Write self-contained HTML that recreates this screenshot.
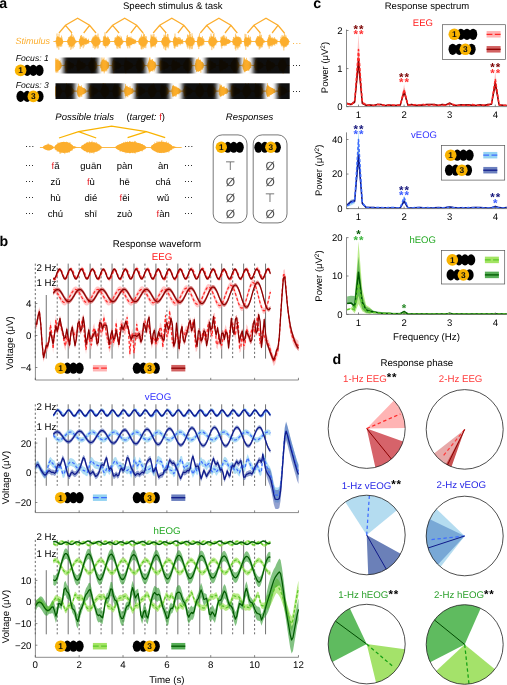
<!DOCTYPE html>
<html><head><meta charset="utf-8"><style>
html,body{margin:0;padding:0;background:#fff;}
svg{display:block;font-family:'Liberation Sans', 'DejaVu Sans', sans-serif;text-rendering:geometricPrecision;}
</style></head><body>
<svg width="507" height="685" viewBox="0 0 507 685">
<defs>
<filter id="hb" x="-0.2" y="0" width="1.4" height="1"><feGaussianBlur stdDeviation="2.1 0"/></filter>
<clipPath id="cb0"><rect x="55.5" y="57.5" width="234.2" height="15.9"/></clipPath>
<clipPath id="cb1"><rect x="55.5" y="83.2" width="234.2" height="15.8"/></clipPath>
<clipPath id="cc106"><rect x="346.5" y="20" width="161" height="86.6"/></clipPath>
<clipPath id="cc208"><rect x="346.5" y="120" width="161" height="88.6"/></clipPath>
<clipPath id="cc314"><rect x="346.5" y="225" width="161" height="89.4"/></clipPath>
</defs>
<text x="-0.8" y="7.9" font-size="14.2" font-weight="bold">a</text>
<text x="172.8" y="9.4" font-size="9.6" text-anchor="middle">Speech stimulus &amp; task</text>
<path d="M59 33l6.5-7.7 12.1-7 12 7 6.4 7.7 M65.5 25.3l6.5 7.7 M89.6 25.3l-5.9 7.7 M106.1 33l6.5-7.7 12.1-7 12 7 6.4 7.7 M112.6 25.3l6.5 7.7 M136.7 25.3l-5.9 7.7 M153.2 33l6.5-7.7 12.1-7 12 7 6.4 7.7 M159.7 25.3l6.5 7.7 M183.8 25.3l-5.9 7.7 M200.3 33l6.5-7.7 12.1-7 12 7 6.4 7.7 M206.8 25.3l6.5 7.7 M230.9 25.3l-5.9 7.7 M247.4 33l6.5-7.7 12.1-7 12 7 6.4 7.7 M253.9 25.3l6.5 7.7 M278 25.3l-5.9 7.7" fill="none" stroke="#fcae2e" stroke-width="1.25"/>
<text x="15.6" y="43.8" font-size="9.0" fill="#fcae2e" font-style="italic">Stimulus</text>
<path d="M53.5 41.3l.5 0 .5 0 .5 0 .5 0 .5 0 .5-2.1 .5-1.6 .5-1.2 .5 .9 .5-.5 .5 .3 .5 .3 .5 .6 .5-.4 .5 .5 .5 .5 .5 .5 .5 .5 .5 1.7 .5 0 .5 0 .5 0 .5 0 .5 0 .5 0 .5 0 .5 0 .5 0 .5-1.8 .5-.6 .5-.8 .5-.8 .5-.3 .5 .1 .5-.2 .5-.1 .5-.4 .5 .4 .5 .5 .5 .3 .5 .8 .5 .3 .5 .9 .5 1.2 .5 .1 .5 .2 .5 .2 .5 0 .5 0 .5 0 .5 0 .5-1.8 .5-1.9 .5 .1 .5-.3 .5-.1 .5 .9 .5-.5 .5 .8 .5-.2 .5 .6 .5 .1 .5 .1 .5-.2 .5 .3 .5 .2 .5 .2 .5 .3 .5 .1 .5 .2 .5 1.1 .5 0 .5 0 .5 0 .5 0 .5 0 .5-1.5 .5-.5 .5-1 .5-.3 .5-.4 .5-.4 .5 .2 .5-.9 .5 .2 .5 .5 .5-.4 .5 .8 .5 .1 .5 .2 .5 .7 .5 .8 .5 .5 .5 1.4 .5 0 .5 0 .5 0 .5 0 .5 0 .5-2 .5-2.1 .5-.2 .5 .3 .5-.3 .5 .3 .5 .2 .5 .4 .5 0 .5 .6 .5-.2 .5 .7 .5 .5 .5 1.8 .5 0 .5 0 .5 0 .5 0 .5 0 .5 0 .5 0 .5 0 .5 0 .5-1.7 .5-.7 .5-.7 .5-.4 .5-.7 .5 .3 .5-.4 .5-.7 .5 .4 .5 .3 .5 .4 .5 .6 .5-.2 .5 .6 .5 .9 .5 1.5 .5 0 .5 .3 .5 .2 .5 0 .5 0 .5 0 .5 0 .5-1.9 .5-1.8 .5 .1 .5-.6 .5 .4 .5 .1 .5 .7 .5 .2 .5-.3 .5 .1 .5 .5 .5 .3 .5 .1 .5-.1 .5 .2 .5 .4 .5 .2 .5 .1 .5 .2 .5 1.1 .5 0 .5 0 .5 0 .5 0 .5 0 .5-1.5 .5-.7 .5-.4 .5-.9 .5-.1 .5-.1 .5-.3 .5-.3 .5-.5 .5 .6 .5-.4 .5 .9 .5-.3 .5 .5 .5 1 .5 .6 .5 .7 .5 1.2 .5 0 .5 0 .5 0 .5 0 .5 0 .5-1.8 .5-2.2 .5-.4 .5-.4 .5 .2 .5 .6 .5 .1 .5 .3 .5 .4 .5-.1 .5 .3 .5 .7 .5 .5 .5 1.8 .5 0 .5 0 .5 0 .5 0 .5 0 .5 0 .5 0 .5 0 .5 0 .5-1.7 .5-1 .5-.2 .5-.9 .5-.3 .5-.6 .5 .4 .5-.2 .5 .3 .5-.3 .5 .8 .5-.2 .5 .4 .5 1 .5 .7 .5 1.3 .5 0 .5 .3 .5 .2 .5 0 .5 0 .5 0 .5 0 .5-1.8 .5-1.7 .5-.8 .5 .4 .5-.1 .5 .4 .5 .5 .5-.3 .5 .8 .5-.2 .5 .5 .5 .1 .5 .1 .5 .1 .5 .3 .5 .1 .5 .1 .5 .3 .5 .1 .5 1.1 .5 0 .5 0 .5 0 .5 0 .5 0 .5-1.5 .5-.6 .5-.6 .5-.9 .5 .3 .5-.4 .5-.1 .5-.2 .5 0 .5-.6 .5 .1 .5 .6 .5-.2 .5 .6 .5 .4 .5 .8 .5 1 .5 1.3 .5 0 .5 0 .5 0 .5 0 .5 0 .5-1.9 .5-1.8 .5-.6 .5 .4 .5-.5 .5 .1 .5 .6 .5 .1 .5 0 .5 .7 .5 0 .5 .7 .5 .5 .5 1.7 .5 0 .5 0 .5 0 .5 0 .5 0 .5 0 .5 0 .5 0 .5 0 .5-1.8 .5-.7 .5-.3 .5-.5 .5-.6 .5-.7 .5 .2 .5-.2 .5 .1 .5 .6 .5-.1 .5 .4 .5 .4 .5 .3 .5 1.2 .5 1.1 .5 .1 .5 .3 .5 .2 .5 0 .5 0 .5 0 .5 0 .5 0 .5-1.7 .5-2.1 .5-.2 .5 0 .5 .4 .5 .4 .5-.4 .5 .4 .5 .3 .5-.1 .5 .4 .5 .3 .5 .3 .5 .1 .5-.1 .5 .5 .5 0 .5 .2 .5 .2 .5 1.1 .5 0 .5 0 .5 0 .5 0 .5-1.2 .5-.8 .5-.9 .5-.7 .5 .2 .5-.5 .5-.6 .5 .2 .5-.7 .5 .9 .5 .1 .5-.3 .5 .4 .5 .3 .5 1.1 .5 .6 .5 .7 .5 1.2 .5 0 .5 0 .5 0 .5 0 .5 0 .5-2 .5-1.4 .5-1.2 .5 .3 .5 .4 .5 .1 .5 .3 .5-.5 .5 .5 .5 .2 .5 .5 .5 .7 .5 .4 .5 1.7 .5 0 .5 0 .5 0 .5 0 .5 0 .5 0 .5 0 .5 0 .5 0 .5-1.5 .5-1.1 .5-.3 .5-.5 .5-.6 .5 0 .5-.6 .5 .6 .5 0 .5-.1 .5 .4 .5-.3 .5 .6 .5 .7 .5 .8 .5 1.4 .5 .1 .5 .2 .5 .2 .5 0 .5 0 .5 0 .5 0 .5 0 .5-2 .5-1.2 .5-1 .5 .8 .5-.1 .5 .1 .5 .5 .5-.5 .5 .6 .5 .3 .5-.2 .5 .4 .5 .1 .5 .1 .5 .1 .5 .3 .5 .2 .5 .1 .5 .3 .5 1.1 .5 0 .5 0 .5 0 .5 0 .5 0 .5-1.5 .5-.7 .5-.8 .5-.6 .5-.2 .5-.6 .5 0 .5 .1 .5-.2 .5 .4 .5-.7 .5 1 .5 .2 .5 .6 .5 0 .5 .8 .5 .8 .5 1.4 .5 0 0 .6-.5 0-.5 1.4-.5 .8-.5 .8-.5 0-.5 .6-.5 .2-.5 1-.5-.7-.5 .4-.5-.2-.5 .1-.5 0-.5-.6-.5-.2-.5-.6-.5-.8-.5-.7-.5-1.5-.5 0-.5 0-.5 0-.5 0-.5 0-.5 1.1-.5 .3-.5 .1-.5 .2-.5 .3-.5 .1-.5 .1-.5 .1-.5 .4-.5-.2-.5 .3-.5 .6-.5-.5-.5 .5-.5 .1-.5-.1-.5 .8-.5-1-.5-1.2-.5-2-.5 0-.5 0-.5 0-.5 0-.5 0-.5 .2-.5 .2-.5 .1-.5 1.4-.5 .8-.5 .7-.5 .6-.5-.3-.5 .4-.5-.1-.5 0-.5 .6-.5-.6-.5 0-.5-.6-.5-.5-.5-.3-.5-1.1-.5-1.5-.5 0-.5 0-.5 0-.5 0-.5 0-.5 0-.5 0-.5 0-.5 0-.5 1.7-.5 .4-.5 .7-.5 .5-.5 .2-.5 .5-.5-.5-.5 .3-.5 .1-.5 .4-.5 .3-.5-1.2-.5-1.4-.5-2-.5 0-.5 0-.5 0-.5 0-.5 0-.5 1.2-.5 .7-.5 .6-.5 1.1-.5 .3-.5 .4-.5-.3-.5 .1-.5 .9-.5-.7-.5 .2-.5-.6-.5-.5-.5 .2-.5-.7-.5-.9-.5-.8-.5-1.2-.5 0-.5 0-.5 0-.5 0-.5 1.1-.5 .2-.5 .2-.5 0-.5 .5-.5-.1-.5 .1-.5 .3-.5 .3-.5 .4-.5-.1-.5 .3-.5 .4-.5-.4-.5 .4-.5 .4-.5 0-.5-.2-.5-2.1-.5-1.7-.5 0-.5 0-.5 0-.5 0-.5 0-.5 .2-.5 .3-.5 .1-.5 1.1-.5 1.2-.5 .3-.5 .4-.5 .4-.5-.1-.5 .6-.5 .1-.5-.2-.5 .2-.5-.7-.5-.6-.5-.5-.5-.3-.5-.7-.5-1.8-.5 0-.5 0-.5 0-.5 0-.5 0-.5 0-.5 0-.5 0-.5 0-.5 1.7-.5 .5-.5 .7-.5 0-.5 .7-.5 0-.5 .1-.5 .6-.5 .1-.5-.5-.5 .4-.5-.6-.5-1.8-.5-1.9-.5 0-.5 0-.5 0-.5 0-.5 0-.5 1.3-.5 1-.5 .8-.5 .4-.5 .6-.5-.2-.5 .6-.5 .1-.5-.6-.5 0-.5-.2-.5-.1-.5-.4-.5 .3-.5-.9-.5-.6-.5-.6-.5-1.5-.5 0-.5 0-.5 0-.5 0-.5 0-.5 1.1-.5 .1-.5 .3-.5 .1-.5 .1-.5 .3-.5 .1-.5 .1-.5 .1-.5 .5-.5-.2-.5 .8-.5-.3-.5 .5-.5 .4-.5-.1-.5 .4-.5-.8-.5-1.7-.5-1.8-.5 0-.5 0-.5 0-.5 0-.5 .2-.5 .3-.5 0-.5 1.3-.5 .7-.5 1-.5 .4-.5-.2-.5 .8-.5-.3-.5 .3-.5-.2-.5 .4-.5-.6-.5-.3-.5-.9-.5-.2-.5-1-.5-1.7-.5 0-.5 0-.5 0-.5 0-.5 0-.5 0-.5 0-.5 0-.5 0-.5 1.8-.5 .5-.5 .7-.5 .3-.5-.1-.5 .4-.5 .3-.5 .1-.5 .6-.5 .2-.5-.4-.5-.4-.5-2.2-.5-1.8-.5 0-.5 0-.5 0-.5 0-.5 0-.5 1.2-.5 .7-.5 .6-.5 1-.5 .5-.5-.3-.5 .9-.5-.4-.5 .6-.5-.5-.5-.3-.5-.3-.5-.1-.5-.1-.5-.9-.5-.4-.5-.7-.5-1.5-.5 0-.5 0-.5 0-.5 0-.5 0-.5 1.1-.5 .2-.5 .1-.5 .2-.5 .4-.5 .2-.5-.1-.5 .1-.5 .3-.5 .5-.5 .1-.5-.3-.5 .2-.5 .7-.5 .1-.5 .4-.5-.6-.5 .1-.5-1.8-.5-1.9-.5 0-.5 0-.5 0-.5 0-.5 .2-.5 .3-.5 0-.5 1.5-.5 .9-.5 .6-.5-.2-.5 .6-.5 .4-.5 .3-.5 .4-.5-.7-.5-.4-.5 .3-.5-.7-.5-.4-.5-.7-.5-.7-.5-1.7-.5 0-.5 0-.5 0-.5 0-.5 0-.5 0-.5 0-.5 0-.5 0-.5 1.8-.5 .5-.5 .7-.5-.2-.5 .6-.5 0-.5 .4-.5 .2-.5 .3-.5-.3-.5 .3-.5-.2-.5-2.1-.5-2-.5 0-.5 0-.5 0-.5 0-.5 0-.5 1.4-.5 .5-.5 .8-.5 .7-.5 .2-.5 .1-.5 .8-.5-.4-.5 .5-.5 .2-.5-.9-.5 .2-.5-.4-.5-.4-.5-.3-.5-1-.5-.5-.5-1.5-.5 0-.5 0-.5 0-.5 0-.5 0-.5 1.1-.5 .2-.5 .1-.5 .3-.5 .2-.5 .2-.5 .3-.5-.2-.5 .1-.5 .1-.5 .6-.5-.2-.5 .8-.5-.5-.5 .9-.5-.1-.5-.3-.5 .1-.5-1.9-.5-1.8-.5 0-.5 0-.5 0-.5 0-.5 .2-.5 .2-.5 .1-.5 1.2-.5 .9-.5 .3-.5 .8-.5 .3-.5 .5-.5 .4-.5-.4-.5-.1-.5-.2-.5 .1-.5-.3-.5-.8-.5-.8-.5-.6-.5-1.8-.5 0-.5 0-.5 0-.5 0-.5 0-.5 0-.5 0-.5 0-.5 0-.5 1.7-.5 .5-.5 .5-.5 .5-.5 .5-.5-.4-.5 .6-.5 .3-.5 .3-.5-.5-.5 .9-.5-1.2-.5-1.6-.5-2.1-.5 0-.5 0-.5 0-.5 0-.5 0Z" fill="#fcae2e"/><path d="M53.5 41.4l.3 .4 .2-.4 .2 .4 .3-.4 .3 .4 .2-.4 .2 .4 .3-.4 .3 .4 .2-1.7 .2 3.7 .3-6.3 .3 9.1 .2-13.1 .2 14.7 .3-12.1 .3 9.5 .2-8 .2 8.7 .3-9.7 .3 13.1 .2-16 .2 9.4 .3-4.3 .3 8 .2-9.5 .2 8.6 .3-7.9 .3 9 .2-8.3 .2 6.9 .3-10 .3 10.8 .2-9 .2 6.7 .3-3.8 .3 2.8 .2-1.7 .2 .4 .3-.4 .3 .4 .2-.4 .2 .4 .3-.4 .3 .4 .2-.4 .2 .4 .3-.4 .3 .4 .2-.4 .2 .4 .3-.4 .3 .4 .2-.4 .2 .4 .3-1.6 .3 2.6 .2-3.6 .2 5.9 .3-8.1 .3 8.1 .2-7.2 .2 9.5 .3-10.5 .3 10 .2-10.7 .2 7.8 .3-8.2 .3 14.1 .2-14.5 .2 11.6 .3-13.9 .3 15.6 .2-14.6 .2 12.2 .3-7.2 .3 7 .2-9.1 .2 11.3 .3-12.6 .3 8.8 .2-6.2 .2 8.6 .3-9.4 .3 6.2 .2-4 .2 3.7 .3-2.6 .3 2.1 .2-2.3 .2 1.8 .3-1.4 .3 1.1 .2-.7 .2 .4 .3-.4 .3 .4 .2-.4 .2 .4 .3-.4 .3 .4 .2-.4 .2 2.1 .3-4.4 .3 4.6 .2-4.4 .2 9.7 .3-13 .3 10.4 .2-11 .2 11.7 .3-12.1 .3 11.3 .2-8.7 .2 6.7 .3-7.2 .3 7.6 .2-8.6 .2 12.1 .3-9.3 .3 4.1 .2-6.1 .2 9.5 .3-6.9 .3 3.9 .2-5.4 .2 6.2 .3-5.6 .3 6.2 .2-7 .2 6.6 .3-5.7 .3 5.1 .2-3.7 .2 3.3 .3-3.4 .3 3.9 .2-3.9 .2 3.2 .3-4.4 .3 4.6 .2-2 .2 .4 .3-.4 .3 .4 .2-.4 .2 .4 .3-.4 .3 .4 .2-.4 .2 .4 .3-1.2 .3 2.4 .2-4.1 .2 4.6 .3-5.5 .3 5.3 .2-6.5 .2 11.2 .3-11.3 .3 9.1 .2-9.1 .2 9.7 .3-10.3 .3 13.2 .2-14.4 .2 12.4 .3-12.5 .3 13.6 .2-13.5 .2 12.5 .3-11.1 .3 7.6 .2-8.5 .2 10.9 .3-8.7 .3 11.1 .2-15.1 .2 14.1 .3-10.9 .3 7.7 .2-7 .2 7.4 .3-5.2 .3 3.9 .2-4.2 .2 3.1 .3-1.2 .3 .5 .2-.4 .2 .4 .3-.4 .3 .4 .2-.4 .2 .4 .3-.4 .3 .4 .2-1.4 .2 5.1 .3-9.1 .3 8.2 .2-7.8 .2 9 .3-10.1 .3 10 .2-13.4 .2 14.1 .3-10.6 .3 12.4 .2-10.7 .2 8.1 .3-7.5 .3 8 .2-8 .2 8.2 .3-9.8 .3 9.8 .2-9.5 .2 8.5 .3-7.8 .3 6.5 .2-5 .2 4.8 .3-4.4 .3 3.5 .2-1.5 .2 .4 .3-.4 .3 .4 .2-.4 .2 .4 .3-.4 .3 .4 .2-.4 .2 .4 .3-.4 .3 .4 .2-.4 .2 .4 .3-.4 .3 .4 .2-.4 .2 .4 .3-1.8 .3 3.2 .2-5.6 .2 7.4 .3-7.7 .3 7.7 .2-6.8 .2 7.7 .3-8.2 .3 10.7 .2-12.3 .2 10.5 .3-11.8 .3 14 .2-12.7 .2 9.4 .3-9.1 .3 7.9 .2-6.9 .2 10.7 .3-10.6 .3 10.6 .2-12.5 .2 12.8 .3-10.2 .3 6.5 .2-6.8 .2 4.9 .3-6.2 .3 7.7 .2-5 .2 4.8 .3-3.2 .3 1.3 .2-1.5 .2 1.6 .3-1.2 .3 .9 .2-.6 .2 .4 .3-.4 .3 .4 .2-.4 .2 .4 .3-.4 .3 .4 .2-.4 .2 1.7 .3-4.9 .3 7.7 .2-10.1 .2 10.6 .3-11.5 .3 13.5 .2-10.6 .2 7.1 .3-7.7 .3 8.7 .2-8.5 .2 9.7 .3-10.3 .3 11.5 .2-11 .2 8.3 .3-7.8 .3 6.8 .2-8.1 .2 8.4 .3-6.5 .3 6.8 .2-7.3 .2 5.9 .3-5.2 .3 4.4 .2-4.4 .2 5.4 .3-4.6 .3 4.3 .2-4.6 .2 5.1 .3-4.4 .3 3.5 .2-3.5 .2 3.2 .3-3.2 .3 3.8 .2-2.2 .2 .4 .3-.4 .3 .4 .2-.4 .2 .4 .3-.4 .3 .4 .2-.4 .2 .4 .3-.4 .3 1.2 .2-2.9 .2 4.8 .3-6.6 .3 7 .2-5.8 .2 5.1 .3-7.5 .3 9.6 .2-7.6 .2 10.4 .3-14.6 .3 15 .2-13.3 .2 12.1 .3-10 .3 8.8 .2-10.3 .2 12.3 .3-16.2 .3 14.2 .2-12.2 .2 13.1 .3-14 .3 13.4 .2-8.4 .2 7.3 .3-10.2 .3 12.1 .2-9.1 .2 6.2 .3-8.9 .3 7.2 .2-3.6 .2 3.5 .3-3.1 .3 1.5 .2-.5 .2 .4 .3-.4 .3 .4 .2-.4 .2 .4 .3-.4 .3 .4 .2-.4 .2 1.7 .3-3.7 .3 7.3 .2-12.2 .2 13.8 .3-12.8 .3 11.7 .2-8.3 .2 7.2 .3-9.5 .3 9.1 .2-11.3 .2 11 .3-9 .3 10.4 .2-12.8 .2 10.3 .3-7.4 .3 9 .2-8.6 .2 10 .3-8.9 .3 4.8 .2-6.5 .2 7.3 .3-5.1 .3 4.2 .2-3.3 .2 2 .3-.4 .3 .4 .2-.4 .2 .4 .3-.4 .3 .4 .2-.4 .2 .4 .3-.4 .3 .4 .2-.4 .2 .4 .3-.4 .3 .4 .2-.4 .2 .4 .3-.4 .3 1.6 .2-2.9 .2 4.5 .3-6.5 .3 6.4 .2-6.3 .2 7.9 .3-8.9 .3 11.4 .2-13.9 .2 12.4 .3-10.4 .3 9.6 .2-11 .2 14.7 .3-18.2 .3 18.6 .2-14.9 .2 12.2 .3-10.6 .3 7.9 .2-7.8 .2 9.9 .3-13.2 .3 13.4 .2-13.1 .2 14.2 .3-11.1 .3 9 .2-7.8 .2 4.8 .3-3.4 .3 2.4 .2-1.7 .2 1.9 .3-1.7 .3 1.4 .2-1 .2 .6 .3-.4 .3 .4 .2-.4 .2 .4 .3-.4 .3 .4 .2-.4 .2 1.7 .3-4.4 .3 7 .2-7.9 .2 10.1 .3-11.4 .3 12.3 .2-15.2 .2 13.7 .3-10 .3 7.8 .2-8.3 .2 9.9 .3-8.7 .3 7.6 .2-7.8 .2 9.1 .3-7.2 .3 6.8 .2-9.2 .2 6.7 .3-7 .3 6.4 .2-3.7 .2 3.9 .3-6.3 .3 6.9 .2-6.6 .2 7.7 .3-6.9 .3 4.9 .2-3.6 .2 4.3 .3-3.7 .3 2.9 .2-3.7 .2 4.7 .3-4.8 .3 4.5 .2-2.5 .2 .4 .3-.4 .3 .4 .2-.4 .2 .4 .3-.4 .3 .4 .2-.4 .2 .4 .3-.4 .3 1 .2-2.1 .2 3 .3-4.9 .3 6.9 .2-6.5 .2 8.3 .3-12.6 .3 14.1 .2-13.4 .2 11.1 .3-9.9 .3 8.6 .2-10.1 .2 12.8 .3-15.1 .3 16.9 .2-12.7 .2 11.5 .3-14.6 .3 11.3 .2-7 .2 7.6 .3-7.3 .3 10.9 .2-15.9 .2 15.4 .3-12.8 .3 10.3 .2-8.7 .2 6.5 .3-5.7 .3 6.8 .2-6.7 .2 5 .3-3.3 .3 1.8 .2-.5 .2 .4 .3-.4 .3 .4 .2-.4 .2 .4 .3-.4 .3 .4 .2-.4 .2 1.1 .3-2.8 .3 5.5 .2-8.2 .2 9.8 .3-9.9 .3 12.2 .2-13.4 .2 11.2 .3-13.5 .3 12.9 .2-6 .2 4.9 .3-7.9 .3 4.9 .2-4.8 .2 8.9 .3-7.9 .3 6.3 .2-7.6 .2 8.5 .3-9.5 .3 9.2 .2-5.2 .2 3.6 .3-5.3 .3 6.7 .2-5.7 .2 2.4 .3-.4 .3 .4 .2-.4 .2 .4 .3-.4 .3 .4 .2-.4 .2 .4 .3-.4 .3 .4 .2-.4 .2 .4 .3-.4 .3 .4 .2-.4 .2 .4 .3-.4 .3 1.9 .2-3.9 .2 4.8 .3-6.9 .3 7.9 .2-8.8 .2 9.9 .3-8.5 .3 8.3 .2-12.5 .2 11 .3-8.8 .3 14.3 .2-13.2 .2 9.8 .3-9.7 .3 9.9 .2-10.8 .2 12.2 .3-14.2 .3 14.2 .2-15.2 .2 13.3 .3-8 .3 5.5 .2-4.3 .2 4.9 .3-7.6 .3 8.5 .2-6.6 .2 4.8 .3-3.8 .3 2.5 .2-1.6 .2 1.5 .3-1.1 .3 1.1 .2-.9 .2 .5 .3-.4 .3 .4 .2-.4 .2 .4 .3-.4 .3 .4 .2-.4 .2 .4 .3-1.6 .3 2.6 .2-5.9 .2 9.5 .3-8.4 .3 10.5 .2-12.2 .2 8.8 .3-8.4 .3 8.4 .2-9.4 .2 9.8 .3-10 .3 9.7 .2-10.3 .2 11.3 .3-9.7 .3 7.5 .2-5.3 .2 7.4 .3-5.5 .3 3.9 .2-8.1 .2 9.5 .3-8.7 .3 7.2 .2-5.8 .2 4.8 .3-3.4 .3 3.1 .2-3.9 .2 4.8 .3-4.7 .3 2.6 .2-1.4 .2 2.7 .3-3.3 .3 3 .2-2.5 .2 1.4 .3-.4 .3 .4 .2-.4 .2 .4 .3-.4 .3 .4 .2-.4 .2 .4 .3-.4 .3 1.6 .2-3.9 .2 6.1 .3-8.2 .3 7.8 .2-7.9 .2 7.4 .3-5.2 .3 6 .2-7.1 .2 10.9 .3-15.2 .3 16.8 .2-15.3 .2 13 .3-11.2 .3 7.8 .2-8.5 .2 11.3 .3-10.3 .3 12.1 .2-11.3 .2 9.8 .3-11.4 .3 9.8 .2-7.9 .2 7.9 .3-9.3 .3 10.3 .2-10.3 .2 7.3 .3-6.2 .3 5.8 .2-5.2 .2 5.3 .3-3.6 .3 1.5 .2-.5 .2 .4 .3-.4 .3 .4 .2-.4 .2 .4 .3-.4 .3 .4 .2-.4 .2 1.1 .3-3.8 .3 7.1 .2-12 .2 12.7 .3-8.3 .3 11.6 .2-15.6 .2 11.4 .3-6.5 .3 7.1 .2-7.3 .2 7.9 .3-7.5 .3 7.9 .2-7.9 .2 7.2 .3-11.4 .3 10.1 .2-7.6 .2 7 .3-6 .3 5.4 .2-7.5 .2 8.7 .3-8 .3 6.1 .2-3.2 .2 1.7 .3-.4 .3 .4 .2-.4 .2 .4 .3-.4 .3 .4 .2-.4 .2 .4 .3-.4 .3 .4 .2-.4 .2 .4 .3-.4 .3 .4 .2-.4 .2 .4 .3-.4 .3 1.3 .2-3.1 .2 3.9 .3-5.2 .3 7.1 .2-8.2 .2 8.3 .3-9.5 .3 10.3 .2-10 .2 10.3 .3-10.3 .3 9.1 .2-8.7 .2 12.9 .3-14.3 .3 12.7 .2-15 .2 15.6 .3-13 .3 11.3 .2-8 .2 7.7 .3-11.8 .3 12.9 .2-9 .2 8.2 .3-8.6 .3 6.8 .2-6.5 .2 4.4 .3-3.2 .3 2.4 .2-1.8 .2 2.2 .3-2 .3 1.7 .2-1 .2 .5 .3-.4 .3 .4 .2-.4 .2 .4 .3-.4 .3 .4 .2-.4 .2 .4 .3-2.2 .3 5.5 .2-6.4 .2 7.7 .3-9.3 .3 9.1 .2-11.1 .2 13.6 .3-13.8 .3 11.3 .2-11.8 .2 11.8 .3-10 .3 10 .2-7.1 .2 5.6 .3-6.4 .3 8.2 .2-9.5 .2 9.2 .3-7.6 .3 6.7 .2-7.5 .2 5.5 .3-4.5 .3 6.3 .2-6.8 .2 6.5 .3-7.7 .3 8.5 .2-7.2 .2 5 .3-4.2 .3 4.5 .2-3.9 .2 3.8 .3-3.9 .3 4.7 .2-4.8 .2 2.2 .3-.4 .3 .4 .2-.4 .2 .4 .3-.4 .3 .4 .2-.4 .2 .4 .3-.4 .3 .4 .2-1 .2 2.3 .3-3.9 .3 4.1 .2-6.5 .2 8.6 .3-7 .3 8.1 .2-11.2 .2 9.4 .3-7.7 .3 7.1 .2-8.7 .2 12 .3-11.3 .3 14.3 .2-13.2 .2 10.5 .3-15.2 .3 14.7 .2-12.5 .2 11.4 .3-8.5 .3 9.2 .2-11.3 .2 11.4 .3-9.7 .3 8.5 .2-6.8 .2 6.6 .3-7.2 .3 6.5 .2-4.6 .2 4.5 .3-5.2 .3 3 .2-1.2 .2 .5 .3-.4 .3 .4" fill="none" stroke="#fcae2e" stroke-width="0.5" stroke-opacity="0.8"/>
<text x="292" y="45.9" font-size="9.5" fill="#fcae2e">···</text>
<text x="15.8" y="61.2" font-size="8.6" font-style="italic">Focus: 1</text>
<ellipse cx="27.2" cy="70.4" rx="4.15" ry="5.6" fill="#000"/>
<ellipse cx="33.3" cy="70.4" rx="4.15" ry="5.6" fill="#000"/>
<ellipse cx="39.4" cy="70.4" rx="4.15" ry="5.6" fill="#000"/>
<circle cx="20.6" cy="70.4" r="5.8" fill="#f9b300"/>
<text x="20.6" y="73.4" font-size="8.4" text-anchor="middle" fill="#111" font-weight="bold">1</text>
<text x="15.8" y="87.5" font-size="8.6" font-style="italic">Focus: 3</text>
<ellipse cx="20.6" cy="96.4" rx="4.15" ry="5.6" fill="#000"/>
<ellipse cx="27.2" cy="96.4" rx="4.15" ry="5.6" fill="#000"/>
<ellipse cx="39.4" cy="96.4" rx="4.15" ry="5.6" fill="#000"/>
<circle cx="33.3" cy="96.4" r="5.8" fill="#f9b300"/>
<text x="33.3" y="99.4" font-size="8.4" text-anchor="middle" fill="#111" font-weight="bold">3</text>
<g clip-path="url(#cb0)">
<path d="M50 65.2l.5 0 .5 0 .5 0 .5 0 .5 0 .5 0 .5-2.2 .5-2.5 .5-.9 .5 .3 .5-.2 .5-.5 .5 .5 .5-.3 .5 .2 .5 .3 .5 1.1 .5-.1 .5 .2 .5 .4 .5 1.1 .5 .5 .5 2.1 .5 0 .5 0 .5 0 .5 0 .5 0 .5 0 .5 0 .5-3 .5-2.7 .5 .7 .5 .5 .5 0 .5-.2 .5 .8 .5 .3 .5-.1 .5 .2 .5 .6 .5 .3 .5 .2 .5 .2 .5 .2 .5 .2 .5 .1 .5 1.7 .5 0 .5 0 .5 0 .5 0 .5 0 .5-3 .5-2.1 .5-.5 .5 .8 .5-.2 .5 .7 .5-.1 .5 .9 .5 .1 .5-.1 .5 .6 .5 .2 .5 0 .5 .5 .5 .2 .5 .1 .5 .5 .5 1.4 .5 0 .5 0 .5 0 .5 0 .5 0 .5 0 .5-1.7 .5-1.2 .5-.9 .5-1.1 .5-.3 .5 .2 .5-1 .5-.4 .5 1 .5-1 .5 1.4 .5-.3 .5 .9 .5 .6 .5 1 .5 1.1 .5 1.6 .5 .1 .5 0 .5 0 .5 0 .5 0 .5 0 .5 0 .5-2.1 .5-2.2 .5-1.3 .5 .2 .5 .2 .5-.4 .5 .1 .5 .4 .5 .6 .5-.3 .5-.2 .5 .7 .5 .4 .5 .5 .5 .7 .5 .6 .5 2.1 .5 0 .5 0 .5 0 .5 0 .5 0 .5 0 .5-2.5 .5-2.8 .5-.1 .5 .3 .5 .6 .5-.3 .5 .4 .5 .4 .5 .5 .5 0 .5 .6 .5 .2 .5 .4 .5-.1 .5 .5 .5 .2 .5 .2 .5 1.5 .5 0 .5 0 .5 0 .5 0 .5 0 .5 0 .5-2.7 .5-2 .5 0 .5 .1 .5 0 .5-.2 .5 .8 .5-.2 .5 .3 .5 .7 .5-.1 .5 .5 .5 .2 .5 .1 .5 .4 .5 .2 .5 .5 .5 1.4 .5 0 .5 0 .5 0 .5 0 .5 0 .5 0 .5-1.9 .5-1.4 .5-.6 .5-1 .5 .2 .5-.3 .5-.7 .5 .2 .5-1.1 .5 1.2 .5-.1 .5 .9 .5 .5 .5 0 .5 1 .5 1.3 .5 1.7 .5 .1 .5 0 .5 0 .5 0 .5 0 .5 0 .5-2.2 .5-1.8 .5-2 .5 0 .5 .5 .5-.2 .5 .5 .5-.3 .5 1 .5-.9 .5 .8 .5 .5 .5 .3 .5 .6 .5 .1 .5 1.1 .5 2 .5 0 .5 0 .5 0 .5 0 .5 0 .5 0 .5 0 .5-2.7 .5-2.9 .5 .3 .5 .6 .5 .4 .5 .2 .5 .1 .5 .4 .5-.3 .5 .2 .5 .3 .5 .4 .5 .4 .5 .1 .5 .5 .5 .4 .5-.1 .5 1.7 .5 0 .5 0 .5 0 .5 0 .5 0 .5 0 .5-2.5 .5-2.7 .5-.6 .5 .8 .5-.1 .5 .3 .5 .5 .5 .7 .5-.4 .5 .4 .5 .3 .5 .7 .5-.2 .5 .4 .5 .3 .5 .5 .5 0 .5 1.6 .5 0 .5 0 .5 0 .5 0 .5 0 .5 0 .5-1.9 .5-1.2 .5-.5 .5-1.3 .5-.3 .5-.4 .5 .3 .5-.7 .5 .2 .5-.6 .5 1.3 .5-.1 .5 .7 .5 .3 .5 1 .5 1.3 .5 1.8 .5 .1 .5 0 .5 0 .5 0 .5 0 .5 0 .5-2.3 .5-2.3 .5-1.6 .5 .5 .5 .3 .5-.6 .5 .2 .5 0 .5 .6 .5-.1 .5 1 .5 .2 .5 .3 .5 .6 .5 .1 .5 .9 .5 2.2 .5 0 .5 0 .5 0 .5 0 .5 0 .5 0 .5 0 .5-2.5 .5-2.5 .5-.2 .5 .8 .5-.4 .5 .4 .5 .2 .5-.1 .5 .7 .5-.1 .5 .5 .5 .4 .5 .4 .5-.1 .5 .5 .5 .3 .5 .2 .5 1.5 .5 0 .5 0 .5 0 .5 0 .5 0 .5 0 .5-2.6 .5-2.9 .5-.2 .5 .6 .5 .7 .5 .1 .5 .2 .5-.1 .5 .8 .5-.2 .5 .5 .5 .1 .5 .3 .5 .2 .5 .4 .5 .4 .5 .2 .5 1.5 .5 0 .5 0 .5 0 .5 0 .5 0 .5-1.9 .5-1.3 .5-.2 .5-1.3 .5-.3 .5-1.1 .5-.2 .5 .2 .5-.5 .5 .5 .5 1 .5-.1 .5 .2 .5 1.5 .5 .5 .5 1.3 .5 1.6 .5 .1 .5 0 .5 0 .5 0 .5 0 .5 0 .5 0 .5-2.3 .5-2.1 .5-1.8 .5 .5 .5-.1 .5 0 .5 .4 .5 0 .5 .3 .5 .4 .5 .1 .5 .3 .5 .3 .5 .4 .5 .6 .5 .8 .5 2.2 .5 0 .5 0 .5 0 .5 0 .5 0 .5 0 .5 0 .5-2.6 .5-2.3 .5 .2 .5 0 .5 .1 .5 .4 .5 .4 .5 .2 .5 .3 .5 0 .5 .1 .5 .1 .5 .3 .5 .6 .5 .1 .5 .2 .5 .5 .5 1.4 .5 0 .5 0 .5 0 .5 0 .5 0 .5-2.7 .5-1.9 .5-1.1 .5 .4 .5 .9 .5 0 .5-.1 .5 1 .5-.3 .5 .5 .5 .4 .5-.2 .5 .4 .5 .4 .5 .4 .5 0 .5 .5 .5 1.4 .5 0 .5 0 .5 0 .5 0 .5 0 .5 0 .5-2.1 .5-1.1 .5-1 .5-.7 .5-.3 .5 .1 .5-.6 .5-.2 .5-.2 .5-.1 .5 .3 .5 .9 .5 .2 .5 1.2 .5 .7 .5 .9 .5 1.9 .5 .1 .5 0 .5 0 .5 0 .5 0 .5 0 0 .6-.5 0-.5 0-.5 0-.5 0-.5 0-.5 0-.5 1.9-.5 .9-.5 .7-.5 1.2-.5 .2-.5 .9-.5 .3-.5-.1-.5-.2-.5-.2-.5-.6-.5 .1-.5-.3-.5-.7-.5-1-.5-1.1-.5-2-.5 0-.5 0-.5 0-.5 0-.5 0-.5 0-.5 1.3-.5 .5-.5 0-.5 .4-.5 .4-.5 .4-.5-.2-.5 .4-.5 .5-.5-.3-.5 1-.5-.1-.5 0-.5 .9-.5 .4-.5-1.1-.5-1.9-.5-2.6-.5 0-.5 0-.5 0-.5 0-.5 0-.5 1.3-.5 .5-.5 .2-.5 .1-.5 .6-.5 .3-.5 .1-.5 .1-.5 0-.5 .3-.5 .2-.5 .4-.5 .4-.5 .1-.5 0-.5 .2-.5-2.3-.5-2.5-.5 0-.5 0-.5 0-.5 0-.5 0-.5 0-.5 0-.5 2.1-.5 .8-.5 .6-.5 .4-.5 .3-.5 .3-.5 .1-.5 .4-.5 .3-.5 0-.5 .4-.5 0-.5-.1-.5 .5-.5-1.8-.5-2.1-.5-2.2-.5 0-.5 0-.5 0-.5 0-.5 0-.5 0-.5 0-.5 1.6-.5 1.3-.5 .5-.5 1.5-.5 .2-.5-.1-.5 1-.5 .5-.5-.5-.5 .2-.5-.2-.5-1.1-.5-.3-.5-1.3-.5-.2-.5-1.3-.5-1.8-.5 0-.5 0-.5 0-.5 0-.5 0-.5 1.4-.5 .2-.5 .4-.5 .4-.5 .2-.5 .3-.5 .1-.5 .5-.5-.2-.5 .8-.5-.1-.5 .2-.5 .1-.5 .7-.5 .6-.5-.2-.5-2.9-.5-2.5-.5 0-.5 0-.5 0-.5 0-.5 0-.5 0-.5 1.4-.5 .2-.5 .3-.5 .5-.5-.1-.5 .4-.5 .4-.5 .5-.5-.1-.5 .7-.5-.1-.5 .2-.5 .4-.5-.4-.5 .8-.5-.2-.5-2.5-.5-2.4-.5 0-.5 0-.5 0-.5 0-.5 0-.5 0-.5 0-.5 2.1-.5 .9-.5 .1-.5 .6-.5 .3-.5 .2-.5 1-.5-.1-.5 .6-.5 0-.5 .2-.5-.6-.5 .3-.5 .5-.5-1.6-.5-2.3-.5-2.2-.5 0-.5 0-.5 0-.5 0-.5 0-.5 0-.5 1.8-.5 1.3-.5 1-.5 .3-.5 .7-.5-.1-.5 1.3-.5-.6-.5 .2-.5-.7-.5 .3-.5-.4-.5-.3-.5-1.3-.5-.5-.5-1.2-.5-1.8-.5 0-.5 0-.5 0-.5 0-.5 0-.5 0-.5 1.5-.5 0-.5 .5-.5 .3-.5 .4-.5-.2-.5 .7-.5 .3-.5 .4-.5-.4-.5 .7-.5 .5-.5 .3-.5-.1-.5 .8-.5-.6-.5-2.7-.5-2.4-.5 0-.5 0-.5 0-.5 0-.5 0-.5 0-.5 1.6-.5-.1-.5 .4-.5 .5-.5 .1-.5 .4-.5 .4-.5 .3-.5 .2-.5-.3-.5 .4-.5 .1-.5 .2-.5 .4-.5 .6-.5 .3-.5-2.9-.5-2.6-.5 0-.5 0-.5 0-.5 0-.5 0-.5 0-.5 0-.5 1.9-.5 1.1-.5 .1-.5 .6-.5 .3-.5 .5-.5 .8-.5-.9-.5 1-.5-.3-.5 .5-.5-.2-.5 .5-.5 0-.5-2-.5-1.8-.5-2.1-.5 0-.5 0-.5 0-.5 0-.5 0-.5 0-.5 1.7-.5 1.3-.5 1-.5 0-.5 .5-.5 .9-.5-.1-.5 1.2-.5-1.1-.5 .2-.5-.7-.5-.3-.5 .2-.5-1-.5-.6-.5-1.4-.5-1.8-.5 0-.5 0-.5 0-.5 0-.5 0-.5 0-.5 1.3-.5 .5-.5 .2-.5 .4-.5 .1-.5 .2-.5 .5-.5-.1-.5 .7-.5 .3-.5-.2-.5 .8-.5-.2-.5 0-.5 .1-.5 0-.5-2-.5-2.6-.5 0-.5 0-.5 0-.5 0-.5 0-.5 0-.5 1.4-.5 .2-.5 .2-.5 .5-.5-.1-.5 .4-.5 .2-.5 .6-.5 0-.5 .5-.5 .4-.5 .4-.5-.3-.5 .6-.5 .3-.5-.1-.5-2.8-.5-2.4-.5 0-.5 0-.5 0-.5 0-.5 0-.5 0-.5 2-.5 .6-.5 .7-.5 .5-.5 .4-.5 .7-.5-.2-.5-.3-.5 .6-.5 .4-.5 .1-.5-.4-.5 .2-.5 .2-.5-1.3-.5-2.2-.5-2-.5 0-.5 0-.5 0-.5 0-.5 0-.5 0-.5 0-.5 1.6-.5 1.1-.5 1-.5 .6-.5 .9-.5-.3-.5 1.4-.5-1-.5 1-.5-.4-.5-1-.5 .2-.5-.3-.5-1.1-.5-.9-.5-1.2-.5-1.6-.5 0-.5 0-.5 0-.5 0-.5 0-.5 0-.5 1.3-.5 .5-.5 .1-.5 .2-.5 .5-.5 0-.5 .2-.5 .6-.5-.1-.5 .1-.5 .9-.5-.1-.5 .7-.5-.2-.5 .8-.5-.5-.5-2.1-.5-2.9-.5 0-.5 0-.5 0-.5 0-.5 0-.5 1.6-.5 .1-.5 .2-.5 .2-.5 .2-.5 .2-.5 .3-.5 .6-.5 .2-.5-.1-.5 .3-.5 .8-.5-.2-.5 0-.5 .5-.5 .7-.5-2.7-.5-2.9-.5 0-.5 0-.5 0-.5 0-.5 0-.5 0-.5 0-.5 2-.5 .5-.5 1.1-.5 .4-.5 .2-.5-.1-.5 1.1-.5 .3-.5 .2-.5-.3-.5 .5-.5-.5-.5-.2-.5 .3-.5-.9-.5-2.5-.5-2.1-.5 0-.5 0-.5 0-.5 0-.5 0-.5 0Z" fill="#fcae2e"/><path d="M50 65.2l.2 .5 .3-.5 .3 .5 .2-.5 .2 .5 .3-.5 .3 .5 .2-.5 .2 .5 .3-.5 .3 .5 .2-1.4 .2 4 .3-6.3 .3 8.4 .2-8.8 .2 8.6 .3-8.2 .3 10 .2-12.8 .2 13.2 .3-14.2 .3 11.8 .2-11.9 .2 15 .3-10.2 .3 4.6 .2-4.6 .2 8.6 .3-11.6 .3 12.8 .2-13.9 .2 12.3 .3-10.9 .3 9.3 .2-8.4 .2 6.4 .3-5.1 .3 7 .2-9.1 .2 8 .3-5.2 .3 4.8 .2-5.2 .2 4.2 .3-1.7 .3 .5 .2-.5 .2 .5 .3-.5 .3 .5 .2-.5 .2 .5 .3-.5 .3 .5 .2-.5 .2 .5 .3-.5 .3 .5 .2-1.9 .2 4.6 .3-7.2 .3 10.6 .2-9.9 .2 6 .3-3.7 .3 7.1 .2-10.8 .2 12.1 .3-12.4 .3 9.3 .2-9.6 .2 9.8 .3-6.7 .3 4.8 .2-6.6 .2 8 .3-7.9 .3 7.8 .2-6.8 .2 7.8 .3-8 .3 5.7 .2-4.8 .2 4 .3-3.9 .3 5.5 .2-5.1 .2 5.5 .3-5.6 .3 4.4 .2-3.9 .2 3.2 .3-3.1 .3 1.7 .2-.5 .2 .5 .3-.5 .3 .5 .2-.5 .2 .5 .3-.5 .3 .5 .2-.5 .2 .5 .3-.5 .3 2.4 .2-4.3 .2 7.9 .3-9.9 .3 10.6 .2-8.8 .2 7.9 .3-9.1 .3 6.5 .2-9.3 .2 12.3 .3-11.1 .3 9.1 .2-8.7 .2 8.9 .3-8.8 .3 8.6 .2-6.2 .2 5 .3-5.7 .3 5.3 .2-5.5 .2 6.7 .3-7.5 .3 8 .2-6.1 .2 4.5 .3-4.2 .3 4.8 .2-5.4 .2 5.1 .3-4.5 .3 3.5 .2-3.8 .2 3.6 .3-1.8 .3 .5 .2-.5 .2 .5 .3-.5 .3 .5 .2-.5 .2 .5 .3-.5 .3 .5 .2-.5 .2 .5 .3-1.3 .3 3.1 .2-5.3 .2 7.3 .3-7.9 .3 6.5 .2-6 .2 7.3 .3-5.5 .3 6.3 .2-9.3 .2 9.8 .3-13.2 .3 15.8 .2-15 .2 11.8 .3-11.1 .3 12.2 .2-9 .2 9.5 .3-12.6 .3 9 .2-9.1 .2 10.4 .3-11.5 .3 13.8 .2-9.3 .2 5.7 .3-5.6 .3 5.8 .2-7 .2 7.4 .3-5.3 .3 3.7 .2-1.9 .2 .5 .3-.5 .3 .5 .2-.5 .2 .5 .3-.5 .3 .5 .2-.5 .2 .5 .3-.5 .3 .5 .2-.5 .2 .5 .3-1.1 .3 3.7 .2-6.5 .2 6.1 .3-5.1 .3 8.7 .2-14.5 .2 14.2 .3-10.6 .3 8.8 .2-9.9 .2 12.1 .3-12.7 .3 11.1 .2-12.9 .2 16.6 .3-11.7 .3 10 .2-11.3 .2 8.1 .3-5.4 .3 7.8 .2-11.6 .2 10.1 .3-6.7 .3 8.3 .2-9.1 .2 6.1 .3-6.4 .3 7.2 .2-7.2 .2 5.9 .3-5.2 .3 3.6 .2-1 .2 .5 .3-.5 .3 .5 .2-.5 .2 .5 .3-.5 .3 .5 .2-.5 .2 .5 .3-.5 .3 .5 .2-.5 .2 1.4 .3-3.7 .3 5 .2-7 .2 9.2 .3-8.5 .3 12 .2-14.9 .2 10.6 .3-7.1 .3 6.6 .2-5.6 .2 7 .3-7.6 .3 7 .2-7.4 .2 7 .3-6.3 .3 4.5 .2-4.1 .2 4.2 .3-4.7 .3 5.8 .2-7.7 .2 8.6 .3-7 .3 6.5 .2-5.7 .2 5.2 .3-5.1 .3 3.2 .2-3.4 .2 4.6 .3-3 .3 2.2 .2-1.8 .2 .5 .3-.5 .3 .5 .2-.5 .2 .5 .3-.5 .3 .5 .2-.5 .2 .5 .3-.5 .3 .5 .2-.5 .2 1.3 .3-3.5 .3 7.2 .2-10.6 .2 12.5 .3-11.2 .3 12.7 .2-15.8 .2 11.9 .3-8.5 .3 6.9 .2-7.5 .2 9.3 .3-8.7 .3 9.4 .2-10.3 .2 9.1 .3-6.6 .3 5 .2-4 .2 4.5 .3-6.6 .3 5.4 .2-5 .2 7 .3-6 .3 5.5 .2-5 .2 4.9 .3-4.7 .3 3.3 .2-3.8 .2 3.9 .3-2.8 .3 2.7 .2-1.9 .2 .5 .3-.5 .3 .5 .2-.5 .2 .5 .3-.5 .3 .5 .2-.5 .2 .5 .3-.5 .3 .5 .2-1.5 .2 3.4 .3-4.2 .3 5.5 .2-7.9 .2 8.1 .3-8.7 .3 11.8 .2-10.3 .2 11 .3-14.2 .3 12.5 .2-9.7 .2 9.4 .3-9.5 .3 10.6 .2-12.2 .2 12.7 .3-12.7 .3 12.2 .2-13.6 .2 9.9 .3-8.2 .3 7.5 .2-4.2 .2 7.2 .3-10.3 .3 10.5 .2-7.6 .2 5.6 .3-6.1 .3 5.2 .2-4.1 .2 3.1 .3-1.7 .3 .5 .2-.5 .2 .5 .3-.5 .3 .5 .2-.5 .2 .5 .3-.5 .3 .5 .2-.5 .2 .5 .3-.5 .3 2 .2-4.2 .2 4.6 .3-4.9 .3 5.7 .2-6.5 .2 11.7 .3-16.1 .3 12.3 .2-13.5 .2 15.8 .3-10.7 .3 9.4 .2-9.3 .2 7.5 .3-5.9 .3 8 .2-11.9 .2 7.8 .3-8 .3 12.5 .2-10 .2 7.8 .3-6.9 .3 5.9 .2-6.5 .2 9.5 .3-8.4 .3 6.8 .2-8 .2 6.2 .3-4.5 .3 3.2 .2-2.2 .2 1.3 .3-.5 .3 .5 .2-.5 .2 .5 .3-.5 .3 .5 .2-.5 .2 .5 .3-.5 .3 .5 .2-.5 .2 .5 .3-.5 .3 1.7 .2-5.5 .2 7.4 .3-6.4 .3 4.9 .2-4.8 .2 7.2 .3-8.2 .3 7.6 .2-8 .2 9.2 .3-11.3 .3 8.6 .2-5 .2 5.3 .3-4.6 .3 4.8 .2-5.8 .2 8.1 .3-8.7 .3 6.9 .2-6.9 .2 6.7 .3-5.1 .3 4.8 .2-4.7 .2 5.3 .3-6.5 .3 5.7 .2-4.2 .2 4.9 .3-5.2 .3 4.2 .2-3.3 .2 3 .3-2.1 .3 .5 .2-.5 .2 .5 .3-.5 .3 .5 .2-.5 .2 .5 .3-.5 .3 .5 .2-.5 .2 .5 .3-1.5 .3 3.8 .2-6.2 .2 9.6 .3-10.1 .3 6.7 .2-7.5 .2 8.7 .3-7.8 .3 9.1 .2-11.1 .2 7.7 .3-4.8 .3 7.4 .2-7.3 .2 5.3 .3-5.2 .3 8.1 .2-8.6 .2 8.2 .3-9.5 .3 7.9 .2-6.8 .2 6.1 .3-4.4 .3 3.5 .2-4.6 .2 5.4 .3-4.6 .3 4.1 .2-5.2 .2 6 .3-4.5 .3 3.2 .2-2.2 .2 1.1 .3-.5 .3 .5 .2-.5 .2 .5 .3-.5 .3 .5 .2-.5 .2 .5 .3-.5 .3 .5 .2-.5 .2 .5 .3-2.2 .3 4.9 .2-5.6 .2 6 .3-7.1 .3 7.4 .2-6.8 .2 6.6 .3-8.5 .3 9.4 .2-9.5 .2 7.8 .3-8.9 .3 10.3 .2-8.4 .2 8.6 .3-9.6 .3 13.3 .2-14.6 .2 10.6 .3-10.8 .3 12.1 .2-11.7 .2 10.5 .3-7.4 .3 6.4 .2-6.3 .2 5.3 .3-5.5 .3 7.3 .2-8.4 .2 7.1 .3-4.4 .3 3.2 .2-1.6 .2 .5 .3-.5 .3 .5 .2-.5 .2 .5 .3-.5 .3 .5 .2-.5 .2 .5 .3-.5 .3 .5 .2-.5 .2 1.5 .3-3.7 .3 6.6 .2-9.1 .2 9.5 .3-8.1 .3 10 .2-12.4 .2 10.4 .3-11.1 .3 10.2 .2-7.1 .2 9.5 .3-14.5 .3 12.5 .2-7.7 .2 9.4 .3-7.6 .3 7.4 .2-11.2 .2 10.8 .3-10.7 .3 12.9 .2-10.5 .2 7.1 .3-7.2 .3 5.7 .2-4.3 .2 6.5 .3-8.1 .3 5.3 .2-4.1 .2 5 .3-4.5 .3 2.1 .2-.5 .2 .5 .3-.5 .3 .5 .2-.5 .2 .5 .3-.5 .3 .5 .2-.5 .2 .5 .3-.5 .3 .5 .2-1.6 .2 3.8 .3-5.6 .3 11.2 .2-13.4 .2 8.8 .3-7.9 .3 7.4 .2-6.7 .2 7.2 .3-6.6 .3 8.7 .2-9.6 .2 9.9 .3-12.1 .3 10.1 .2-6.9 .2 6.3 .3-6.6 .3 6.4 .2-6.6 .2 7.1 .3-7.4 .3 7.9 .2-6.6 .2 5 .3-4.9 .3 4.1 .2-3.6 .2 4.4 .3-4.7 .3 4.2 .2-3.7 .2 4.5 .3-5 .3 2.5 .2-.5 .2 .5 .3-.5 .3 .5 .2-.5 .2 .5 .3-.5 .3 .5 .2-.5 .2 .5 .3-.5 .3 .5 .2-1.4 .2 4.1 .3-8.9 .3 11.1 .2-9 .2 9.6 .3-10.4 .3 10.9 .2-10.2 .2 6.9 .3-8.8 .3 9.8 .2-9.5 .2 11.4 .3-11.6 .3 10.3 .2-9 .2 7.7 .3-4.9 .3 4.4 .2-5.8 .2 6.4 .3-7 .3 6.5 .2-7.3 .2 8.5 .3-5.1 .3 3.2 .2-3.6 .2 2.1 .3-3 .3 4.2 .2-3.8 .2 3.7 .3-4.1 .3 2.6 .2-.5 .2 .5 .3-.5 .3 .5 .2-.5 .2 .5 .3-.5 .3 .5 .2-.5 .2 .5 .3-.5 .3 1.6 .2-2.1 .2 3.2 .3-5.1 .3 6 .2-6.1 .2 7.5 .3-9.2 .3 8.2 .2-7.6 .2 7.1 .3-4.9 .3 9 .2-13.1 .2 10.7 .3-12.4 .3 12.8 .2-7.7 .2 9.1 .3-9.2 .3 6.7 .2-9.6 .2 13.2 .3-15.7 .3 13.9 .2-10.4 .2 8.7 .3-9.8 .3 10.1 .2-7.6 .2 5 .3-5.1 .3 4.9 .2-3.2 .2 1.6 .3-.5 .3 .5 .2-.5 .2 .5 .3-.5 .3 .5 .2-.5 .2 .5 .3-.5 .3 .5 .2-.5 .2 .5 .3-.5 .3 1.5 .2-2.9 .2 5 .3-6.3 .3 7.1 .2-13.3 .2 13.2 .3-12 .3 14.8 .2-12.9 .2 11.2 .3-10.6 .3 7.6 .2-6.3 .2 9.2 .3-12.8 .3 11.8 .2-8.4 .2 8.7 .3-9.9 .3 7.7 .2-4.7 .2 7.9 .3-7.3 .3 7.2 .2-9.3 .2 6.5 .3-5.8 .3 5.7 .2-5 .2 5.2 .3-5.8 .3 5.5 .2-4.1 .2 2.1 .3-.5 .3 .5 .2-.5 .2 .5 .3-.5 .3 .5 .2-.5 .2 .5 .3-.5 .3 .5 .2-.5 .2 .5 .3-1.6 .3 3.8 .2-6 .2 8.1 .3-10.1 .3 9.2 .2-9.3 .2 8.4 .3-9.2 .3 10 .2-9.3 .2 10.6 .3-7.9 .3 8.4 .2-10.1 .2 8.5 .3-7.2 .3 8.4 .2-10.4 .2 9.3 .3-5.6 .3 3.5 .2-4.2 .2 6.4 .3-7.3 .3 6.8 .2-7.5 .2 6.7 .3-5.1 .3 4.5 .2-3 .2 2.7 .3-3.6 .3 4.1 .2-3.5 .2 1.5 .3-.5 .3 .5 .2-.5 .2 .5 .3-.5 .3 .5 .2-.5 .2 .5 .3-.5 .3 .5 .2-.5 .2 1.2 .3-4.4 .3 7.3 .2-6.5 .2 6 .3-8.4 .3 11.4 .2-11.3 .2 8 .3-8.8 .3 10.9 .2-11.1 .2 8.3 .3-6.7 .3 9.4 .2-9.4 .2 10.2 .3-10.3 .3 9.7 .2-8.4 .2 6.7 .3-5.7 .3 3.6 .2-3.7 .2 4.5 .3-5.6 .3 7.3 .2-6.7 .2 5.5 .3-5.4 .3 3.9 .2-3.2 .2 3.4 .3-3 .3 2.7 .2-1.4 .2 .5 .3-.5 .3 .5 .2-.5 .2 .5 .3-.5 .3 .5 .2-.5 .2 .5 .3-.5 .3 .5 .2-.5 .2 1.2 .3-3.7 .3 4.6 .2-4.2 .2 4.9 .3-5.2 .3 8.6 .2-11.8 .2 10.4 .3-10.4 .3 10.9 .2-11.4 .2 10.7 .3-7.7 .3 7.3 .2-8.9 .2 11.8 .3-11.8 .3 11.6 .2-14.1 .2 16 .3-15.2 .3 7.4 .2-4.1 .2 7.3 .3-9.2 .3 12.1 .2-12.6 .2 7.3 .3-5.7 .3 7.3 .2-5.7 .2 4.6 .3-2.9 .3 1.1 .2-.5 .2 .5 .3-.5 .3 .5 .2-.5 .2 .5 .3-.5 .3 .5 .2-.5 .2 .5 .3-.5 .3 .5" fill="none" stroke="#fcae2e" stroke-width="0.5" stroke-opacity="0.8"/>
<g filter="url(#hb)" fill="#000" fill-opacity="0.94"><rect x="40" y="54.6" width="10.7" height="21.7"/><rect x="63.5" y="54.6" width="34.6" height="21.7"/><rect x="110.9" y="54.6" width="34.6" height="21.7"/><rect x="158.3" y="54.6" width="34.6" height="21.7"/><rect x="205.7" y="54.6" width="34.6" height="21.7"/><rect x="253.1" y="54.6" width="46.9" height="21.7"/></g></g>
<text x="292" y="68.05" font-size="9">···</text>
<g clip-path="url(#cb1)">
<path d="M50 90.8l.5 0 .5 0 .5 0 .5 0 .5 0 .5 0 .5 0 .5-1.9 .5-1.3 .5-.3 .5-1.1 .5-.8 .5-.5 .5 .4 .5-.5 .5 .2 .5 .3 .5-.4 .5 .7 .5 .6 .5 1 .5 .5 .5 1.4 .5 1.6 .5 .1 .5 0 .5 0 .5 0 .5 0 .5 0 .5-2.3 .5-1.8 .5-1.5 .5-.5 .5 .4 .5 0 .5-.2 .5 1.1 .5 .2 .5 0 .5 .1 .5 .4 .5-.1 .5 .8 .5 .6 .5 .8 .5 2 .5 0 .5 0 .5 0 .5 0 .5 0 .5 0 .5 0 .5-2.9 .5-2.4 .5 .6 .5-.4 .5-.1 .5 1 .5 .1 .5 .4 .5-.1 .5 .1 .5 .8 .5 .1 .5 .1 .5 .2 .5 .2 .5 .4 .5 .3 .5 1.6 .5 0 .5 0 .5 0 .5 0 .5 0 .5 0 .5-2.8 .5-2.5 .5 0 .5-.2 .5 .4 .5 .7 .5 .4 .5 .2 .5 .5 .5-.1 .5 .5 .5-.2 .5 .6 .5 .3 .5 .2 .5 .3 .5 .3 .5 1.4 .5 0 .5 0 .5 0 .5 0 .5 0 .5-1.8 .5-1.1 .5-.7 .5-1.2 .5-.5 .5-.6 .5 .3 .5 .1 .5-.1 .5-.7 .5 1.3 .5-.7 .5 1.2 .5 .5 .5 .8 .5 1.2 .5 1.9 .5 .1 .5 0 .5 0 .5 0 .5 0 .5 0 .5 0 .5-2.3 .5-1.9 .5-1.1 .5 0 .5-.6 .5 .6 .5-.6 .5 .6 .5 .1 .5 .2 .5 .1 .5 .6 .5 .8 .5-.2 .5 .7 .5 1.1 .5 1.9 .5 0 .5 0 .5 0 .5 0 .5 0 .5 0 .5 0 .5-2.8 .5-2.5 .5 .5 .5 .2 .5 .2 .5 0 .5 .3 .5 .5 .5-.3 .5 .8 .5 .1 .5-.1 .5 .3 .5 .4 .5 .4 .5 .1 .5 .2 .5 1.7 .5 0 .5 0 .5 0 .5 0 .5 0 .5-2.5 .5-2.3 .5 .1 .5 .1 .5 .3 .5-.3 .5 .1 .5 .9 .5-.3 .5 .2 .5 .5 .5 .3 .5 .3 .5 .2 .5 .5 .5 .1 .5 .1 .5 1.7 .5 0 .5 0 .5 0 .5 0 .5 0 .5 0 .5-2 .5-.7 .5-1.4 .5-.4 .5-1.1 .5-.5 .5 0 .5 .5 .5 .2 .5-.2 .5-.1 .5 0 .5 1.2 .5 1.1 .5 .6 .5 .7 .5 2 .5 .1 .5 0 .5 0 .5 0 .5 0 .5 0 .5 0 .5-2 .5-2.3 .5-1.7 .5-.4 .5 .5 .5 0 .5 1 .5-.4 .5 .7 .5 .2 .5-.1 .5 .3 .5 .5 .5 .2 .5 .5 .5 .8 .5 2.2 .5 0 .5 0 .5 0 .5 0 .5 0 .5 0 .5-2.6 .5-2.3 .5-.8 .5 .9 .5-.2 .5 .4 .5 .4 .5 .1 .5 .7 .5-.2 .5 .3 .5 .4 .5 .3 .5 .4 .5-.1 .5 .7 .5 .2 .5 1.4 .5 0 .5 0 .5 0 .5 0 .5 0 .5 0 .5-2.7 .5-2.6 .5 .2 .5 .4 .5 0 .5 .2 .5-.1 .5 .7 .5 .5 .5-.3 .5 .8 .5-.2 .5 .7 .5 .3 .5-.2 .5 .5 .5 .3 .5 1.5 .5 0 .5 0 .5 0 .5 0 .5 0 .5 0 .5-1.8 .5-.9 .5-1.3 .5-.7 .5-.9 .5 .3 .5-.7 .5-.1 .5 .8 .5-.1 .5 0 .5-.2 .5 1.1 .5 .4 .5 1 .5 1.2 .5 1.8 .5 .1 .5 0 .5 0 .5 0 .5 0 .5 0 .5-2 .5-2.3 .5-1.3 .5-.2 .5 .6 .5-.9 .5 .4 .5 .3 .5 .2 .5 .7 .5-.4 .5 .6 .5 .7 .5 .5 .5 .5 .5 .5 .5 2.1 .5 0 .5 0 .5 0 .5 0 .5 0 .5 0 .5 0 .5-2.5 .5-3.2 .5 1 .5-.7 .5 .6 .5 .8 .5 .2 .5-.3 .5 .4 .5 0 .5 .4 .5 .7 .5-.2 .5 .7 .5 .2 .5 .3 .5 0 .5 1.6 .5 0 .5 0 .5 0 .5 0 .5 0 .5 0 .5-3 .5-2.4 .5 0 .5 .6 .5-.3 .5 .5 .5 .2 .5 .6 .5 .4 .5-.1 .5 .7 .5 .1 .5 .3 .5 0 .5 .3 .5 .3 .5 .1 .5 1.7 .5 0 .5 0 .5 0 .5 0 .5 0 .5-1.8 .5-1.1 .5-1 .5-1.1 .5 .3 .5-.5 .5-.9 .5-.3 .5-.2 .5 .3 .5 1.2 .5 .2 .5 .7 .5 .3 .5 1.1 .5 .9 .5 1.8 .5 .1 .5 0 .5 0 .5 0 .5 0 .5 0 .5 0 .5-2 .5-1.8 .5-1.9 .5-.4 .5 .3 .5 .3 .5 0 .5-.1 .5 .8 .5 .4 .5-.5 .5 .4 .5 .4 .5 .3 .5 .8 .5 .9 .5 2.1 .5 0 .5 0 .5 0 .5 0 .5 0 .5 0 .5-2.5 .5-2.8 .5-.4 .5 .3 .5 .3 .5 .3 .5 .5 .5 .7 .5 0 .5 .4 .5-.2 .5 .8 .5-.2 .5 .3 .5 .6 .5 .1 .5 .4 .5 1.4 .5 0 .5 0 .5 0 .5 0 .5 0 .5 0 .5-2.5 .5-2.8 .5 .1 .5 .3 .5 .7 .5-.1 .5 .2 .5 .1 .5 .4 .5 0 .5 .4 .5 .5 .5 .1 .5 .4 .5 .1 .5 .2 .5 .3 .5 1.6 .5 0 .5 0 .5 0 .5 0 .5 0 0 .6-.5 0-.5 0-.5 0-.5 0-.5 0-.5 1.5-.5 .3-.5 .2-.5 .1-.5 .4-.5 .1-.5 .5-.5 .4-.5 0-.5 .4-.5 .1-.5 .2-.5-.1-.5 .7-.5 .3-.5 .1-.5-2.8-.5-2.4-.5 0-.5 0-.5 0-.5 0-.5 0-.5 0-.5 1.3-.5 .4-.5 .1-.5 .6-.5 .3-.5-.2-.5 .8-.5-.2-.5 .4-.5 0-.5 .7-.5 .5-.5 .3-.5 .3-.5 .3-.5-.4-.5-2.8-.5-2.4-.5 0-.5 0-.5 0-.5 0-.5 0-.5 0-.5 2-.5 .9-.5 .8-.5 .3-.5 .4-.5 .4-.5-.5-.5 .4-.5 .8-.5-.1-.5 0-.5 .3-.5 .3-.5-.4-.5-1.9-.5-1.8-.5-1.9-.5 0-.5 0-.5 0-.5 0-.5 0-.5 0-.5 0-.5 1.8-.5 .9-.5 1.1-.5 .3-.5 .7-.5 .2-.5 1.2-.5 .3-.5-.2-.5-.3-.5-.9-.5-.5-.5 .3-.5-1.1-.5-1-.5-1.1-.5-1.7-.5 0-.5 0-.5 0-.5 0-.5 0-.5 1.6-.5 .1-.5 .3-.5 .3-.5 0-.5 .3-.5 .1-.5 .7-.5-.1-.5 .4-.5 .6-.5 .2-.5 .5-.5-.3-.5 .6-.5 0-.5-2.4-.5-2.9-.5 0-.5 0-.5 0-.5 0-.5 0-.5 0-.5 1.5-.5 0-.5 .3-.5 .2-.5 .7-.5-.2-.5 .7-.5 .4-.5 0-.5 .4-.5-.3-.5 .2-.5 .8-.5 .6-.5-.7-.5 1-.5-3.2-.5-2.4-.5 0-.5 0-.5 0-.5 0-.5 0-.5 0-.5 0-.5 2-.5 .5-.5 .5-.5 .5-.5 .7-.5 .6-.5-.4-.5 .7-.5 .2-.5 .3-.5 .4-.5-.9-.5 .6-.5-.2-.5-1.3-.5-2.3-.5-1.9-.5 0-.5 0-.5 0-.5 0-.5 0-.5 0-.5 1.8-.5 1.2-.5 1-.5 .4-.5 1.1-.5-.2-.5 0-.5-.1-.5 .8-.5-.1-.5-.7-.5 .3-.5-.9-.5-.7-.5-1.3-.5-.9-.5-1.7-.5 0-.5 0-.5 0-.5 0-.5 0-.5 0-.5 1.4-.5 .3-.5 .5-.5-.2-.5 .3-.5 .7-.5-.2-.5 .8-.5-.3-.5 .5-.5 .7-.5-.1-.5 .2-.5 0-.5 .4-.5 .2-.5-2.6-.5-2.6-.5 0-.5 0-.5 0-.5 0-.5 0-.5 0-.5 1.3-.5 .2-.5 .7-.5-.1-.5 .4-.5 .3-.5 .4-.5 .3-.5-.2-.5 .7-.5 .1-.5 .4-.5 .4-.5-.2-.5 .9-.5-.8-.5-2.3-.5-2.5-.5 0-.5 0-.5 0-.5 0-.5 0-.5 0-.5 2.1-.5 .8-.5 .5-.5 .2-.5 .5-.5 .3-.5-.1-.5 .2-.5 .7-.5-.4-.5 1-.5 0-.5 .5-.5-.4-.5-1.7-.5-2.3-.5-1.9-.5 0-.5 0-.5 0-.5 0-.5 0-.5 0-.5 0-.5 2-.5 .7-.5 .6-.5 1.1-.5 1.2-.5 0-.5-.1-.5-.2-.5 .2-.5 .5-.5 0-.5-.5-.5-1.1-.5-.4-.5-1.4-.5-.7-.5-1.9-.5 0-.5 0-.5 0-.5 0-.5 0-.5 0-.5 1.6-.5 .1-.5 .1-.5 .5-.5 .2-.5 .3-.5 .3-.5 .5-.5 .2-.5-.3-.5 .9-.5 .1-.5-.3-.5 .3-.5 .1-.5 .1-.5-2.3-.5-2.4-.5 0-.5 0-.5 0-.5 0-.5 0-.5 1.6-.5 .2-.5 .1-.5 .4-.5 .4-.5 .3-.5-.1-.5 .1-.5 .8-.5-.3-.5 .5-.5 .3-.5 0-.5 .2-.5 .2-.5 .5-.5-2.5-.5-2.7-.5 0-.5 0-.5 0-.5 0-.5 0-.5 0-.5 0-.5 1.8-.5 1.1-.5 .7-.5-.2-.5 .8-.5 .6-.5 .1-.5 .2-.5 .1-.5 .6-.5-.6-.5 .6-.5-.6-.5 0-.5-1.1-.5-1.9-.5-2.2-.5 0-.5 0-.5 0-.5 0-.5 0-.5 0-.5 0-.5 1.9-.5 1.2-.5 .8-.5 .5-.5 1.2-.5-.7-.5 1.3-.5-.7-.5-.1-.5 .1-.5 .3-.5-.6-.5-.5-.5-1.2-.5-.7-.5-1.1-.5-1.7-.5 0-.5 0-.5 0-.5 0-.5 0-.5 1.3-.5 .3-.5 .3-.5 .2-.5 .3-.5 .6-.5-.2-.5 .5-.5-.1-.5 .5-.5 .2-.5 .4-.5 .7-.5 .4-.5-.2-.5 0-.5-2.5-.5-2.7-.5 0-.5 0-.5 0-.5 0-.5 0-.5 0-.5 1.5-.5 .3-.5 .4-.5 .2-.5 .2-.5 .1-.5 .1-.5 .8-.5 .1-.5-.1-.5 .4-.5 .1-.5 1-.5-.1-.5-.4-.5 .6-.5-2.4-.5-2.8-.5 0-.5 0-.5 0-.5 0-.5 0-.5 0-.5 0-.5 1.9-.5 .8-.5 .6-.5 .8-.5-.1-.5 .4-.5 .1-.5 0-.5 .2-.5 1.1-.5-.2-.5 0-.5 .4-.5-.5-.5-1.5-.5-1.8-.5-2.2-.5 0-.5 0-.5 0-.5 0-.5 0-.5 0-.5 1.6-.5 1.4-.5 .5-.5 1-.5 .6-.5 .7-.5-.4-.5 .3-.5 .2-.5-.5-.5 .4-.5-.5-.5-.8-.5-1.1-.5-.3-.5-1.3-.5-1.8-.5 0-.5 0-.5 0-.5 0-.5 0-.5 0-.5 0Z" fill="#fcae2e"/><path d="M50 90.8l.2 .5 .3-.5 .3 .5 .2-.5 .2 .5 .3-.5 .3 .5 .2-.5 .2 .5 .3-.5 .3 .5 .2-.5 .2 .5 .3-1.7 .3 2.3 .2-3.8 .2 5.7 .3-5.6 .3 6.4 .2-7.4 .2 9.3 .3-10.1 .3 10.9 .2-8.2 .2 6.4 .3-8.5 .3 11.5 .2-10.1 .2 8.8 .3-13.3 .3 10.9 .2-11.1 .2 12.5 .3-10.5 .3 11.5 .2-10.1 .2 8.4 .3-9.9 .3 12.1 .2-12.9 .2 9.7 .3-6.4 .3 5.1 .2-4.1 .2 4.1 .3-4.1 .3 3.9 .2-2.2 .2 .5 .3-.5 .3 .5 .2-.5 .2 .5 .3-.5 .3 .5 .2-.5 .2 .5 .3-.5 .3 .5 .2-.5 .2 1.7 .3-3.4 .3 4.3 .2-6.2 .2 7.5 .3-12.2 .3 13.8 .2-9.6 .2 13.4 .3-14.8 .3 9.3 .2-9.7 .2 10 .3-10.3 .3 10.7 .2-9.7 .2 8.6 .3-5.9 .3 6.8 .2-8.9 .2 10.1 .3-10.1 .3 7.5 .2-8 .2 9.1 .3-8.1 .3 7 .2-5.1 .2 5.3 .3-4.9 .3 4.5 .2-4 .2 4 .3-4.1 .3 1.9 .2-.5 .2 .5 .3-.5 .3 .5 .2-.5 .2 .5 .3-.5 .3 .5 .2-.5 .2 .5 .3-.5 .3 .5 .2-.5 .2 1.8 .3-4.1 .3 6 .2-7.6 .2 8.9 .3-12.1 .3 13.3 .2-10.2 .2 10.4 .3-8.8 .3 8.9 .2-9.9 .2 6.9 .3-8.3 .3 10.7 .2-10.1 .2 9.6 .3-10.8 .3 11.3 .2-9.2 .2 6.8 .3-6.7 .3 6.1 .2-6 .2 6.8 .3-5.6 .3 4.5 .2-3.2 .2 3.3 .3-5.6 .3 4.5 .2-3.4 .2 4.1 .3-3.7 .3 3.4 .2-2 .2 .5 .3-.5 .3 .5 .2-.5 .2 .5 .3-.5 .3 .5 .2-.5 .2 .5 .3-.5 .3 .5 .2-1.9 .2 4.7 .3-6.1 .3 6.3 .2-7.1 .2 9.9 .3-11.1 .3 12.7 .2-13.6 .2 6.8 .3-5.3 .3 10.7 .2-10.1 .2 6.7 .3-5.4 .3 7.7 .2-10.4 .2 10.3 .3-9.7 .3 10.2 .2-10 .2 6.6 .3-5.4 .3 5.6 .2-4.8 .2 5.8 .3-6.2 .3 3.5 .2-4.4 .2 7 .3-5.4 .3 3.9 .2-3.4 .2 2.6 .3-2.6 .3 1.9 .2-.5 .2 .5 .3-.5 .3 .5 .2-.5 .2 .5 .3-.5 .3 .5 .2-.5 .2 .5 .3-.5 .3 2.1 .2-2.8 .2 3.4 .3-5.7 .3 5.1 .2-3.5 .2 5.5 .3-9.4 .3 10.1 .2-12.5 .2 12.7 .3-13.3 .3 14.6 .2-11.8 .2 11.2 .3-10.4 .3 12.5 .2-16.1 .2 16.1 .3-14 .3 10.9 .2-9.3 .2 10.4 .3-10.1 .3 8.3 .2-7.7 .2 8.8 .3-7.6 .3 5.8 .2-8.2 .2 9.3 .3-6.4 .3 4.8 .2-3.5 .2 1.2 .3-.5 .3 .5 .2-.5 .2 .5 .3-.5 .3 .5 .2-.5 .2 .5 .3-.5 .3 .5 .2-.5 .2 .5 .3-.5 .3 2.1 .2-4.3 .2 7.1 .3-8.1 .3 8.8 .2-9.9 .2 11.2 .3-13.2 .3 11.9 .2-12.9 .2 14.8 .3-13.1 .3 11.4 .2-9.5 .2 10.3 .3-10.4 .3 9.9 .2-9.3 .2 7.3 .3-9.3 .3 10.8 .2-11.8 .2 9.9 .3-8.2 .3 9.4 .2-7.1 .2 6.9 .3-7.3 .3 7.1 .2-8.3 .2 8.6 .3-6.9 .3 4.6 .2-4.1 .2 2.1 .3-.5 .3 .5 .2-.5 .2 .5 .3-.5 .3 .5 .2-.5 .2 .5 .3-.5 .3 .5 .2-.5 .2 .5 .3-2.5 .3 4.8 .2-5.8 .2 8.2 .3-11.9 .3 13.5 .2-10.2 .2 8 .3-8.7 .3 7.9 .2-8.9 .2 10.6 .3-8.1 .3 9 .2-8.5 .2 6.2 .3-6 .3 4.6 .2-5.3 .2 7.3 .3-7 .3 6.1 .2-8.5 .2 7.6 .3-5.5 .3 5.6 .2-4.4 .2 4.1 .3-4.4 .3 4.9 .2-5.5 .2 4.3 .3-4.7 .3 4.8 .2-3.3 .2 1.7 .3-.5 .3 .5 .2-.5 .2 .5 .3-.5 .3 .5 .2-.5 .2 .5 .3-.5 .3 .5 .2-.5 .2 1.9 .3-4.5 .3 9 .2-13.7 .2 12.4 .3-11.3 .3 9.8 .2-8.8 .2 9.6 .3-8.1 .3 8 .2-6.5 .2 8.5 .3-10.8 .3 9 .2-9.2 .2 7.9 .3-5.5 .3 4.9 .2-4.4 .2 6.8 .3-8.2 .3 6.7 .2-7.5 .2 4.7 .3-3.2 .3 5.1 .2-3.8 .2 3.7 .3-3.3 .3 3.3 .2-5 .2 3.7 .3-2.2 .3 2.9 .2-1.9 .2 .5 .3-.5 .3 .5 .2-.5 .2 .5 .3-.5 .3 .5 .2-.5 .2 .5 .3-.5 .3 .5 .2-.9 .2 2.2 .3-4.2 .3 5.7 .2-7.3 .2 8.6 .3-7.9 .3 4.9 .2-4.3 .2 8.2 .3-10.3 .3 12 .2-11.7 .2 10.6 .3-10.7 .3 12.1 .2-13.5 .2 12.5 .3-13.2 .3 10.1 .2-9 .2 9 .3-10.7 .3 12.6 .2-10.6 .2 10.9 .3-11.9 .3 10.3 .2-6.3 .2 4.3 .3-4.6 .3 4.8 .2-3.8 .2 3.3 .3-1.7 .3 .5 .2-.5 .2 .5 .3-.5 .3 .5 .2-.5 .2 .5 .3-.5 .3 .5 .2-.5 .2 .5 .3-.5 .3 .5 .2-1 .2 2.4 .3-4.1 .3 6 .2-8.8 .2 9.6 .3-10.4 .3 12.7 .2-8.3 .2 6.3 .3-7.9 .3 6.5 .2-6.5 .2 7.6 .3-9 .3 11.1 .2-9.9 .2 9.9 .3-9.7 .3 7.5 .2-9.2 .2 7.7 .3-8.8 .3 12.9 .2-11 .2 9.4 .3-9.1 .3 7.4 .2-6.2 .2 4.6 .3-4.9 .3 6 .2-5.3 .2 4.7 .3-2.7 .3 .5 .2-.5 .2 .5 .3-.5 .3 .5 .2-.5 .2 .5 .3-.5 .3 .5 .2-.5 .2 .5 .3-.5 .3 1.2 .2-3.3 .2 5.3 .3-8 .3 10.6 .2-9.5 .2 8.2 .3-10 .3 11.1 .2-9.6 .2 9.3 .3-8 .3 5.5 .2-6.4 .2 8.1 .3-8.6 .3 10.2 .2-10.6 .2 9.6 .3-8.7 .3 6.4 .2-5.8 .2 5.9 .3-6 .3 5.7 .2-5.6 .2 6 .3-5.8 .3 6.4 .2-6.1 .2 4.8 .3-3.7 .3 3.9 .2-4.3 .2 3.6 .3-1.8 .3 .5 .2-.5 .2 .5 .3-.5 .3 .5 .2-.5 .2 .5 .3-.5 .3 .5 .2-.5 .2 .5 .3-2 .3 4 .2-4.6 .2 7.2 .3-7.8 .3 8 .2-8.6 .2 8.6 .3-10.4 .3 12.3 .2-7.9 .2 6.4 .3-7.9 .3 6.2 .2-8.6 .2 8.2 .3-7.6 .3 9.2 .2-8.9 .2 7 .3-6.5 .3 6.3 .2-4.3 .2 5.1 .3-6.7 .3 4.1 .2-3.4 .2 6.3 .3-7.6 .3 6.2 .2-3.7 .2 2.7 .3-3.5 .3 3.8 .2-3.4 .2 1.8 .3-.5 .3 .5 .2-.5 .2 .5 .3-.5 .3 .5 .2-.5 .2 .5 .3-.5 .3 .5 .2-.5 .2 .5 .3-1.5 .3 3.2 .2-4.9 .2 5.5 .3-6.2 .3 8.3 .2-10.9 .2 9.8 .3-7.8 .3 8.1 .2-9 .2 9.8 .3-9.3 .3 7.9 .2-8.8 .2 10.2 .3-13.9 .3 15.1 .2-15.3 .2 18.4 .3-12.8 .3 10.2 .2-11.1 .2 7.3 .3-8.2 .3 10.6 .2-10.6 .2 9.4 .3-8 .3 8.4 .2-6.9 .2 4.6 .3-3.3 .3 2.4 .2-1.2 .2 .5 .3-.5 .3 .5 .2-.5 .2 .5 .3-.5 .3 .5 .2-.5 .2 .5 .3-.5 .3 .5 .2-.5 .2 1.2 .3-3.6 .3 3.7 .2-4.5 .2 6.8 .3-10 .3 11.8 .2-10.5 .2 10.5 .3-10.2 .3 10.5 .2-12.5 .2 10.5 .3-7.8 .3 6.7 .2-6.8 .2 9.9 .3-9.1 .3 8.5 .2-10.7 .2 12.4 .3-12.7 .3 10.2 .2-6.6 .2 4.4 .3-6.4 .3 10.1 .2-10 .2 9.9 .3-8.6 .3 6 .2-6.4 .2 5 .3-2.9 .3 1.7 .2-.5 .2 .5 .3-.5 .3 .5 .2-.5 .2 .5 .3-.5 .3 .5 .2-.5 .2 .5 .3-.5 .3 .5 .2-2 .2 5.3 .3-6.5 .3 7 .2-10.9 .2 12.2 .3-10.5 .3 10.5 .2-10.5 .2 9.6 .3-10.6 .3 11 .2-9 .2 8.4 .3-7.8 .3 7.3 .2-6.1 .2 7.3 .3-7.7 .3 6.2 .2-8.4 .2 7.8 .3-5.8 .3 5.9 .2-3.5 .2 2.3 .3-3.5 .3 4.1 .2-5.3 .2 6 .3-6.4 .3 6.4 .2-5.6 .2 4.2 .3-3.4 .3 2 .2-.5 .2 .5 .3-.5 .3 .5 .2-.5 .2 .5 .3-.5 .3 .5 .2-.5 .2 .5 .3-.5 .3 .5 .2-1.9 .2 4.8 .3-8 .3 10 .2-11.2 .2 11.4 .3-9.2 .3 6.7 .2-9.4 .2 12 .3-11.4 .3 11.4 .2-8.1 .2 7.8 .3-8.3 .3 5.3 .2-6.2 .2 7.2 .3-7.2 .3 8.9 .2-10.2 .2 7.2 .3-4.6 .3 6.4 .2-5.8 .2 2.5 .3-2.6 .3 4.8 .2-5.6 .2 5.8 .3-4.9 .3 4.6 .2-4.5 .2 3.6 .3-3.1 .3 1.8 .2-.5 .2 .5 .3-.5 .3 .5 .2-.5 .2 .5 .3-.5 .3 .5 .2-.5 .2 .5 .3-.5 .3 1.7 .2-3.3 .2 5.8 .3-7.8 .3 8 .2-6.6 .2 6.7 .3-8.9 .3 9.8 .2-8.2 .2 10.8 .3-16.4 .3 16.7 .2-13.9 .2 9.4 .3-7.8 .3 8.4 .2-8.8 .2 10.6 .3-10.5 .3 7.9 .2-9 .2 9.5 .3-11.9 .3 11.4 .2-8.4 .2 9.4 .3-6.7 .3 6.8 .2-7.8 .2 5.9 .3-4.7 .3 4.4 .2-4 .2 2 .3-.5 .3 .5 .2-.5 .2 .5 .3-.5 .3 .5 .2-.5 .2 .5 .3-.5 .3 .5 .2-.5 .2 .5 .3-1.3 .3 3 .2-6.1 .2 9.8 .3-13.8 .3 14.4 .2-13.6 .2 12 .3-8.7 .3 10.2 .2-11.1 .2 10.5 .3-11.1 .3 12.4 .2-14.1 .2 12.9 .3-9.2 .3 8.5 .2-7.8 .2 6.5 .3-8.5 .3 10.2 .2-7.1 .2 8.8 .3-12.9 .3 11.9 .2-11.3 .2 7.6 .3-4.5 .3 5.1 .2-6.5 .2 5.9 .3-4.6 .3 4.6 .2-2.6 .2 .5 .3-.5 .3 .5 .2-.5 .2 .5 .3-.5 .3 .5 .2-.5 .2 .5 .3-.5 .3 .5 .2-.5 .2 1.5 .3-3.2 .3 5.4 .2-8.1 .2 9.5 .3-13.1 .3 10.8 .2-8.1 .2 8 .3-5.6 .3 7.1 .2-7.4 .2 9.3 .3-9.1 .3 7.4 .2-7.8 .2 7.8 .3-7.5 .3 6.2 .2-5.6 .2 6.1 .3-6.3 .3 6.1 .2-6 .2 5.3 .3-4.2 .3 3.7 .2-4.4 .2 3.4 .3-2.9 .3 3.5 .2-2.9 .2 3 .3-3.9 .3 4.2 .2-2.2 .2 .5 .3-.5 .3 .5 .2-.5 .2 .5 .3-.5 .3 .5 .2-.5 .2 .5 .3-.5 .3 .5 .2-.5 .2 1.5 .3-4.2 .3 7 .2-8.1 .2 8.1 .3-9.3 .3 11.4 .2-13 .2 12.9 .3-10.4 .3 6.7 .2-7 .2 8.9 .3-7.4 .3 6.2 .2-7.9 .2 9.7 .3-9.8 .3 7.3 .2-6.4 .2 5.3 .3-4.1 .3 7.1 .2-8.4 .2 6.6 .3-6.1 .3 7.6 .2-7.1 .2 4.8 .3-4.1 .3 3.4 .2-2.8 .2 3.3 .3-3.2 .3 3.5 .2-2 .2 .5 .3-.5 .3 .5 .2-.5 .2 .5 .3-.5 .3 .5 .2-.5 .2 .5 .3-.5 .3 .5" fill="none" stroke="#fcae2e" stroke-width="0.5" stroke-opacity="0.8"/>
<g filter="url(#hb)" fill="#000" fill-opacity="0.94"><rect x="40" y="80.2" width="34.8" height="21.7"/><rect x="87.6" y="80.2" width="34.5" height="21.7"/><rect x="134.9" y="80.2" width="34.5" height="21.7"/><rect x="182.2" y="80.2" width="34.5" height="21.7"/><rect x="229.5" y="80.2" width="34.5" height="21.7"/><rect x="276.8" y="80.2" width="23.2" height="21.7"/></g></g>
<text x="292" y="93.65" font-size="9">···</text>
<text x="55.3" y="120" font-size="9.5" font-style="italic">Possible trials</text>
<text x="126.4" y="120" font-size="9.5"><tspan>(</tspan><tspan font-style="italic">target: </tspan><tspan fill="#e4141b">f</tspan><tspan>)</tspan></text>
<path d="M59 138l19.6-6.4 33-5.4 34.8 5.4 18.8 6 M78.6 131.6l17.6 6.4 M146.4 131.6l-18.8 6" fill="none" stroke="#f9b300" stroke-width="1.2"/>
<path d="M40 147.1l.5 0 .5 0 .5 0 .5 0 .5 0 .5 0 .5-.7 .5-.4 .5-.4 .5-.2 .5-.2 .5-.2 .5-.2 .5-.3 .5-.1 .5 .1 .5 0 .5 .1 .5-.1 .5 .3 .5 0 .5 .3 .5 .3 .5 .2 .5 .3 .5 .5 .5 .7 .5 0 .5 0 .5-1.1 .5-.7 .5-.4 .5-.3 .5-.5 .5-.4 .5-.5 .5 0 .5-.1 .5-.2 .5-.4 .5 .1 .5-.2 .5-.3 .5 0 .5-.1 .5 .1 .5-.4 .5 .1 .5 .2 .5-.1 .5 .1 .5 .2 .5-.4 .5 .6 .5-.3 .5 .4 .5 .2 .5-.1 .5 .3 .5 .4 .5 .5 .5 .2 .5 .4 .5 .4 .5 .5 .5 .4 .5 .9 .5-.2 .5 .1 .5 .1 .5 .2 .5 .1 .5 .1 .5 .1 .5 0 .5 0 .5 0 .5 0 .5 0 .5 0 .5 0 .5 0 .5-.9 .5-.4 .5-.4 .5-.5 .5-.2 .5-.5 .5-.4 .5-.2 .5 0 .5-.4 .5-.4 .5-.1 .5-.1 .5 .1 .5-.2 .5 0 .5-.4 .5 .3 .5-.3 .5 .2 .5-.3 .5 .1 .5 .3 .5-.5 .5 .6 .5-.3 .5 .3 .5 0 .5 .6 .5 .1 .5 0 .5 .2 .5 .2 .5 .2 .5 .6 .5 0 .5 .6 .5 .3 .5 .5 .5 .5 .5 .8 .5 0 .5 0 .5 0 .5 0 .5 0 .5 0 .5 0 .5 0 .5 0 .5 0 .5 0 .5 0 .5 0 .5 0 .5 0 .5 0 .5 0 .5 0 .5 0 .5 0 .5 0 .5 0 .5 0 .5 0 .5 0 .5 0 .5 0 .5 0 .5-.7 .5-.3 .5-.5 .5-.3 .5-.2 .5-.4 .5-.1 .5-.3 .5-.2 .5-.2 .5-.2 .5-.4 .5 .3 .5-.7 .5 .2 .5-.2 .5-.4 .5 .1 .5-.4 .5 .4 .5-.6 .5 .1 .5 .2 .5-.5 .5 .4 .5-.2 .5-.1 .5-.3 .5-.1 .5 .4 .5-.2 .5 .3 .5 0 .5-.2 .5 .3 .5 .1 .5 .1 .5-.5 .5 .3 .5 .2 .5 .2 .5 .1 .5-.2 .5 .6 .5-.2 .5 .1 .5 .1 .5 .5 .5-.2 .5 .5 .5 .1 .5 .2 .5 .2 .5 .1 .5 .3 .5 .4 .5 .3 .5 .2 .5 .4 .5 .4 .5 .7 .5 0 .5 0 .5 0 .5 0 .5 0 .5 0 .5 0 .5 0 .5 0 .5 0 .5-1.1 .5-.5 .5-.4 .5-.3 .5-.7 .5 0 .5-.2 .5-.3 .5-.4 .5-.4 .5 0 .5-.2 .5-.4 .5 .1 .5-.1 .5-.1 .5-.2 .5-.2 .5 0 .5 .4 .5-.5 .5 .5 .5-.1 .5-.2 .5 .3 .5-.3 .5 .4 .5 .1 .5 0 .5 .1 .5 .1 .5 0 .5 .3 .5 .4 .5 0 .5 .2 .5 .5 .5 .4 .5 .2 .5 .3 .5 .5 .5 .5 .5 .8 .5-.2 .5 .1 .5 .1 .5 .1 .5 .1 .5 .1 .5 .1 .5 .1 .5 0 .5 0 .5 0 .5 0 .5 0 .5 0 .5 0 .5 0 .5 0 .5 0 0 .6-.5 0-.5 0-.5 0-.5 0-.5 0-.5 0-.5 0-.5 0-.5 0-.5 0-.5 .1-.5 .1-.5 .1-.5 .1-.5 .1-.5 .1-.5 .1-.5-.2-.5 .8-.5 .5-.5 .5-.5 .3-.5 .2-.5 .4-.5 .5-.5 .2-.5 0-.5 .4-.5 .3-.5 0-.5 .1-.5 .1-.5 0-.5 .1-.5 .4-.5-.3-.5 .3-.5-.2-.5-.1-.5 .5-.5-.5-.5 .4-.5 0-.5-.2-.5-.2-.5-.1-.5-.1-.5 .1-.5-.4-.5-.2-.5 0-.5-.4-.5-.4-.5-.3-.5-.2-.5 0-.5-.7-.5-.3-.5-.4-.5-.5-.5-1.1-.5 0-.5 0-.5 0-.5 0-.5 0-.5 0-.5 0-.5 0-.5 0-.5 0-.5 .7-.5 .4-.5 .4-.5 .2-.5 .3-.5 .4-.5 .3-.5 .1-.5 .2-.5 .2-.5 .1-.5 .5-.5-.2-.5 .5-.5 .1-.5 .1-.5-.2-.5 .6-.5-.2-.5 .1-.5 .2-.5 .2-.5 .3-.5-.5-.5 .1-.5 .1-.5 .3-.5-.2-.5 0-.5 .3-.5-.2-.5 .4-.5-.1-.5-.3-.5-.1-.5-.2-.5 .4-.5-.5-.5 .2-.5 .1-.5-.6-.5 .4-.5-.4-.5 .1-.5-.4-.5-.2-.5 .2-.5-.7-.5 .3-.5-.4-.5-.2-.5-.2-.5-.2-.5-.3-.5-.1-.5-.4-.5-.2-.5-.3-.5-.5-.5-.3-.5-.7-.5 0-.5 0-.5 0-.5 0-.5 0-.5 0-.5 0-.5 0-.5 0-.5 0-.5 0-.5 0-.5 0-.5 0-.5 0-.5 0-.5 0-.5 0-.5 0-.5 0-.5 0-.5 0-.5 0-.5 0-.5 0-.5 0-.5 0-.5 0-.5 .8-.5 .5-.5 .5-.5 .3-.5 .6-.5 0-.5 .6-.5 .2-.5 .2-.5 .2-.5 0-.5 .1-.5 .6-.5 0-.5 .3-.5-.3-.5 .6-.5-.5-.5 .3-.5 .1-.5-.3-.5 .2-.5-.3-.5 .3-.5-.4-.5 0-.5-.2-.5 .1-.5-.1-.5-.1-.5-.4-.5-.4-.5 0-.5-.2-.5-.4-.5-.5-.5-.2-.5-.5-.5-.4-.5-.4-.5-.9-.5 0-.5 0-.5 0-.5 0-.5 0-.5 0-.5 0-.5 0-.5 .1-.5 .1-.5 .1-.5 .2-.5 .1-.5 .1-.5-.2-.5 .9-.5 .4-.5 .5-.5 .4-.5 .4-.5 .2-.5 .5-.5 .4-.5 .3-.5-.1-.5 .2-.5 .4-.5-.3-.5 .6-.5-.4-.5 .2-.5 .1-.5-.1-.5 .2-.5 .1-.5-.4-.5 .1-.5-.1-.5 0-.5-.3-.5-.2-.5 .1-.5-.4-.5-.2-.5-.1-.5 0-.5-.5-.5-.4-.5-.5-.5-.3-.5-.4-.5-.7-.5-1.1-.5 0-.5 0-.5 .7-.5 .5-.5 .3-.5 .2-.5 .3-.5 .3-.5 0-.5 .3-.5-.1-.5 .1-.5 0-.5 .1-.5-.1-.5-.3-.5-.2-.5-.2-.5-.2-.5-.2-.5-.4-.5-.4-.5-.7-.5 0-.5 0-.5 0-.5 0-.5 0-.5 0Z" fill="#fcae2e"/>
<path d="M40 147.2l.2 .4 .3-.4 .3 .4 .2-.4 .2 .4 .3-.4 .3 .4 .2-.4 .2 .4 .3-.4 .3 .4 .2-.4 .2 .8 .3-1.6 .3 2 .2-2.5 .2 2.4 .3-2 .3 2.7 .2-3.4 .2 2.9 .3-3.5 .3 4.6 .2-4.3 .2 4.2 .3-4.2 .3 3 .2-3.5 .2 4.3 .3-2.7 .3 3.6 .2-6.4 .2 6.2 .3-6 .3 6.9 .2-4.9 .2 2.3 .3-2.1 .3 4.4 .2-4.9 .2 3.4 .3-3.1 .3 3.9 .2-4.4 .2 4.3 .3-4 .3 2.8 .2-2.4 .2 2.5 .3-2.6 .3 2.5 .2-1.8 .2 1.9 .3-1.7 .3 .9 .2-.5 .2 .4 .3-.4 .3 1.1 .2-2 .2 3.3 .3-4 .3 4.6 .2-4.7 .2 3.7 .3-3.4 .3 4.2 .2-5.5 .2 7.2 .3-7.2 .3 6.8 .2-9 .2 8.4 .3-7 .3 7.7 .2-7.3 .2 6.1 .3-4.5 .3 7.8 .2-11.3 .2 11.5 .3-10.3 .3 9.9 .2-10.3 .2 7.7 .3-6 .3 7.3 .2-8.7 .2 8.9 .3-7.7 .3 7.4 .2-9.7 .2 8.1 .3-6.9 .3 7.9 .2-7.6 .2 7.5 .3-7.9 .3 10.8 .2-9.7 .2 7.7 .3-8.9 .3 8.6 .2-8 .2 6 .3-8 .3 10.3 .2-7.7 .2 6.7 .3-8.7 .3 10.4 .2-8 .2 6.9 .3-6.2 .3 4.4 .2-7 .2 9.9 .3-9.4 .3 7.7 .2-8.9 .2 7.7 .3-5.9 .3 6.2 .2-5.5 .2 5.3 .3-5 .3 5.6 .2-5.1 .2 4.9 .3-4.8 .3 3.2 .2-2.7 .2 2.4 .3-2.1 .3 1.5 .2-1.5 .2 2.1 .3-1.9 .3 1.4 .2-1.5 .2 1.6 .3-1.1 .3 .8 .2-.9 .2 .9 .3-.8 .3 .7 .2-.6 .2 .5 .3-.4 .3 .4 .2-.4 .2 .4 .3-.4 .3 .4 .2-.4 .2 .4 .3-.4 .3 .4 .2-.4 .2 .4 .3-.4 .3 .4 .2-.4 .2 .9 .3-1.4 .3 2.3 .2-3.7 .2 4.1 .3-3.9 .3 3.5 .2-3.5 .2 2.3 .3-2.5 .3 4.9 .2-4.2 .2 4.9 .3-6.6 .3 6.2 .2-6.2 .2 6.2 .3-5.8 .3 4.8 .2-5.4 .2 6.9 .3-7.8 .3 7.8 .2-9 .2 10.9 .3-10.6 .3 9.5 .2-8.7 .2 7.5 .3-6.7 .3 7.6 .2-9.7 .2 10.3 .3-10.7 .3 12.1 .2-9.5 .2 7.6 .3-7.4 .3 5.9 .2-5.7 .2 7.5 .3-6.9 .3 8.1 .2-12.3 .2 9.5 .3-6.3 .3 7.7 .2-8.4 .2 8.6 .3-8.8 .3 10.5 .2-11.5 .2 8.5 .3-4.6 .3 2.4 .2-4.8 .2 6.6 .3-7.6 .3 9.2 .2-7.1 .2 7.2 .3-9.9 .3 8.3 .2-5.8 .2 6.9 .3-5.3 .3 3.1 .2-5.4 .2 6.7 .3-5.2 .3 3.9 .2-4.9 .2 6.4 .3-5.9 .3 4.5 .2-3.8 .2 3.5 .3-2.8 .3 3.2 .2-2.9 .2 1.9 .3-1.7 .3 1 .2-.5 .2 .4 .3-.4 .3 .4 .2-.4 .2 .4 .3-.4 .3 .4 .2-.4 .2 .4 .3-.4 .3 .4 .2-.4 .2 .4 .3-.4 .3 .4 .2-.4 .2 .4 .3-.4 .3 .4 .2-.4 .2 .4 .3-.4 .3 .4 .2-.4 .2 .4 .3-.4 .3 .4 .2-.4 .2 .4 .3-.4 .3 .4 .2-.4 .2 .4 .3-.4 .3 .4 .2-.4 .2 .4 .3-.4 .3 .4 .2-.4 .2 .4 .3-.4 .3 .4 .2-.4 .2 .4 .3-.4 .3 .4 .2-.4 .2 .4 .3-.4 .3 .4 .2-.4 .2 .4 .3-.4 .3 .8 .2-1.6 .2 1.7 .3-1.6 .3 1.8 .2-1.6 .2 2 .3-2.5 .3 2.9 .2-4 .2 4 .3-3.5 .3 3.5 .2-3.3 .2 2.7 .3-2.5 .3 4 .2-4.8 .2 6.6 .3-7 .3 6.4 .2-5.7 .2 4.7 .3-5.1 .3 4.6 .2-6.2 .2 7.1 .3-5.7 .3 6.7 .2-7.2 .2 7 .3-9.4 .3 9.9 .2-8.5 .2 7.5 .3-7.1 .3 5.9 .2-6.2 .2 7.9 .3-9.7 .3 11.6 .2-10.8 .2 7.9 .3-7.5 .3 9.4 .2-8.8 .2 8.8 .3-10.8 .3 11.2 .2-10.3 .2 10.5 .3-9.9 .3 8.5 .2-6 .2 4.1 .3-8.5 .3 9.2 .2-8.9 .2 11.8 .3-11.3 .3 9.4 .2-9.5 .2 9.7 .3-7.3 .3 5.8 .2-7 .2 8.6 .3-7.6 .3 9.2 .2-11.6 .2 11.5 .3-9.9 .3 7.4 .2-8 .2 9.9 .3-11.6 .3 12.2 .2-9.4 .2 10 .3-12.7 .3 10.9 .2-7.9 .2 6 .3-7.5 .3 8.8 .2-8 .2 9.1 .3-7.8 .3 6.9 .2-6.7 .2 6 .3-6.8 .3 6.9 .2-6.4 .2 7.3 .3-7.8 .3 5.6 .2-6.6 .2 7.8 .3-6.7 .3 4.2 .2-3.3 .2 5 .3-5.5 .3 6.6 .2-6.4 .2 6.7 .3-7.4 .3 6.3 .2-3.7 .2 1.8 .3-3 .3 3.9 .2-4.1 .2 3.9 .3-3.4 .3 3.6 .2-3.1 .2 2.8 .3-2.3 .3 1.4 .2-1.2 .2 .8 .3-.5 .3 .4 .2-.4 .2 .4 .3-.4 .3 .4 .2-.4 .2 .4 .3-.4 .3 .4 .2-.4 .2 .4 .3-.4 .3 .4 .2-.4 .2 .4 .3-.4 .3 .4 .2-.4 .2 1.3 .3-2.2 .3 2.4 .2-3.7 .2 4.6 .3-3.9 .3 4.5 .2-4.6 .2 3.6 .3-3.9 .3 4.3 .2-5.5 .2 5.9 .3-7.5 .3 8.8 .2-7.1 .2 5.7 .3-5.4 .3 6.7 .2-7.6 .2 6.6 .3-7 .3 6.7 .2-8.8 .2 11.6 .3-9.6 .3 8.2 .2-6.6 .2 6.3 .3-9.1 .3 10.3 .2-10.8 .2 11.6 .3-11.1 .3 10.8 .2-10.9 .2 9.1 .3-7.8 .3 7.7 .2-7.5 .2 8.4 .3-11.1 .3 11.8 .2-12 .2 10.5 .3-8.2 .3 7.2 .2-7.5 .2 8.7 .3-9.3 .3 9.9 .2-8.6 .2 9.9 .3-8.3 .3 5.7 .2-8.1 .2 7.6 .3-7.2 .3 8 .2-5.9 .2 6.9 .3-10.3 .3 10.6 .2-8.5 .2 8.5 .3-7.1 .3 6 .2-7.2 .2 6.4 .3-7.6 .3 10 .2-8.7 .2 7.3 .3-6.6 .3 4.8 .2-4.5 .2 4.3 .3-4.5 .3 5 .2-4.1 .2 4.7 .3-5.1 .3 4.8 .2-4 .2 2.7 .3-2 .3 1.4 .2-1.7 .2 2.3 .3-2.2 .3 1.7 .2-1.6 .2 1.6 .3-1.3 .3 1 .2-.9 .2 1.1 .3-1.1 .3 1 .2-1 .2 .9 .3-.7 .3 .5 .2-.4 .2 .4 .3-.4 .3 .4 .2-.4 .2 .4 .3-.4 .3 .4 .2-.4 .2 .4 .3-.4 .3 .4 .2-.4 .2 .4 .3-.4 .3 .4 .2-.4 .2 .4 .3-.4 .3 .4" fill="none" stroke="#fcae2e" stroke-width="0.5" stroke-opacity="0.7"/>
<text x="29.8" y="148.6" font-size="9.5" text-anchor="middle">···</text>
<text x="188.8" y="148.6" font-size="9.5" text-anchor="middle">···</text>
<text x="29.5" y="167.5" font-size="9" text-anchor="middle">···</text>
<text x="188.5" y="167.5" font-size="9" text-anchor="middle">···</text>
<text x="55.5" y="168.6" font-size="9.5" text-anchor="middle"><tspan fill="#e4141b">f</tspan>ǎ</text>
<text x="90.9" y="168.6" font-size="9.5" text-anchor="middle">guān</text>
<text x="124.6" y="168.6" font-size="9.5" text-anchor="middle">pàn</text>
<text x="163.2" y="168.6" font-size="9.5" text-anchor="middle">àn</text>
<text x="29.5" y="183.8" font-size="9" text-anchor="middle">···</text>
<text x="188.5" y="183.8" font-size="9" text-anchor="middle">···</text>
<text x="55.5" y="184.9" font-size="9.5" text-anchor="middle">zǔ</text>
<text x="90.9" y="184.9" font-size="9.5" text-anchor="middle"><tspan fill="#e4141b">f</tspan>ù</text>
<text x="124.6" y="184.9" font-size="9.5" text-anchor="middle">hē</text>
<text x="163.2" y="184.9" font-size="9.5" text-anchor="middle">chá</text>
<text x="29.5" y="200" font-size="9" text-anchor="middle">···</text>
<text x="188.5" y="200" font-size="9" text-anchor="middle">···</text>
<text x="55.5" y="201.1" font-size="9.5" text-anchor="middle">hù</text>
<text x="90.9" y="201.1" font-size="9.5" text-anchor="middle">dié</text>
<text x="124.6" y="201.1" font-size="9.5" text-anchor="middle"><tspan fill="#e4141b">f</tspan>ēi</text>
<text x="163.2" y="201.1" font-size="9.5" text-anchor="middle">wǔ</text>
<text x="29.5" y="216.3" font-size="9" text-anchor="middle">···</text>
<text x="188.5" y="216.3" font-size="9" text-anchor="middle">···</text>
<text x="55.5" y="217.4" font-size="9.5" text-anchor="middle">chú</text>
<text x="90.9" y="217.4" font-size="9.5" text-anchor="middle">shī</text>
<text x="124.6" y="217.4" font-size="9.5" text-anchor="middle">zuò</text>
<text x="163.2" y="217.4" font-size="9.5" text-anchor="middle"><tspan fill="#e4141b">f</tspan>àn</text>
<text x="249.6" y="120" font-size="9.5" text-anchor="middle" font-style="italic">Responses</text>
<rect x="213.2" y="134.9" width="33.8" height="88" rx="9" ry="9" fill="none" stroke="#555" stroke-width="0.8"/>
<rect x="253.2" y="134.9" width="33.8" height="88" rx="9" ry="9" fill="none" stroke="#555" stroke-width="0.8"/>
<ellipse cx="227.77" cy="147.3" rx="4.07" ry="5.49" fill="#000"/>
<ellipse cx="233.75" cy="147.3" rx="4.07" ry="5.49" fill="#000"/>
<ellipse cx="239.72" cy="147.3" rx="4.07" ry="5.49" fill="#000"/>
<circle cx="221.3" cy="147.3" r="5.68" fill="#f9b300"/>
<text x="221.3" y="150.24" font-size="8.232" text-anchor="middle" fill="#111" font-weight="bold">1</text>
<ellipse cx="258.4" cy="147.3" rx="4.07" ry="5.49" fill="#000"/>
<ellipse cx="264.87" cy="147.3" rx="4.07" ry="5.49" fill="#000"/>
<ellipse cx="276.82" cy="147.3" rx="4.07" ry="5.49" fill="#000"/>
<circle cx="270.85" cy="147.3" r="5.68" fill="#f9b300"/>
<text x="270.85" y="150.24" font-size="8.232" text-anchor="middle" fill="#111" font-weight="bold">3</text>
<text x="230.3" y="169.6" font-size="12" text-anchor="middle" fill="#505050">⊤</text>
<text x="270.1" y="169.6" font-size="12" text-anchor="middle" fill="#505050">Ø</text>
<text x="230.3" y="185.9" font-size="12" text-anchor="middle" fill="#505050">Ø</text>
<text x="270.1" y="185.9" font-size="12" text-anchor="middle" fill="#505050">Ø</text>
<text x="230.3" y="202.1" font-size="12" text-anchor="middle" fill="#505050">Ø</text>
<text x="270.1" y="202.1" font-size="12" text-anchor="middle" fill="#505050">⊤</text>
<text x="230.3" y="218.4" font-size="12" text-anchor="middle" fill="#505050">Ø</text>
<text x="270.1" y="218.4" font-size="12" text-anchor="middle" fill="#505050">Ø</text>
<text x="-0.6" y="246" font-size="14.2" font-weight="bold">b</text>
<text x="157" y="247.3" font-size="9.7" text-anchor="middle">Response waveform</text>
<text x="162" y="259.8" font-size="9.7" text-anchor="middle" fill="#ff1a1a">EEG</text>
<path d="M35.3 263.6V358.6M57.23 263.6V358.6M79.16 263.6V358.6M101.09 263.6V358.6M123.02 263.6V358.6M144.95 263.6V358.6M166.88 263.6V358.6M188.81 263.6V358.6M210.74 263.6V358.6M232.67 263.6V358.6M254.6 263.6V358.6" stroke="#3a3a3a" stroke-width="0.75" stroke-dasharray="2.1,2.1"/>
<path d="M46.27 295V358.6M68.19 263.6V358.6M90.12 263.6V358.6M112.05 263.6V358.6M133.99 263.6V358.6M155.91 263.6V358.6M177.84 263.6V358.6M199.77 263.6V358.6M221.7 263.6V358.6M243.63 263.6V358.6M265.56 263.6V358.6" stroke="#444" stroke-width="0.75"/>
<text x="36.4" y="271.4" font-size="9.7">2 Hz</text>
<text x="36.4" y="286.2" font-size="9.7">1 Hz</text>
<path d="M53.3 276.7l1.1 1.3 1.1-.6 1.1-2.4 1.1-3.1 1.1-2.8 1.1-1.4 1.1 .5 1.1 2.2 1.1 3 1 2.6 1.1 1.2 1.1-.6 1.1-2.4 1.1-3.1 1.1-2.8 1.1-1.4 1.1 .5 1.1 2.2 1.1 3 1.1 2.6 1.1 1.3 1.1-.6 1.1-2.3 1.1-3 1.1-2.7 1.1-1.3 1.1 .6 1.1 2.3 1.1 3.1 1.1 2.7 1.1 1.4 1.1-.5 1.1-2.2 1.1-3 1.1-2.6 1.1-1.2 1.1 .7 1 2.3 1.1 3.2 1.1 2.8 1.1 1.4 1.1-.5 1.1-2.2 1.1-3 1.1-2.6 1.1-1.3 1.1 .6 1.1 2.3 1.1 3.1 1.1 2.7 1.1 1.4 1.1-.6 1.1-2.3 1.1-3.1 1.1-2.7 1.1-1.4 1.1 .5 1.1 2.2 1.1 3 1.1 2.7 1.1 1.2 1.1-.7 1.1-2.3 1.1-3.2 1.1-2.8 1.1-1.4 1 .5 1.1 2.2 1.1 3 1.1 2.6 1.1 1.2 1.1-.6 1.1-2.3 1.1-3.1 1.1-2.8 1.1-1.3 1.1 .5 1.1 2.3 1.1 3 1.1 2.8 1.1 1.3 1.1-.5 1.1-2.2 1.1-3.1 1.1-2.6 1.1-1.3 1.1 .7 1.1 2.3 1.1 3.2 1.1 2.8 1.1 1.4 1.1-.5 1.1-2.2 1.1-2.9 1.1-2.6 1-1.3 1.1 .7 1.1 2.3 1.1 3.1 1.1 2.8 1.1 1.4 1.1-.6 1.1-2.2 1.1-3 1.1-2.7 1.1-1.4 1.1 .6 1.1 2.2 1.1 3.1 1.1 2.6 1.1 1.3 1.1-.7 1.1-2.3 1.1-3.1 1.1-2.8 1.1-1.4 1.1 .5 1.1 2.1 1.1 3 1.1 2.6 1.1 1.3 1.1-.7 1.1-2.4 1-3.1 1.1-2.8 1.1-1.4 1.1 .6 1.1 2.2 1.1 3 1.1 2.7 1.1 1.3 1.1-.6 1.1-2.3 1.1-3 1.1-2.7 1.1-1.3 1.1 .6 1.1 2.3 1.1 3.2 1.1 2.7 1.1 1.4 1.1-.5 1.1-2.1 1.1-3 1.1-2.6 1.1-1.2 1.1 .6 1.1 2.4 1.1 3.1 1.1 2.8 1.1 1.4 1.1-.5 1-2.2 1.1-3 1.1-2.6 1.1-1.3 1.1 .6 1.1 2.3 1.1 3 1.1 2.7 1.1 1.3 1.1-.6 1.1-2.2 1.1-3.2 1.1-2.7 1.1-1.4 1.1 .5 1.1 2.2 1.1 3 1.1 2.6 1.1 1.2 1.1-.6 1.1-2.4 1.1-3.1 1.1-2.8 1.1-1.5 1.1 .5 1.1 2.2 1.1 3 1.1 2.7 1 1.2 1.1-.6 1.1-2.3 1.1-3.1 1.1-2.7 1.1-1.4 1.1 .6 1.1 2.3 1.1 3.1 1.1 2.7 1.1 1.4 1.1-.5 1.1-2.2 1.1-3 1.1-2.7 1.1-1.2 1.1 .7 1.1 2.3 0 3.4-1.1-2.3-1.1-.7-1.1 1.2-1.1 2.7-1.1 3-1.1 2.2-1.1 .5-1.1-1.4-1.1-2.7-1.1-3.1-1.1-2.3-1.1-.6-1.1 1.4-1.1 2.7-1.1 3.1-1.1 2.3-1.1 .6-1-1.2-1.1-2.7-1.1-3-1.1-2.2-1.1-.5-1.1 1.5-1.1 2.8-1.1 3.1-1.1 2.4-1.1 .6-1.1-1.2-1.1-2.6-1.1-3-1.1-2.2-1.1-.5-1.1 1.4-1.1 2.7-1.1 3.2-1.1 2.2-1.1 .6-1.1-1.3-1.1-2.7-1.1-3-1.1-2.3-1.1-.6-1.1 1.3-1.1 2.6-1.1 3-1 2.2-1.1 .5-1.1-1.4-1.1-2.8-1.1-3.1-1.1-2.4-1.1-.6-1.1 1.2-1.1 2.6-1.1 3-1.1 2.1-1.1 .5-1.1-1.4-1.1-2.7-1.1-3.2-1.1-2.3-1.1-.6-1.1 1.3-1.1 2.7-1.1 3-1.1 2.3-1.1 .6-1.1-1.3-1.1-2.7-1.1-3-1.1-2.2-1.1-.6-1.1 1.4-1.1 2.8-1 3.1-1.1 2.4-1.1 .7-1.1-1.3-1.1-2.6-1.1-3-1.1-2.1-1.1-.5-1.1 1.4-1.1 2.8-1.1 3.1-1.1 2.3-1.1 .7-1.1-1.3-1.1-2.6-1.1-3.1-1.1-2.2-1.1-.6-1.1 1.4-1.1 2.7-1.1 3-1.1 2.2-1.1 .6-1.1-1.4-1.1-2.8-1.1-3.1-1.1-2.3-1.1-.7-1 1.3-1.1 2.6-1.1 2.9-1.1 2.2-1.1 .5-1.1-1.4-1.1-2.8-1.1-3.2-1.1-2.3-1.1-.7-1.1 1.3-1.1 2.6-1.1 3.1-1.1 2.2-1.1 .5-1.1-1.3-1.1-2.8-1.1-3-1.1-2.3-1.1-.5-1.1 1.3-1.1 2.8-1.1 3.1-1.1 2.3-1.1 .6-1.1-1.2-1.1-2.6-1.1-3-1.1-2.2-1-.5-1.1 1.4-1.1 2.8-1.1 3.2-1.1 2.3-1.1 .7-1.1-1.2-1.1-2.7-1.1-3-1.1-2.2-1.1-.5-1.1 1.4-1.1 2.7-1.1 3.1-1.1 2.3-1.1 .6-1.1-1.4-1.1-2.7-1.1-3.1-1.1-2.3-1.1-.6-1.1 1.3-1.1 2.6-1.1 3-1.1 2.2-1.1 .5-1.1-1.4-1.1-2.8-1.1-3.2-1-2.3-1.1-.7-1.1 1.2-1.1 2.6-1.1 3-1.1 2.2-1.1 .5-1.1-1.4-1.1-2.7-1.1-3.1-1.1-2.3-1.1-.6-1.1 1.3-1.1 2.7-1.1 3-1.1 2.3-1.1 .6-1.1-1.3-1.1-2.6-1.1-3-1.1-2.2-1.1-.5-1.1 1.4-1.1 2.8-1.1 3.1-1.1 2.4-1.1 .6-1.1-1.2-1-2.6-1.1-3-1.1-2.2-1.1-.5-1.1 1.4-1.1 2.8-1.1 3.1-1.1 2.4-1.1 .6-1.1-1.3Z" fill="#ff9a9a" fill-opacity="0.55"/>
<path d="M53.3 277.3l1.1 .2 1.1-1.6 1.1-2.9 1.1-3 1.1-1.9 1.1-.2 1.1 1.6 1.1 2.9 1.1 3 1 1.9 1.1 .2 1.1-1.6 1.1-2.9 1.1-3 1.1-1.9 1.1-.2 1.1 1.6 1.1 2.9 1.1 3 1.1 1.9 1.1 .2 1.1-1.6 1.1-2.9 1.1-3 1.1-1.9 1.1-.2 1.1 1.6 1.1 2.9 1.1 3 1.1 1.9 1.1 .2 1.1-1.6 1.1-2.9 1.1-3 1.1-1.9 1.1-.2 1.1 1.6 1 2.9 1.1 3 1.1 1.9 1.1 .2 1.1-1.6 1.1-2.9 1.1-3 1.1-1.9 1.1-.2 1.1 1.6 1.1 2.9 1.1 3 1.1 1.9 1.1 .2 1.1-1.6 1.1-2.9 1.1-3 1.1-1.9 1.1-.2 1.1 1.6 1.1 2.9 1.1 3 1.1 1.9 1.1 .2 1.1-1.6 1.1-2.9 1.1-3 1.1-1.9 1.1-.2 1 1.6 1.1 2.9 1.1 3 1.1 1.9 1.1 .2 1.1-1.6 1.1-2.9 1.1-3 1.1-1.9 1.1-.2 1.1 1.6 1.1 2.9 1.1 3 1.1 1.9 1.1 .2 1.1-1.6 1.1-2.9 1.1-3 1.1-1.9 1.1-.2 1.1 1.6 1.1 2.9 1.1 3 1.1 1.9 1.1 .2 1.1-1.6 1.1-2.9 1.1-3 1.1-1.9 1-.2 1.1 1.6 1.1 2.9 1.1 3 1.1 1.9 1.1 .2 1.1-1.6 1.1-2.9 1.1-3 1.1-1.9 1.1-.2 1.1 1.6 1.1 2.9 1.1 3 1.1 1.9 1.1 .2 1.1-1.6 1.1-2.9 1.1-3 1.1-1.9 1.1-.2 1.1 1.6 1.1 2.9 1.1 3 1.1 1.9 1.1 .2 1.1-1.6 1.1-2.9 1-3 1.1-1.9 1.1-.2 1.1 1.6 1.1 2.9 1.1 3 1.1 1.9 1.1 .2 1.1-1.6 1.1-2.9 1.1-3 1.1-1.9 1.1-.2 1.1 1.6 1.1 2.9 1.1 3 1.1 1.9 1.1 .2 1.1-1.6 1.1-2.9 1.1-3 1.1-1.9 1.1-.2 1.1 1.6 1.1 2.9 1.1 3 1.1 1.9 1.1 .2 1.1-1.6 1-2.9 1.1-3 1.1-1.9 1.1-.2 1.1 1.6 1.1 2.9 1.1 3 1.1 1.9 1.1 .2 1.1-1.6 1.1-2.9 1.1-3 1.1-1.9 1.1-.2 1.1 1.6 1.1 2.9 1.1 3 1.1 1.9 1.1 .2 1.1-1.6 1.1-2.9 1.1-3 1.1-1.9 1.1-.2 1.1 1.6 1.1 2.9 1.1 3 1.1 1.9 1 .2 1.1-1.6 1.1-2.9 1.1-3 1.1-1.9 1.1-.2 1.1 1.6 1.1 2.9 1.1 3 1.1 1.9 1.1 .2 1.1-1.6 1.1-2.9 1.1-3 1.1-1.9 1.1-.2 1.1 1.6 1.1 2.9 0 2.6-1.1-2.9-1.1-1.6-1.1 .2-1.1 1.9-1.1 3-1.1 2.9-1.1 1.6-1.1-.2-1.1-1.9-1.1-3-1.1-2.9-1.1-1.6-1.1 .2-1.1 1.9-1.1 3-1.1 2.9-1.1 1.6-1-.2-1.1-1.9-1.1-3-1.1-2.9-1.1-1.6-1.1 .2-1.1 1.9-1.1 3-1.1 2.9-1.1 1.6-1.1-.2-1.1-1.9-1.1-3-1.1-2.9-1.1-1.6-1.1 .2-1.1 1.9-1.1 3-1.1 2.9-1.1 1.6-1.1-.2-1.1-1.9-1.1-3-1.1-2.9-1.1-1.6-1.1 .2-1.1 1.9-1.1 3-1 2.9-1.1 1.6-1.1-.2-1.1-1.9-1.1-3-1.1-2.9-1.1-1.6-1.1 .2-1.1 1.9-1.1 3-1.1 2.9-1.1 1.6-1.1-.2-1.1-1.9-1.1-3-1.1-2.9-1.1-1.6-1.1 .2-1.1 1.9-1.1 3-1.1 2.9-1.1 1.6-1.1-.2-1.1-1.9-1.1-3-1.1-2.9-1.1-1.6-1.1 .2-1.1 1.9-1 3-1.1 2.9-1.1 1.6-1.1-.2-1.1-1.9-1.1-3-1.1-2.9-1.1-1.6-1.1 .2-1.1 1.9-1.1 3-1.1 2.9-1.1 1.6-1.1-.2-1.1-1.9-1.1-3-1.1-2.9-1.1-1.6-1.1 .2-1.1 1.9-1.1 3-1.1 2.9-1.1 1.6-1.1-.2-1.1-1.9-1.1-3-1.1-2.9-1.1-1.6-1 .2-1.1 1.9-1.1 3-1.1 2.9-1.1 1.6-1.1-.2-1.1-1.9-1.1-3-1.1-2.9-1.1-1.6-1.1 .2-1.1 1.9-1.1 3-1.1 2.9-1.1 1.6-1.1-.2-1.1-1.9-1.1-3-1.1-2.9-1.1-1.6-1.1 .2-1.1 1.9-1.1 3-1.1 2.9-1.1 1.6-1.1-.2-1.1-1.9-1.1-3-1.1-2.9-1-1.6-1.1 .2-1.1 1.9-1.1 3-1.1 2.9-1.1 1.6-1.1-.2-1.1-1.9-1.1-3-1.1-2.9-1.1-1.6-1.1 .2-1.1 1.9-1.1 3-1.1 2.9-1.1 1.6-1.1-.2-1.1-1.9-1.1-3-1.1-2.9-1.1-1.6-1.1 .2-1.1 1.9-1.1 3-1.1 2.9-1.1 1.6-1.1-.2-1.1-1.9-1.1-3-1-2.9-1.1-1.6-1.1 .2-1.1 1.9-1.1 3-1.1 2.9-1.1 1.6-1.1-.2-1.1-1.9-1.1-3-1.1-2.9-1.1-1.6-1.1 .2-1.1 1.9-1.1 3-1.1 2.9-1.1 1.6-1.1-.2-1.1-1.9-1.1-3-1.1-2.9-1.1-1.6-1.1 .2-1.1 1.9-1.1 3-1.1 2.9-1.1 1.6-1.1-.2-1-1.9-1.1-3-1.1-2.9-1.1-1.6-1.1 .2-1.1 1.9-1.1 3-1.1 2.9-1.1 1.6-1.1-.2Z" fill="#c83c3c" fill-opacity="0.6"/>
<path d="M53.3 286.5l1.1 .2 1.1 .8 1.1 1.3 1.1 1.8 1.1 2 1.1 2 1.1 1.9 1.1 1.5 1.1 1.1 1 .4 1.1-.1 1.1-.8 1.1-1.3 1.1-1.7 1.1-2 1.1-2 1.1-1.9 1.1-1.6 1.1-1.1 1.1-.6 1.1 .1 1.1 .7 1.1 1.3 1.1 1.7 1.1 1.9 1.1 2.1 1.1 1.9 1.1 1.7 1.1 1.1 1.1 .7 1.1-.1 1.1-.6 1.1-1.2 1.1-1.7 1.1-1.9 1.1-2.1 1.1-2 1-1.6 1.1-1.3 1.1-.6 1.1-.1 1.1 .6 1.1 1.2 1.1 1.6 1.1 1.9 1.1 2.1 1.1 2 1.1 1.7 1.1 1.3 1.1 .7 1.1 .1 1.1-.5 1.1-1.1 1.1-1.6 1.1-1.9 1.1-2.1 1.1-2 1.1-1.8 1.1-1.3 1.1-.8 1.1-.2 1.1 .5 1.1 1 1.1 1.6 1.1 1.9 1.1 2.1 1 2 1.1 1.8 1.1 1.4 1.1 .9 1.1 .2 1.1-.4 1.1-1 1.1-1.5 1.1-1.9 1.1-2.1 1.1-2 1.1-1.9 1.1-1.4 1.1-1 1.1-.3 1.1 .4 1.1 .9 1.1 1.5 1.1 1.9 1.1 2 1.1 2.1 1.1 1.9 1.1 1.5 1.1 1 1.1 .4 1.1-.3 1.1-.9 1.1-1.4 1.1-1.9 1-2 1.1-2.1 1.1-1.9 1.1-1.6 1.1-1.1 1.1-.4 1.1 .2 1.1 .8 1.1 1.4 1.1 1.8 1.1 2.1 1.1 2.2 1.1 2 1.1 1.7 1.1 1.2 1.1 .6 1.1-.1 1.1-.8 1.1-1.4 1.1-1.9 1.1-2.2 1.1-2.4 1.1-2.2 1.1-1.9 1.1-1.4 1.1-.7 1.1 0 1.1 .8 1 1.5 1.1 2 1.1 2.4 1.1 2.5 1.1 2.5 1.1 2.1 1.1 1.5 1.1 .8 1.1 .1 1.1-.8 1.1-1.5 1.1-2.1 1.1-2.6 1.1-2.7 1.1-2.6 1.1-2.3 1.1-1.7 1.1-1 1.1-.1 1.1 .7 1.1 1.6 1.1 2.2 1.1 2.7 1.1 2.9 1.1 2.8 1.1 2.5 1.1 1.9 1.1 1.1 1.1 .2 1-.7 1.1-1.5 1.1-2.3 1.1-2.8 1.1-3.2 1.1-3.1 1.1-2.8 1.1-2.2 1.1-1.4 1.1-.4 1.1 .6 1.1 1.6 1.1 2.5 1.1 3.2 1.1 3.5 1.1 3.5 1.1 3.3 1.1 2.5 1.1 1.7 1.1 .6 1.1-.6 1.1-1.7 1.1-2.8 1.1-3.5 1.1-3.9 1.1-3.9 1.1-3.7 1.1-2.9 1-2 1.1-.7 1.1 .5 1.1 1.8 1.1 3 1.1 3.8 1.1 4.2 1.1 4.4 1.1 4.1 1.1 3.3 1.1 2.3 1.1 1 1.1-.5 1.1-1.9 1.1-3.1 1.1-4.1 1.1-4.6 1.1-4.8 0 6-1.1 4.8-1.1 4.6-1.1 4.1-1.1 3.1-1.1 1.9-1.1 .5-1.1-1-1.1-2.3-1.1-3.3-1.1-4.1-1.1-4.4-1.1-4.2-1.1-3.8-1.1-3-1.1-1.8-1.1-.5-1.1 .7-1 2-1.1 2.9-1.1 3.7-1.1 3.9-1.1 3.9-1.1 3.5-1.1 2.8-1.1 1.7-1.1 .6-1.1-.6-1.1-1.7-1.1-2.5-1.1-3.3-1.1-3.5-1.1-3.5-1.1-3.2-1.1-2.5-1.1-1.6-1.1-.6-1.1 .4-1.1 1.4-1.1 2.2-1.1 2.8-1.1 3.1-1.1 3.2-1.1 2.8-1.1 2.3-1.1 1.5-1 .7-1.1-.2-1.1-1.1-1.1-1.9-1.1-2.5-1.1-2.8-1.1-2.9-1.1-2.7-1.1-2.2-1.1-1.6-1.1-.7-1.1 .1-1.1 1-1.1 1.7-1.1 2.3-1.1 2.6-1.1 2.7-1.1 2.6-1.1 2.1-1.1 1.5-1.1 .8-1.1-.1-1.1-.8-1.1-1.5-1.1-2.1-1.1-2.5-1.1-2.5-1.1-2.4-1.1-2-1-1.5-1.1-.8-1.1 0-1.1 .7-1.1 1.4-1.1 1.9-1.1 2.2-1.1 2.4-1.1 2.2-1.1 1.9-1.1 1.4-1.1 .8-1.1 .1-1.1-.6-1.1-1.2-1.1-1.7-1.1-2-1.1-2.2-1.1-2.1-1.1-1.8-1.1-1.4-1.1-.8-1.1-.2-1.1 .4-1.1 1.1-1.1 1.6-1.1 1.9-1.1 2.1-1 2-1.1 1.9-1.1 1.4-1.1 .9-1.1 .3-1.1-.4-1.1-1-1.1-1.5-1.1-1.9-1.1-2.1-1.1-2-1.1-1.9-1.1-1.5-1.1-.9-1.1-.4-1.1 .3-1.1 1-1.1 1.4-1.1 1.9-1.1 2-1.1 2.1-1.1 1.9-1.1 1.5-1.1 1-1.1 .4-1.1-.2-1.1-.9-1.1-1.4-1.1-1.8-1-2-1.1-2.1-1.1-1.9-1.1-1.6-1.1-1-1.1-.5-1.1 .2-1.1 .8-1.1 1.3-1.1 1.8-1.1 2-1.1 2.1-1.1 1.9-1.1 1.6-1.1 1.1-1.1 .5-1.1-.1-1.1-.7-1.1-1.3-1.1-1.7-1.1-2-1.1-2.1-1.1-1.9-1.1-1.6-1.1-1.2-1.1-.6-1.1 .1-1.1 .6-1.1 1.3-1 1.6-1.1 2-1.1 2.1-1.1 1.9-1.1 1.7-1.1 1.2-1.1 .6-1.1 .1-1.1-.7-1.1-1.1-1.1-1.7-1.1-1.9-1.1-2.1-1.1-1.9-1.1-1.7-1.1-1.3-1.1-.7-1.1-.1-1.1 .6-1.1 1.1-1.1 1.6-1.1 1.9-1.1 2-1.1 2-1.1 1.7-1.1 1.3-1.1 .8-1.1 .1-1-.4-1.1-1.1-1.1-1.5-1.1-1.9-1.1-2-1.1-2-1.1-1.8-1.1-1.3-1.1-.8-1.1-.2Z" fill="#ff9a9a" fill-opacity="0.55"/>
<path d="M53.3 291.2l1.1-1.6 1.1-1.3 1.1-.7 1.1-.2 1.1 .3 1.1 .9 1.1 1.4 1.1 1.7 1.1 1.9 1 1.8 1.1 1.7 1.1 1.3 1.1 .8 1.1 .3 1.1-.3 1.1-.9 1.1-1.3 1.1-1.7 1.1-1.8 1.1-1.9 1.1-1.7 1.1-1.3 1.1-.9 1.1-.4 1.1 .2 1.1 .8 1.1 1.3 1.1 1.6 1.1 1.9 1.1 1.9 1.1 1.7 1.1 1.4 1.1 1 1.1 .4 1.1-.1 1.1-.8 1.1-1.2 1-1.6 1.1-1.8 1.1-1.9 1.1-1.8 1.1-1.5 1.1-1 1.1-.5 1.1 .1 1.1 .6 1.1 1.2 1.1 1.6 1.1 1.8 1.1 1.9 1.1 1.8 1.1 1.5 1.1 1.1 1.1 .6 1.1 0 1.1-.6 1.1-1.1 1.1-1.5 1.1-1.9 1.1-1.9 1.1-1.8 1.1-1.6 1.1-1.1 1.1-.7 1.1-.1 1.1 .6 1 1 1.1 1.5 1.1 1.8 1.1 1.9 1.1 1.9 1.1 1.6 1.1 1.2 1.1 .8 1.1 .1 1.1-.4 1.1-1 1.1-1.5 1.1-1.8 1.1-1.9 1.1-1.9 1.1-1.6 1.1-1.3 1.1-.8 1.1-.2 1.1 .3 1.1 1 1.1 1.4 1.1 1.7 1.1 1.9 1.1 1.9 1.1 1.8 1.1 1.3 1.1 .9 1.1 .3 1-.3 1.1-.9 1.1-1.4 1.1-1.7 1.1-1.9 1.1-1.9 1.1-1.8 1.1-1.4 1.1-.9 1.1-.5 1.1 .2 1.1 .8 1.1 1.3 1.1 1.7 1.1 2 1.1 2.1 1.1 1.9 1.1 1.6 1.1 1.2 1.1 .5 1.1-.1 1.1-.8 1.1-1.4 1.1-1.8 1.1-2.1 1.1-2.2 1.1-2.2 1.1-1.7 1-1.3 1.1-.7 1.1 0 1.1 .8 1.1 1.4 1.1 1.9 1.1 2.3 1.1 2.4 1.1 2.3 1.1 1.9 1.1 1.5 1.1 .8 1.1 .1 1.1-.8 1.1-1.4 1.1-2 1.1-2.4 1.1-2.5 1.1-2.5 1.1-2.2 1.1-1.6 1.1-1 1.1-.1 1.1 .6 1.1 1.5 1.1 2 1.1 2.5 1.1 2.8 1.1 2.6 1 2.4 1.1 1.8 1.1 1.2 1.1 .4 1.1-.6 1.1-1.4 1.1-2.1 1.1-2.8 1.1-3 1.1-3 1.1-2.8 1.1-2.2 1.1-1.4 1.1-.5 1.1 .5 1.1 1.5 1.1 2.3 1.1 3 1.1 3.4 1.1 3.4 1.1 3.2 1.1 2.5 1.1 1.8 1.1 .6 1.1-.4 1.1-1.5 1.1-2.5 1.1-3.3 1-3.7 1.1-3.9 1.1-3.5 1.1-2.9 1.1-2.1 1.1-.9 1.1 .4 1.1 1.5 1.1 2.7 1.1 3.5 1.1 4.1 1.1 4.2 1.1 3.9 1.1 3.4 1.1 2.3 1.1 1.2 1.1-.3 1.1-1.6 0 4.2-1.1 1.6-1.1 .3-1.1-1.2-1.1-2.3-1.1-3.4-1.1-3.9-1.1-4.2-1.1-4.1-1.1-3.5-1.1-2.7-1.1-1.5-1.1-.4-1.1 .9-1.1 2.1-1.1 2.9-1.1 3.5-1.1 3.9-1 3.7-1.1 3.3-1.1 2.5-1.1 1.5-1.1 .4-1.1-.6-1.1-1.8-1.1-2.5-1.1-3.2-1.1-3.4-1.1-3.4-1.1-3-1.1-2.3-1.1-1.5-1.1-.5-1.1 .5-1.1 1.4-1.1 2.2-1.1 2.8-1.1 3-1.1 3-1.1 2.8-1.1 2.1-1.1 1.4-1.1 .6-1.1-.4-1.1-1.2-1.1-1.8-1-2.4-1.1-2.6-1.1-2.8-1.1-2.5-1.1-2-1.1-1.5-1.1-.6-1.1 .1-1.1 1-1.1 1.6-1.1 2.2-1.1 2.5-1.1 2.5-1.1 2.4-1.1 2-1.1 1.4-1.1 .8-1.1-.1-1.1-.8-1.1-1.5-1.1-1.9-1.1-2.3-1.1-2.4-1.1-2.3-1.1-1.9-1.1-1.4-1.1-.8-1.1 0-1.1 .7-1 1.3-1.1 1.7-1.1 2.2-1.1 2.2-1.1 2.1-1.1 1.8-1.1 1.4-1.1 .8-1.1 .1-1.1-.5-1.1-1.2-1.1-1.6-1.1-1.9-1.1-2.1-1.1-2-1.1-1.7-1.1-1.3-1.1-.8-1.1-.2-1.1 .5-1.1 .9-1.1 1.4-1.1 1.8-1.1 1.9-1.1 1.9-1.1 1.7-1.1 1.4-1.1 .9-1 .3-1.1-.3-1.1-.9-1.1-1.3-1.1-1.8-1.1-1.9-1.1-1.9-1.1-1.7-1.1-1.4-1.1-1-1.1-.3-1.1 .2-1.1 .8-1.1 1.3-1.1 1.6-1.1 1.9-1.1 1.9-1.1 1.8-1.1 1.5-1.1 1-1.1 .4-1.1-.1-1.1-.8-1.1-1.2-1.1-1.6-1.1-1.9-1.1-1.9-1.1-1.8-1.1-1.5-1-1-1.1-.6-1.1 .1-1.1 .7-1.1 1.1-1.1 1.6-1.1 1.8-1.1 1.9-1.1 1.9-1.1 1.5-1.1 1.1-1.1 .6-1.1 0-1.1-.6-1.1-1.1-1.1-1.5-1.1-1.8-1.1-1.9-1.1-1.8-1.1-1.6-1.1-1.2-1.1-.6-1.1-.1-1.1 .5-1.1 1-1.1 1.5-1.1 1.8-1.1 1.9-1.1 1.8-1 1.6-1.1 1.2-1.1 .8-1.1 .1-1.1-.4-1.1-1-1.1-1.4-1.1-1.7-1.1-1.9-1.1-1.9-1.1-1.6-1.1-1.3-1.1-.8-1.1-.2-1.1 .4-1.1 .9-1.1 1.3-1.1 1.7-1.1 1.9-1.1 1.8-1.1 1.7-1.1 1.3-1.1 .9-1.1 .3-1.1-.3-1.1-.8-1.1-1.3-1.1-1.7-1-1.8-1.1-1.9-1.1-1.7-1.1-1.4-1.1-.9-1.1-.3-1.1 .2-1.1 .7-1.1 1.3-1.1 1.6Z" fill="#c83c3c" fill-opacity="0.6"/>
<path d="M35.3 319l1.4 .3 1.3-7.7 1.4-4.8 1.4 13 1.4 20.2 1.3 12.7 1.4-5.2 1.4-5.6 1.3 .1 1.4-7.2 1.4-14.6 1.3 7.8 1.4 16.1 1.4-16.8 1.4-12.4 1.3 11.2 1.4-3.9 1.4-4.9 1.3 6.5 1.4 3.3 1.4 10.4 1.4 3.7 1.3-9.3 1.4 5 1.4 3 1.3-11.7 1.4-3.5 1.4 2.9 1.3 3.8 1.4 .7 1.4-9.8 1.4-1.7 1.3 5.1 1.4-8.9 1.4-2.3 1.3 18.6 1.4 11.6 1.4-8.8 1.4-6.3 1.3 8.9 1.4 1.7 1.4-13.5 1.3-3.6 1.4 9.6 1.4 2.4 1.3-10.7 1.4-6.1 1.4 9.6 1.4-1.4 1.3-14.2 1.4 7.7 1.4 12.6 1.3 1.2 1.4 9.4 1.4-3.8 1.4-11.9 1.3 10.7 1.4-4.7 1.4-15.6 1.3 15.9 1.4 5.8 1.4-17.5 1.3-2.8 1.4 2.6 1.4 3.4 1.4-.6 1.3-12.1 1.4 14.5 1.4 21.7 1.3-16.4 1.4-3.9 1.4 19.4 1.4-11.8 1.3-16.6 1.4 9.5 1.4 4.4 1.3-3.3 1.4 .7 1.4-7.6 1.4-7.2 1.3 6.3 1.4 1.2 1.4-4 1.3 11.4 1.4 8.7 1.4-6.4 1.3 1.8 1.4 4 1.4-3.3 1.4-2.8 1.3-10.6 1.4 2 1.4 18.2 1.3-15.1 1.4-16.5 1.4 20.9 1.4-4.5 1.3-21.4 1.4 16.5 1.4 15.7 1.3-.5 1.4 .4 1.4-9 1.3 4.2 1.4 11.5 1.4-15 1.4-7.2 1.3 10.7 1.4-4 1.4-3.8 1.3 1.1 1.4-6 1.4 1.2 1.4 1.6 1.3-5.6 1.4 8.2 1.4 16.2 1.3-.5 1.4-9.6 1.4 1.4 1.3 3.4 1.4-7.6 1.4-1.7 1.4 7.7 1.3-3.6 1.4-11.3 1.4-2.1 1.3 9.9 1.4 2.9 1.4-17.4 1.4-.8 1.3 25.2 1.4 2 1.4-10.5 1.3 8.8 1.4 2.2 1.4-7.3 1.3-3.9 1.4-4.8 1.4 6.9 1.4 5.7 1.3-12.1 1.4-6.8 1.4 1 1.3 4.7 1.4 6.8 1.4-11.9 1.4-.9 1.3 25.5 1.4-1.8 1.4-13.7 1.3 12.8 1.4-.5 1.4-16.1 1.3 2.5 1.4 6.7 1.4-2.3 1.4-6.7 1.3-3 1.4 6.1 1.4-4.3 1.3-11 1.4 11.6 1.4 14.9 1.4-6.2 1.3-7.7 1.4 6.8 1.4 3.8 1.3 .3 1.4 3.6 1.4 3.5 1.3 4.8 1.4 5.2 1.4 3.9 1.4-2.5 1.3-5.3 1.4-2.7 1.4-12.9 1.3-21.8 1.4-22.6 1.4-18.7 1.4-.9 1.3 15.2 1.4 16.5 1.4 12.3 1.3 9.8 1.4 6.8 1.4 4.1 1.3 2.9 1.4 1.8 1.4 1.1 1.4 1 0 9.6-1.4-1-1.4-1.1-1.4-1.8-1.3-2.9-1.4-4.1-1.4-6.8-1.3-9.8-1.4-12.3-1.4-16.5-1.3-15.2-1.4 .9-1.4 18.7-1.4 22.6-1.3 21.8-1.4 12.9-1.4 2.7-1.3 5.3-1.4 2.5-1.4-3.9-1.4-5.2-1.3-4.8-1.4-3.5-1.4-3.6-1.3-.3-1.4-3.8-1.4-6.8-1.3 7.7-1.4 6.2-1.4-14.9-1.4-11.6-1.3 11-1.4 4.3-1.4-6.1-1.3 3-1.4 6.7-1.4 2.3-1.4-6.7-1.3-2.5-1.4 16.1-1.4 .5-1.3-12.8-1.4 13.7-1.4 1.8-1.3-25.5-1.4 .9-1.4 11.9-1.4-6.8-1.3-4.7-1.4-1-1.4 6.8-1.3 12.1-1.4-5.7-1.4-6.9-1.4 4.8-1.3 3.9-1.4 7.3-1.4-2.2-1.3-8.8-1.4 10.5-1.4-2-1.3-25.2-1.4 .8-1.4 17.4-1.4-2.9-1.3-9.9-1.4 2.1-1.4 11.3-1.3 3.6-1.4-7.7-1.4 1.7-1.4 7.6-1.3-3.4-1.4-1.4-1.4 9.6-1.3 .5-1.4-16.2-1.4-8.2-1.3 5.6-1.4-1.6-1.4-1.2-1.4 6-1.3-1.1-1.4 3.8-1.4 4-1.3-10.7-1.4 7.2-1.4 15-1.4-11.5-1.3-4.2-1.4 9-1.4-.4-1.3 .5-1.4-15.7-1.4-16.5-1.3 21.4-1.4 4.5-1.4-20.9-1.4 16.5-1.3 15.1-1.4-18.2-1.4-2-1.3 10.6-1.4 2.8-1.4 3.3-1.4-4-1.3-1.8-1.4 6.4-1.4-8.7-1.3-11.4-1.4 4-1.4-1.2-1.3-6.3-1.4 7.2-1.4 7.6-1.4-.7-1.3 3.3-1.4-4.4-1.4-9.5-1.3 16.6-1.4 11.8-1.4-19.4-1.4 3.9-1.3 16.4-1.4-21.7-1.4-14.5-1.3 12.1-1.4 .6-1.4-3.4-1.4-2.6-1.3 2.8-1.4 17.5-1.4-5.8-1.3-15.9-1.4 15.6-1.4 4.7-1.3-10.7-1.4 11.9-1.4 3.8-1.4-9.4-1.3-1.2-1.4-12.6-1.4-7.7-1.3 14.2-1.4 1.4-1.4-9.6-1.4 6.1-1.3 10.7-1.4-2.4-1.4-9.6-1.3 3.6-1.4 13.5-1.4-1.7-1.3-8.9-1.4 6.3-1.4 8.8-1.4-11.6-1.3-18.6-1.4 2.3-1.4 8.9-1.3-5.1-1.4 1.7-1.4 9.8-1.4-.7-1.3-3.8-1.4-2.9-1.4 3.5-1.3 11.7-1.4-3-1.4-5-1.3 9.3-1.4-3.7-1.4-10.4-1.4-3.3-1.3-6.5-1.4 4.9-1.4 3.9-1.3-11.2-1.4 12.4-1.4 16.8-1.4-16.1-1.3-7.8-1.4 14.6-1.4 7.2-1.3-.1-1.4 5.6-1.4 5.2-1.3-12.7-1.4-20.2-1.4-13-1.4 4.8-1.3 7.7-1.4-.3Z" fill="#ff9a9a" fill-opacity="0.55"/>
<path d="M35.3 320.9l1.4 .3 1.3-7.7 1.4-4.7 1.4 12.9 1.4 20.2 1.3 12.8 1.4-5.5 1.4-6.9 1.3 1 1.4-5.2 1.4-9 1.3 4.8 1.4 7 1.4-9.7 1.4-8.1 1.3 5.4 1.4-6.4 1.4-6.6 1.3 7.5 1.4 5.8 1.4 6.6 1.4-.9 1.3-8.2 1.4 8.8 1.4 7.1 1.3-12.4 1.4-5.6 1.4 10 1.3 8.6 1.4-6.8 1.4-15.3 1.4-2 1.3 9.4 1.4-2.3 1.4-11.5 1.3 9 1.4 18.4 1.4-6.9 1.4-7.9 1.3 8.6 1.4 .2 1.4-2.7 1.3-2.4 1.4-2.3 1.4 12.7 1.3-1.5 1.4-19.7 1.4 .6 1.4 5.6 1.3-3.7 1.4-.1 1.4 .3 1.3 9.3 1.4 9.7 1.4-9 1.4-4.7 1.3 8.6 1.4-1.1 1.4-7.8 1.3 5.7 1.4 8.3 1.4-9.9 1.3-9 1.4 3.9 1.4-3.2 1.4-4.7 1.3 3.6 1.4 4 1.4 7 1.3 3.2 1.4-3.4 1.4-.4 1.4 0 1.3 1.1 1.4-1.3 1.4-1.7 1.3 8.4 1.4-3.1 1.4-15.5 1.4 2.9 1.3 5.9 1.4-10.7 1.4-4.4 1.3 15.4 1.4 11.4 1.4-10.3 1.3-3.3 1.4 11.6 1.4-4 1.4-6.2 1.3 4.5 1.4-.7 1.4 3.7 1.3 1 1.4-13.8 1.4-3.9 1.4 7.2 1.3-2.5 1.4-8.9 1.4 6.4 1.3 21.3 1.4-3.6 1.4-19.2 1.3 12.2 1.4 13.3 1.4-16.2 1.4-5.8 1.3 13.4 1.4 2 1.4-7.4 1.3-3.3 1.4-7.4 1.4-3.6 1.4 10.3 1.3-3.5 1.4-7.7 1.4 19 1.3 8 1.4-15.7 1.4 .7 1.3 9.4 1.4-2 1.4-8.1 1.4 1.3 1.3 13.5 1.4-6.9 1.4-16.6 1.3 7.6 1.4-1.8 1.4-11.6 1.4 12.6 1.3 6.1 1.4-7.3 1.4 9.6 1.3 6.4 1.4-10.2 1.4-.4 1.3 6.2 1.4-7.3 1.4 1.3 1.4 14.6 1.3-11.4 1.4-18.1 1.4 11.2 1.3 4.6 1.4-15 1.4-1.3 1.4 14.8 1.3 9.4 1.4-7.2 1.4-3.6 1.3 9.5 1.4-2.3 1.4-7.1 1.3 3 1.4 2.3 1.4 4.8 1.4-1.6 1.3-16.1 1.4-3.3 1.4 12.6 1.3-2.2 1.4-16.3 1.4 7 1.4 25.7 1.3-11 1.4-16.9 1.4 14.4 1.3 9.4 1.4 3.4 1.4 4.3 1.3 3.4 1.4 3.5 1.4 2.1 1.4-3.7 1.3-5.8 1.4-2.1 1.4-11.5 1.3-20.1 1.4-21 1.4-17.7 1.4-.9 1.3 14.3 1.4 14.8 1.4 10.6 1.3 8.4 1.4 6.2 1.4 4.5 1.3 4.2 1.4 3.5 1.4 2.8 1.4 2 0 5.8-1.4-2-1.4-2.8-1.4-3.6-1.3-4.1-1.4-4.5-1.4-6.2-1.3-8.4-1.4-10.6-1.4-14.9-1.3-14.2-1.4 .8-1.4 17.7-1.4 21.1-1.3 20.1-1.4 11.5-1.4 2-1.3 5.8-1.4 3.8-1.4-2.2-1.4-3.4-1.3-3.5-1.4-4.3-1.4-3.4-1.3-9.4-1.4-14.4-1.4 16.9-1.3 11.1-1.4-25.8-1.4-7-1.4 16.4-1.3 2.1-1.4-12.5-1.4 3.3-1.3 16.1-1.4 1.6-1.4-4.8-1.4-2.4-1.3-3-1.4 7.2-1.4 2.2-1.3-9.5-1.4 3.6-1.4 7.2-1.3-9.3-1.4-14.9-1.4 1.4-1.4 15-1.3-4.6-1.4-11.2-1.4 18.1-1.3 11.4-1.4-14.7-1.4-1.3-1.4 7.4-1.3-6.2-1.4 .3-1.4 10.2-1.3-6.3-1.4-9.6-1.4 7.2-1.3-6-1.4-12.6-1.4 11.6-1.4 1.8-1.3-7.7-1.4 16.6-1.4 6.9-1.3-13.5-1.4-1.2-1.4 8-1.4 2.1-1.3-9.5-1.4-.7-1.4 15.7-1.3-7.9-1.4-19-1.4 7.7-1.3 3.4-1.4-10.2-1.4 3.6-1.4 7.4-1.3 3.3-1.4 7.4-1.4-2.1-1.3-13.4-1.4 5.9-1.4 16.1-1.4-13.3-1.3-12.2-1.4 19.2-1.4 3.7-1.3-21.3-1.4-6.5-1.4 9-1.3 2.4-1.4-7.1-1.4 3.9-1.4 13.8-1.3-1-1.4-3.7-1.4 .7-1.3-4.6-1.4 6.2-1.4 4-1.4-11.6-1.3 3.3-1.4 10.3-1.4-11.3-1.3-15.4-1.4 4.3-1.4 10.8-1.3-6-1.4-2.9-1.4 15.6-1.4 3-1.3-8.3-1.4 1.7-1.4 1.2-1.3-1-1.4 0-1.4 .3-1.4 3.5-1.3-3.2-1.4-7-1.4-4-1.3-3.6-1.4 4.6-1.4 3.3-1.4-4-1.3 9-1.4 9.9-1.4-8.2-1.3-5.7-1.4 7.7-1.4 1.2-1.3-8.7-1.4 4.8-1.4 9-1.4-9.8-1.3-9.2-1.4-.3-1.4 .1-1.3 3.6-1.4-5.6-1.4-.6-1.4 19.8-1.3 1.4-1.4-12.6-1.4 2.3-1.3 2.4-1.4 2.6-1.4-.1-1.3-8.6-1.4 7.8-1.4 7-1.4-18.4-1.3-9.1-1.4 11.6-1.4 2.3-1.3-9.5-1.4 2.1-1.4 15.3-1.4 6.8-1.3-8.6-1.4-10-1.4 5.6-1.3 12.4-1.4-7.1-1.4-8.9-1.3 8.3-1.4 .9-1.4-6.6-1.4-5.9-1.3-7.4-1.4 6.6-1.4 6.4-1.3-5.4-1.4 8-1.4 9.8-1.4-7-1.3-4.8-1.4 9-1.4 5.1-1.3-.9-1.4 6.9-1.4 5.4-1.3-12.7-1.4-20.2-1.4-13-1.4 4.8-1.3 7.6-1.4-.2Z" fill="#c83c3c" fill-opacity="0.6"/>
<path d="M53.3 278.4l1.1 1.3 1.1-.6 1.1-2.4 1.1-3.1 1.1-2.8 1.1-1.4 1.1 .5 1.1 2.2 1.1 3 1 2.6 1.1 1.2 1.1-.6 1.1-2.4 1.1-3.1 1.1-2.8 1.1-1.4 1.1 .5 1.1 2.2 1.1 3 1.1 2.6 1.1 1.3 1.1-.6 1.1-2.3 1.1-3 1.1-2.7 1.1-1.3 1.1 .6 1.1 2.3 1.1 3.1 1.1 2.7 1.1 1.4 1.1-.5 1.1-2.2 1.1-3 1.1-2.6 1.1-1.2 1.1 .7 1 2.3 1.1 3.2 1.1 2.8 1.1 1.4 1.1-.5 1.1-2.2 1.1-3 1.1-2.6 1.1-1.3 1.1 .6 1.1 2.3 1.1 3.1 1.1 2.7 1.1 1.4 1.1-.6 1.1-2.3 1.1-3.1 1.1-2.7 1.1-1.4 1.1 .5 1.1 2.2 1.1 3 1.1 2.7 1.1 1.2 1.1-.7 1.1-2.3 1.1-3.2 1.1-2.8 1.1-1.4 1 .5 1.1 2.2 1.1 3 1.1 2.6 1.1 1.2 1.1-.6 1.1-2.3 1.1-3.1 1.1-2.8 1.1-1.3 1.1 .5 1.1 2.3 1.1 3 1.1 2.8 1.1 1.3 1.1-.5 1.1-2.2 1.1-3.1 1.1-2.6 1.1-1.3 1.1 .7 1.1 2.3 1.1 3.2 1.1 2.8 1.1 1.4 1.1-.5 1.1-2.2 1.1-2.9 1.1-2.6 1-1.3 1.1 .7 1.1 2.3 1.1 3.1 1.1 2.8 1.1 1.4 1.1-.6 1.1-2.2 1.1-3 1.1-2.7 1.1-1.4 1.1 .6 1.1 2.2 1.1 3.1 1.1 2.6 1.1 1.3 1.1-.7 1.1-2.3 1.1-3.1 1.1-2.8 1.1-1.4 1.1 .5 1.1 2.1 1.1 3 1.1 2.6 1.1 1.3 1.1-.7 1.1-2.4 1-3.1 1.1-2.8 1.1-1.4 1.1 .6 1.1 2.2 1.1 3 1.1 2.7 1.1 1.3 1.1-.6 1.1-2.3 1.1-3 1.1-2.7 1.1-1.3 1.1 .6 1.1 2.3 1.1 3.2 1.1 2.7 1.1 1.4 1.1-.5 1.1-2.1 1.1-3 1.1-2.6 1.1-1.2 1.1 .6 1.1 2.4 1.1 3.1 1.1 2.8 1.1 1.4 1.1-.5 1-2.2 1.1-3 1.1-2.6 1.1-1.3 1.1 .6 1.1 2.3 1.1 3 1.1 2.7 1.1 1.3 1.1-.6 1.1-2.2 1.1-3.2 1.1-2.7 1.1-1.4 1.1 .5 1.1 2.2 1.1 3 1.1 2.6 1.1 1.2 1.1-.6 1.1-2.4 1.1-3.1 1.1-2.8 1.1-1.5 1.1 .5 1.1 2.2 1.1 3 1.1 2.7 1 1.2 1.1-.6 1.1-2.3 1.1-3.1 1.1-2.7 1.1-1.4 1.1 .6 1.1 2.3 1.1 3.1 1.1 2.7 1.1 1.4 1.1-.5 1.1-2.2 1.1-3 1.1-2.7 1.1-1.2 1.1 .7 1.1 2.3" fill="none" stroke="#ff2a2a" stroke-width="1.25" stroke-linejoin="round" stroke-dasharray="3,2"/>
<path d="M53.3 278.6l1.1 .2 1.1-1.6 1.1-2.9 1.1-3 1.1-1.9 1.1-.2 1.1 1.6 1.1 2.9 1.1 3 1 1.9 1.1 .2 1.1-1.6 1.1-2.9 1.1-3 1.1-1.9 1.1-.2 1.1 1.6 1.1 2.9 1.1 3 1.1 1.9 1.1 .2 1.1-1.6 1.1-2.9 1.1-3 1.1-1.9 1.1-.2 1.1 1.6 1.1 2.9 1.1 3 1.1 1.9 1.1 .2 1.1-1.6 1.1-2.9 1.1-3 1.1-1.9 1.1-.2 1.1 1.6 1 2.9 1.1 3 1.1 1.9 1.1 .2 1.1-1.6 1.1-2.9 1.1-3 1.1-1.9 1.1-.2 1.1 1.6 1.1 2.9 1.1 3 1.1 1.9 1.1 .2 1.1-1.6 1.1-2.9 1.1-3 1.1-1.9 1.1-.2 1.1 1.6 1.1 2.9 1.1 3 1.1 1.9 1.1 .2 1.1-1.6 1.1-2.9 1.1-3 1.1-1.9 1.1-.2 1 1.6 1.1 2.9 1.1 3 1.1 1.9 1.1 .2 1.1-1.6 1.1-2.9 1.1-3 1.1-1.9 1.1-.2 1.1 1.6 1.1 2.9 1.1 3 1.1 1.9 1.1 .2 1.1-1.6 1.1-2.9 1.1-3 1.1-1.9 1.1-.2 1.1 1.6 1.1 2.9 1.1 3 1.1 1.9 1.1 .2 1.1-1.6 1.1-2.9 1.1-3 1.1-1.9 1-.2 1.1 1.6 1.1 2.9 1.1 3 1.1 1.9 1.1 .2 1.1-1.6 1.1-2.9 1.1-3 1.1-1.9 1.1-.2 1.1 1.6 1.1 2.9 1.1 3 1.1 1.9 1.1 .2 1.1-1.6 1.1-2.9 1.1-3 1.1-1.9 1.1-.2 1.1 1.6 1.1 2.9 1.1 3 1.1 1.9 1.1 .2 1.1-1.6 1.1-2.9 1-3 1.1-1.9 1.1-.2 1.1 1.6 1.1 2.9 1.1 3 1.1 1.9 1.1 .2 1.1-1.6 1.1-2.9 1.1-3 1.1-1.9 1.1-.2 1.1 1.6 1.1 2.9 1.1 3 1.1 1.9 1.1 .2 1.1-1.6 1.1-2.9 1.1-3 1.1-1.9 1.1-.2 1.1 1.6 1.1 2.9 1.1 3 1.1 1.9 1.1 .2 1.1-1.6 1-2.9 1.1-3 1.1-1.9 1.1-.2 1.1 1.6 1.1 2.9 1.1 3 1.1 1.9 1.1 .2 1.1-1.6 1.1-2.9 1.1-3 1.1-1.9 1.1-.2 1.1 1.6 1.1 2.9 1.1 3 1.1 1.9 1.1 .2 1.1-1.6 1.1-2.9 1.1-3 1.1-1.9 1.1-.2 1.1 1.6 1.1 2.9 1.1 3 1.1 1.9 1 .2 1.1-1.6 1.1-2.9 1.1-3 1.1-1.9 1.1-.2 1.1 1.6 1.1 2.9 1.1 3 1.1 1.9 1.1 .2 1.1-1.6 1.1-2.9 1.1-3 1.1-1.9 1.1-.2 1.1 1.6 1.1 2.9" fill="none" stroke="#8c0000" stroke-width="1.25" stroke-linejoin="round"/>
<path d="M53.3 289.5l1.1 .2 1.1 .8 1.1 1.3 1.1 1.8 1.1 2 1.1 2 1.1 1.9 1.1 1.5 1.1 1.1 1 .4 1.1-.1 1.1-.8 1.1-1.3 1.1-1.7 1.1-2 1.1-2 1.1-1.9 1.1-1.6 1.1-1.1 1.1-.6 1.1 .1 1.1 .7 1.1 1.3 1.1 1.7 1.1 1.9 1.1 2.1 1.1 1.9 1.1 1.7 1.1 1.1 1.1 .7 1.1-.1 1.1-.6 1.1-1.2 1.1-1.7 1.1-1.9 1.1-2.1 1.1-2 1-1.6 1.1-1.3 1.1-.6 1.1-.1 1.1 .6 1.1 1.2 1.1 1.6 1.1 1.9 1.1 2.1 1.1 2 1.1 1.7 1.1 1.3 1.1 .7 1.1 .1 1.1-.5 1.1-1.1 1.1-1.6 1.1-1.9 1.1-2.1 1.1-2 1.1-1.8 1.1-1.3 1.1-.8 1.1-.2 1.1 .5 1.1 1 1.1 1.6 1.1 1.9 1.1 2.1 1 2 1.1 1.8 1.1 1.4 1.1 .9 1.1 .2 1.1-.4 1.1-1 1.1-1.5 1.1-1.9 1.1-2.1 1.1-2 1.1-1.9 1.1-1.4 1.1-1 1.1-.3 1.1 .4 1.1 .9 1.1 1.5 1.1 1.9 1.1 2 1.1 2.1 1.1 1.9 1.1 1.5 1.1 1 1.1 .4 1.1-.3 1.1-.9 1.1-1.4 1.1-1.9 1-2 1.1-2.1 1.1-1.9 1.1-1.6 1.1-1.1 1.1-.4 1.1 .2 1.1 .8 1.1 1.4 1.1 1.8 1.1 2.1 1.1 2.2 1.1 2 1.1 1.7 1.1 1.2 1.1 .6 1.1-.1 1.1-.8 1.1-1.4 1.1-1.9 1.1-2.2 1.1-2.4 1.1-2.2 1.1-1.9 1.1-1.4 1.1-.7 1.1 0 1.1 .8 1 1.5 1.1 2 1.1 2.4 1.1 2.5 1.1 2.5 1.1 2.1 1.1 1.5 1.1 .8 1.1 .1 1.1-.8 1.1-1.5 1.1-2.1 1.1-2.6 1.1-2.7 1.1-2.6 1.1-2.3 1.1-1.7 1.1-1 1.1-.1 1.1 .7 1.1 1.6 1.1 2.2 1.1 2.7 1.1 2.9 1.1 2.8 1.1 2.5 1.1 1.9 1.1 1.1 1.1 .2 1-.7 1.1-1.5 1.1-2.3 1.1-2.8 1.1-3.2 1.1-3.1 1.1-2.8 1.1-2.2 1.1-1.4 1.1-.4 1.1 .6 1.1 1.6 1.1 2.5 1.1 3.2 1.1 3.5 1.1 3.5 1.1 3.3 1.1 2.5 1.1 1.7 1.1 .6 1.1-.6 1.1-1.7 1.1-2.8 1.1-3.5 1.1-3.9 1.1-3.9 1.1-3.7 1.1-2.9 1-2 1.1-.7 1.1 .5 1.1 1.8 1.1 3 1.1 3.8 1.1 4.2 1.1 4.4 1.1 4.1 1.1 3.3 1.1 2.3 1.1 1 1.1-.5 1.1-1.9 1.1-3.1 1.1-4.1 1.1-4.6 1.1-4.8" fill="none" stroke="#ff2a2a" stroke-width="1.25" stroke-linejoin="round" stroke-dasharray="3,2"/>
<path d="M53.3 293.3l1.1-1.6 1.1-1.3 1.1-.7 1.1-.2 1.1 .3 1.1 .9 1.1 1.4 1.1 1.7 1.1 1.9 1 1.8 1.1 1.7 1.1 1.3 1.1 .8 1.1 .3 1.1-.3 1.1-.9 1.1-1.3 1.1-1.7 1.1-1.8 1.1-1.9 1.1-1.7 1.1-1.3 1.1-.9 1.1-.4 1.1 .2 1.1 .8 1.1 1.3 1.1 1.6 1.1 1.9 1.1 1.9 1.1 1.7 1.1 1.4 1.1 1 1.1 .4 1.1-.1 1.1-.8 1.1-1.2 1-1.6 1.1-1.8 1.1-1.9 1.1-1.8 1.1-1.5 1.1-1 1.1-.5 1.1 .1 1.1 .6 1.1 1.2 1.1 1.6 1.1 1.8 1.1 1.9 1.1 1.8 1.1 1.5 1.1 1.1 1.1 .6 1.1 0 1.1-.6 1.1-1.1 1.1-1.5 1.1-1.9 1.1-1.9 1.1-1.8 1.1-1.6 1.1-1.1 1.1-.7 1.1-.1 1.1 .6 1 1 1.1 1.5 1.1 1.8 1.1 1.9 1.1 1.9 1.1 1.6 1.1 1.2 1.1 .8 1.1 .1 1.1-.4 1.1-1 1.1-1.5 1.1-1.8 1.1-1.9 1.1-1.9 1.1-1.6 1.1-1.3 1.1-.8 1.1-.2 1.1 .3 1.1 1 1.1 1.4 1.1 1.7 1.1 1.9 1.1 1.9 1.1 1.8 1.1 1.3 1.1 .9 1.1 .3 1-.3 1.1-.9 1.1-1.4 1.1-1.7 1.1-1.9 1.1-1.9 1.1-1.8 1.1-1.4 1.1-.9 1.1-.5 1.1 .2 1.1 .8 1.1 1.3 1.1 1.7 1.1 2 1.1 2.1 1.1 1.9 1.1 1.6 1.1 1.2 1.1 .5 1.1-.1 1.1-.8 1.1-1.4 1.1-1.8 1.1-2.1 1.1-2.2 1.1-2.2 1.1-1.7 1-1.3 1.1-.7 1.1 0 1.1 .8 1.1 1.4 1.1 1.9 1.1 2.3 1.1 2.4 1.1 2.3 1.1 1.9 1.1 1.5 1.1 .8 1.1 .1 1.1-.8 1.1-1.4 1.1-2 1.1-2.4 1.1-2.5 1.1-2.5 1.1-2.2 1.1-1.6 1.1-1 1.1-.1 1.1 .6 1.1 1.5 1.1 2 1.1 2.5 1.1 2.8 1.1 2.6 1 2.4 1.1 1.8 1.1 1.2 1.1 .4 1.1-.6 1.1-1.4 1.1-2.1 1.1-2.8 1.1-3 1.1-3 1.1-2.8 1.1-2.2 1.1-1.4 1.1-.5 1.1 .5 1.1 1.5 1.1 2.3 1.1 3 1.1 3.4 1.1 3.4 1.1 3.2 1.1 2.5 1.1 1.8 1.1 .6 1.1-.4 1.1-1.5 1.1-2.5 1.1-3.3 1-3.7 1.1-3.9 1.1-3.5 1.1-2.9 1.1-2.1 1.1-.9 1.1 .4 1.1 1.5 1.1 2.7 1.1 3.5 1.1 4.1 1.1 4.2 1.1 3.9 1.1 3.4 1.1 2.3 1.1 1.2 1.1-.3 1.1-1.6" fill="none" stroke="#8c0000" stroke-width="1.25" stroke-linejoin="round"/>
<path d="M35.3 323.8l1.4 .3 1.3-7.7 1.4-4.8 1.4 13 1.4 20.2 1.3 12.7 1.4-5.2 1.4-5.6 1.3 .1 1.4-7.2 1.4-14.6 1.3 7.8 1.4 16.1 1.4-16.8 1.4-12.4 1.3 11.2 1.4-3.9 1.4-4.9 1.3 6.5 1.4 3.3 1.4 10.4 1.4 3.7 1.3-9.3 1.4 5 1.4 3 1.3-11.7 1.4-3.5 1.4 2.9 1.3 3.8 1.4 .7 1.4-9.8 1.4-1.7 1.3 5.1 1.4-8.9 1.4-2.3 1.3 18.6 1.4 11.6 1.4-8.8 1.4-6.3 1.3 8.9 1.4 1.7 1.4-13.5 1.3-3.6 1.4 9.6 1.4 2.4 1.3-10.7 1.4-6.1 1.4 9.6 1.4-1.4 1.3-14.2 1.4 7.7 1.4 12.6 1.3 1.2 1.4 9.4 1.4-3.8 1.4-11.9 1.3 10.7 1.4-4.7 1.4-15.6 1.3 15.9 1.4 5.8 1.4-17.5 1.3-2.8 1.4 2.6 1.4 3.4 1.4-.6 1.3-12.1 1.4 14.5 1.4 21.7 1.3-16.4 1.4-3.9 1.4 19.4 1.4-11.8 1.3-16.6 1.4 9.5 1.4 4.4 1.3-3.3 1.4 .7 1.4-7.6 1.4-7.2 1.3 6.3 1.4 1.2 1.4-4 1.3 11.4 1.4 8.7 1.4-6.4 1.3 1.8 1.4 4 1.4-3.3 1.4-2.8 1.3-10.6 1.4 2 1.4 18.2 1.3-15.1 1.4-16.5 1.4 20.9 1.4-4.5 1.3-21.4 1.4 16.5 1.4 15.7 1.3-.5 1.4 .4 1.4-9 1.3 4.2 1.4 11.5 1.4-15 1.4-7.2 1.3 10.7 1.4-4 1.4-3.8 1.3 1.1 1.4-6 1.4 1.2 1.4 1.6 1.3-5.6 1.4 8.2 1.4 16.2 1.3-.5 1.4-9.6 1.4 1.4 1.3 3.4 1.4-7.6 1.4-1.7 1.4 7.7 1.3-3.6 1.4-11.3 1.4-2.1 1.3 9.9 1.4 2.9 1.4-17.4 1.4-.8 1.3 25.2 1.4 2 1.4-10.5 1.3 8.8 1.4 2.2 1.4-7.3 1.3-3.9 1.4-4.8 1.4 6.9 1.4 5.7 1.3-12.1 1.4-6.8 1.4 1 1.3 4.7 1.4 6.8 1.4-11.9 1.4-.9 1.3 25.5 1.4-1.8 1.4-13.7 1.3 12.8 1.4-.5 1.4-16.1 1.3 2.5 1.4 6.7 1.4-2.3 1.4-6.7 1.3-3 1.4 6.1 1.4-4.3 1.3-11 1.4 11.6 1.4 14.9 1.4-6.2 1.3-7.7 1.4 6.8 1.4 3.8 1.3 .3 1.4 3.6 1.4 3.5 1.3 4.8 1.4 5.2 1.4 3.9 1.4-2.5 1.3-5.3 1.4-2.7 1.4-12.9 1.3-21.8 1.4-22.6 1.4-18.7 1.4-.9 1.3 15.2 1.4 16.5 1.4 12.3 1.3 9.8 1.4 6.8 1.4 4.1 1.3 2.9 1.4 1.8 1.4 1.1 1.4 1" fill="none" stroke="#ff2a2a" stroke-width="1.25" stroke-linejoin="round" stroke-dasharray="3,2"/>
<path d="M35.3 323.8l1.4 .3 1.3-7.7 1.4-4.8 1.4 13 1.4 20.2 1.3 12.7 1.4-5.4 1.4-6.9 1.3 1 1.4-5.2 1.4-9 1.3 4.8 1.4 7 1.4-9.7 1.4-8.1 1.3 5.4 1.4-6.4 1.4-6.6 1.3 7.5 1.4 5.8 1.4 6.6 1.4-.9 1.3-8.3 1.4 8.9 1.4 7.1 1.3-12.4 1.4-5.6 1.4 10 1.3 8.6 1.4-6.8 1.4-15.3 1.4-2.1 1.3 9.5 1.4-2.3 1.4-11.6 1.3 9.1 1.4 18.4 1.4-6.9 1.4-7.9 1.3 8.6 1.4 .1 1.4-2.6 1.3-2.4 1.4-2.3 1.4 12.7 1.3-1.5 1.4-19.8 1.4 .6 1.4 5.7 1.3-3.7 1.4-.1 1.4 .3 1.3 9.2 1.4 9.8 1.4-9 1.4-4.7 1.3 8.6 1.4-1.2 1.4-7.7 1.3 5.7 1.4 8.2 1.4-9.8 1.3-9 1.4 3.9 1.4-3.3 1.4-4.6 1.3 3.6 1.4 4 1.4 7 1.3 3.2 1.4-3.4 1.4-.4 1.4 0 1.3 1 1.4-1.2 1.4-1.7 1.3 8.3 1.4-3 1.4-15.6 1.4 3 1.3 5.9 1.4-10.8 1.4-4.3 1.3 15.4 1.4 11.3 1.4-10.3 1.3-3.2 1.4 11.5 1.4-4 1.4-6.1 1.3 4.5 1.4-.7 1.4 3.7 1.3 1 1.4-13.8 1.4-3.9 1.4 7.1 1.3-2.4 1.4-8.9 1.4 6.4 1.3 21.3 1.4-3.7 1.4-19.1 1.3 12.1 1.4 13.4 1.4-16.2 1.4-5.9 1.3 13.5 1.4 2 1.4-7.4 1.3-3.3 1.4-7.4 1.4-3.6 1.4 10.3 1.3-3.5 1.4-7.7 1.4 19 1.3 7.9 1.4-15.6 1.4 .7 1.3 9.4 1.4-2.1 1.4-8 1.4 1.3 1.3 13.5 1.4-6.9 1.4-16.6 1.3 7.6 1.4-1.8 1.4-11.6 1.4 12.6 1.3 6 1.4-7.2 1.4 9.6 1.3 6.3 1.4-10.2 1.4-.3 1.3 6.2 1.4-7.3 1.4 1.3 1.4 14.6 1.3-11.4 1.4-18.1 1.4 11.2 1.3 4.6 1.4-15 1.4-1.4 1.4 14.9 1.3 9.3 1.4-7.2 1.4-3.6 1.3 9.5 1.4-2.2 1.4-7.1 1.3 2.9 1.4 2.4 1.4 4.8 1.4-1.6 1.3-16.1 1.4-3.3 1.4 12.5 1.3-2.1 1.4-16.4 1.4 7 1.4 25.8 1.3-11 1.4-17 1.4 14.5 1.3 9.3 1.4 3.5 1.4 4.2 1.3 3.5 1.4 3.5 1.4 2.1 1.4-3.8 1.3-5.7 1.4-2.1 1.4-11.5 1.3-20.1 1.4-21 1.4-17.7 1.4-.9 1.3 14.2 1.4 14.9 1.4 10.6 1.3 8.4 1.4 6.2 1.4 4.5 1.3 4.2 1.4 3.5 1.4 2.8 1.4 2" fill="none" stroke="#8c0000" stroke-width="1.25" stroke-linejoin="round"/>
<path d="M35.4 301.3V380H298.5" fill="none" stroke="#666" stroke-width="0.75"/>
<path d="M35.4 303.5h2" stroke="#555" stroke-width="0.7"/>
<text x="31.5" y="306.9" font-size="9.7" text-anchor="end">4</text>
<path d="M35.4 335.5h2" stroke="#555" stroke-width="0.7"/>
<text x="31.5" y="338.9" font-size="9.7" text-anchor="end">0</text>
<path d="M35.4 367.5h2" stroke="#555" stroke-width="0.7"/>
<text x="31.5" y="370.9" font-size="9.7" text-anchor="end">−4</text>
<path d="M35.3 380v-2.2" stroke="#555" stroke-width="0.7"/>
<path d="M79.16 380v-2.2" stroke="#555" stroke-width="0.7"/>
<path d="M123.02 380v-2.2" stroke="#555" stroke-width="0.7"/>
<path d="M166.88 380v-2.2" stroke="#555" stroke-width="0.7"/>
<path d="M210.74 380v-2.2" stroke="#555" stroke-width="0.7"/>
<path d="M254.6 380v-2.2" stroke="#555" stroke-width="0.7"/>
<path d="M298.46 380v-2.2" stroke="#555" stroke-width="0.7"/>
<text transform="translate(12.5,343) rotate(-90)" font-size="9.7" text-anchor="middle">Voltage (μV)</text>
<ellipse cx="67.3" cy="368.2" rx="4.15" ry="5.6" fill="#000"/>
<ellipse cx="73.4" cy="368.2" rx="4.15" ry="5.6" fill="#000"/>
<ellipse cx="79.5" cy="368.2" rx="4.15" ry="5.6" fill="#000"/>
<circle cx="60.7" cy="368.2" r="5.8" fill="#f9b300"/>
<text x="60.7" y="371.2" font-size="8.4" text-anchor="middle" fill="#111" font-weight="bold">1</text>
<rect x="92.9" y="364.95" width="14" height="6.5" fill="#ff9a9a" fill-opacity="0.7425000000000002"/>
<path d="M92.9,368.2 h14" stroke="#ff2a2a" stroke-width="1.3" stroke-dasharray="5.8,2.4"/>
<ellipse cx="136.9" cy="368.2" rx="4.15" ry="5.6" fill="#000"/>
<ellipse cx="143.5" cy="368.2" rx="4.15" ry="5.6" fill="#000"/>
<ellipse cx="155.7" cy="368.2" rx="4.15" ry="5.6" fill="#000"/>
<circle cx="149.6" cy="368.2" r="5.8" fill="#f9b300"/>
<text x="149.6" y="371.2" font-size="8.4" text-anchor="middle" fill="#111" font-weight="bold">3</text>
<rect x="171.3" y="364.95" width="14" height="6.5" fill="#c83c3c" fill-opacity="0.81"/>
<path d="M171.3,368.2 h14" stroke="#8c0000" stroke-width="1.3"/>
<text x="158" y="399.7" font-size="9.7" text-anchor="middle" fill="#3030ff">vEOG</text>
<path d="M35.3 404.3V485.8M57.23 404.3V485.8M79.16 404.3V485.8M101.09 404.3V485.8M123.02 404.3V485.8M144.95 404.3V485.8M166.88 404.3V485.8M188.81 404.3V485.8M210.74 404.3V485.8M232.67 404.3V485.8M254.6 404.3V485.8" stroke="#3a3a3a" stroke-width="0.75" stroke-dasharray="2.1,2.1"/>
<path d="M46.27 437.5V485.8M68.19 404.3V485.8M90.12 404.3V485.8M112.05 404.3V485.8M133.99 404.3V485.8M155.91 404.3V485.8M177.84 404.3V485.8M199.77 404.3V485.8M221.7 404.3V485.8M243.63 404.3V485.8M265.56 404.3V485.8" stroke="#444" stroke-width="0.75"/>
<text x="36.4" y="409.9" font-size="9.7">2 Hz</text>
<text x="36.4" y="430.4" font-size="9.7">1 Hz</text>
<path d="M53.3 414.1l1.1-1.1 1.1-1.6 1.1-1.7 1.1-1.1 1.1-.2 1.1 .7 1.1 1.5 1.1 1.5 1.1 1 1 .1 1.1-.8 1.1-1.4 1.1-1.4 1.1-.9 1.1 0 1.1 1 1.1 1.6 1.1 1.8 1.1 1.1 1.1 .3 1.1-.8 1.1-1.4 1.1-1.5 1.1-.9 1.1-.1 1.1 .8 1.1 1.5 1.1 1.5 1.1 .9 1.1 0 1.1-1 1.1-1.6 1.1-1.7 1.1-1.2 1.1-.2 1.1 .7 1.1 1.4 1 1.4 1.1 .9 1.1 .1 1.1-.9 1.1-1.5 1.1-1.6 1.1-1 1.1 0 1.1 1 1.1 1.6 1.1 1.7 1.1 1.1 1.1 .3 1.1-.7 1.1-1.4 1.1-1.4 1.1-.9 1.1 0 1.1 .9 1.1 1.6 1.1 1.6 1.1 1 1.1 .1 1.1-.9 1.1-1.6 1.1-1.7 1.1-1.1 1.1-.2 1.1 .7 1 1.3 1.1 1.4 1.1 .9 1.1 0 1.1-1 1.1-1.6 1.1-1.6 1.1-1.1 1.1-.1 1.1 .9 1.1 1.5 1.1 1.6 1.1 1.1 1.1 .2 1.1-.7 1.1-1.4 1.1-1.4 1.1-.9 1.1 .1 1.1 1 1.1 1.6 1.1 1.7 1.1 1.1 1.1 .2 1.1-.9 1.1-1.4 1.1-1.6 1.1-1.1 1.1-.1 1 .7 1.1 1.4 1.1 1.4 1.1 .9 1.1 0 1.1-1.1 1.1-1.6 1.1-1.7 1.1-1.1 1.1-.2 1.1 .7 1.1 1.5 1.1 1.5 1.1 1 1.1 .1 1.1-.8 1.1-1.4 1.1-1.4 1.1-.9 1.1 0 1.1 1 1.1 1.6 1.1 1.8 1.1 1.1 1.1 .3 1.1-.8 1.1-1.4 1.1-1.5 1-.9 1.1-.1 1.1 .8 1.1 1.5 1.1 1.5 1.1 .9 1.1 0 1.1-1 1.1-1.6 1.1-1.7 1.1-1.2 1.1-.2 1.1 .7 1.1 1.4 1.1 1.4 1.1 .9 1.1 .1 1.1-.9 1.1-1.5 1.1-1.6 1.1-1 1.1 0 1.1 1 1.1 1.6 1.1 1.7 1.1 1.1 1.1 .3 1.1-.7 1.1-1.4 1-1.4 1.1-.9 1.1 0 1.1 .9 1.1 1.6 1.1 1.6 1.1 1 1.1 .1 1.1-.9 1.1-1.6 1.1-1.7 1.1-1.1 1.1-.2 1.1 .7 1.1 1.3 1.1 1.4 1.1 .9 1.1 0 1.1-1 1.1-1.6 1.1-1.6 1.1-1.1 1.1-.1 1.1 .9 1.1 1.5 1.1 1.6 1.1 1.1 1.1 .2 1-.7 1.1-1.4 1.1-1.4 1.1-.9 1.1 .1 1.1 1 1.1 1.6 1.1 1.7 1.1 1.1 1.1 .2 1.1-.9 1.1-1.4 1.1-1.6 1.1-1.1 1.1-.1 1.1 .7 1.1 1.4 1.1 1.4 0 3-1.1-1.4-1.1-1.4-1.1-.7-1.1 .1-1.1 1.1-1.1 1.6-1.1 1.4-1.1 .9-1.1-.2-1.1-1.1-1.1-1.7-1.1-1.6-1.1-1-1.1-.1-1.1 .9-1.1 1.4-1.1 1.4-1 .7-1.1-.2-1.1-1.1-1.1-1.6-1.1-1.5-1.1-.9-1.1 .1-1.1 1.1-1.1 1.6-1.1 1.6-1.1 1-1.1 0-1.1-.9-1.1-1.4-1.1-1.3-1.1-.7-1.1 .2-1.1 1.1-1.1 1.7-1.1 1.6-1.1 .9-1.1-.1-1.1-1-1.1-1.6-1.1-1.6-1.1-.9-1.1 0-1.1 .9-1 1.4-1.1 1.4-1.1 .7-1.1-.3-1.1-1.1-1.1-1.7-1.1-1.6-1.1-1-1.1 0-1.1 1-1.1 1.6-1.1 1.5-1.1 .9-1.1-.1-1.1-.9-1.1-1.4-1.1-1.4-1.1-.7-1.1 .2-1.1 1.2-1.1 1.7-1.1 1.6-1.1 1-1.1 0-1.1-.9-1.1-1.5-1.1-1.5-1.1-.8-1.1 .1-1 .9-1.1 1.5-1.1 1.4-1.1 .8-1.1-.3-1.1-1.1-1.1-1.8-1.1-1.6-1.1-1-1.1 0-1.1 .9-1.1 1.4-1.1 1.4-1.1 .8-1.1-.1-1.1-1-1.1-1.5-1.1-1.5-1.1-.7-1.1 .2-1.1 1.1-1.1 1.7-1.1 1.6-1.1 1.1-1.1 0-1.1-.9-1.1-1.4-1.1-1.4-1-.7-1.1 .1-1.1 1.1-1.1 1.6-1.1 1.4-1.1 .9-1.1-.2-1.1-1.1-1.1-1.7-1.1-1.6-1.1-1-1.1-.1-1.1 .9-1.1 1.4-1.1 1.4-1.1 .7-1.1-.2-1.1-1.1-1.1-1.6-1.1-1.5-1.1-.9-1.1 .1-1.1 1.1-1.1 1.6-1.1 1.6-1.1 1-1.1 0-1.1-.9-1.1-1.4-1-1.3-1.1-.7-1.1 .2-1.1 1.1-1.1 1.7-1.1 1.6-1.1 .9-1.1-.1-1.1-1-1.1-1.6-1.1-1.6-1.1-.9-1.1 0-1.1 .9-1.1 1.4-1.1 1.4-1.1 .7-1.1-.3-1.1-1.1-1.1-1.7-1.1-1.6-1.1-1-1.1 0-1.1 1-1.1 1.6-1.1 1.5-1.1 .9-1.1-.1-1.1-.9-1-1.4-1.1-1.4-1.1-.7-1.1 .2-1.1 1.2-1.1 1.7-1.1 1.6-1.1 1-1.1 0-1.1-.9-1.1-1.5-1.1-1.5-1.1-.8-1.1 .1-1.1 .9-1.1 1.5-1.1 1.4-1.1 .8-1.1-.3-1.1-1.1-1.1-1.8-1.1-1.6-1.1-1-1.1 0-1.1 .9-1.1 1.4-1.1 1.4-1.1 .8-1-.1-1.1-1-1.1-1.5-1.1-1.5-1.1-.7-1.1 .2-1.1 1.1-1.1 1.7-1.1 1.6-1.1 1.1Z" fill="#8fd0f0" fill-opacity="0.7"/>
<path d="M53.3 414.1l1.1-1.5 1.1-1.8 1.1-1.5 1.1-.6 1.1 .6 1.1 1.5 1.1 1.8 1.1 1.5 1.1 .6 1-.6 1.1-1.5 1.1-1.8 1.1-1.5 1.1-.6 1.1 .6 1.1 1.5 1.1 1.8 1.1 1.5 1.1 .6 1.1-.6 1.1-1.5 1.1-1.8 1.1-1.5 1.1-.6 1.1 .6 1.1 1.5 1.1 1.8 1.1 1.5 1.1 .6 1.1-.6 1.1-1.5 1.1-1.8 1.1-1.5 1.1-.6 1.1 .6 1.1 1.5 1.1 1.8 1 1.5 1.1 .6 1.1-.6 1.1-1.5 1.1-1.8 1.1-1.5 1.1-.6 1.1 .6 1.1 1.5 1.1 1.8 1.1 1.5 1.1 .6 1.1-.6 1.1-1.5 1.1-1.8 1.1-1.5 1.1-.6 1.1 .6 1.1 1.5 1.1 1.8 1.1 1.5 1.1 .6 1.1-.6 1.1-1.5 1.1-1.8 1.1-1.5 1.1-.6 1.1 .6 1.1 1.5 1 1.8 1.1 1.5 1.1 .6 1.1-.6 1.1-1.5 1.1-1.8 1.1-1.5 1.1-.6 1.1 .6 1.1 1.5 1.1 1.8 1.1 1.5 1.1 .6 1.1-.6 1.1-1.5 1.1-1.8 1.1-1.5 1.1-.6 1.1 .6 1.1 1.5 1.1 1.8 1.1 1.5 1.1 .6 1.1-.6 1.1-1.5 1.1-1.8 1.1-1.5 1.1-.6 1.1 .6 1 1.5 1.1 1.8 1.1 1.5 1.1 .6 1.1-.6 1.1-1.5 1.1-1.8 1.1-1.5 1.1-.6 1.1 .6 1.1 1.5 1.1 1.8 1.1 1.5 1.1 .6 1.1-.6 1.1-1.5 1.1-1.8 1.1-1.5 1.1-.6 1.1 .6 1.1 1.5 1.1 1.8 1.1 1.5 1.1 .6 1.1-.6 1.1-1.5 1.1-1.8 1.1-1.5 1-.6 1.1 .6 1.1 1.5 1.1 1.8 1.1 1.5 1.1 .6 1.1-.6 1.1-1.5 1.1-1.8 1.1-1.5 1.1-.6 1.1 .6 1.1 1.5 1.1 1.8 1.1 1.5 1.1 .6 1.1-.6 1.1-1.5 1.1-1.8 1.1-1.5 1.1-.6 1.1 .6 1.1 1.5 1.1 1.8 1.1 1.5 1.1 .6 1.1-.6 1.1-1.5 1.1-1.8 1-1.5 1.1-.6 1.1 .6 1.1 1.5 1.1 1.8 1.1 1.5 1.1 .6 1.1-.6 1.1-1.5 1.1-1.8 1.1-1.5 1.1-.6 1.1 .6 1.1 1.5 1.1 1.8 1.1 1.5 1.1 .6 1.1-.6 1.1-1.5 1.1-1.8 1.1-1.5 1.1-.6 1.1 .6 1.1 1.5 1.1 1.8 1.1 1.5 1.1 .6 1.1-.6 1-1.5 1.1-1.8 1.1-1.5 1.1-.6 1.1 .6 1.1 1.5 1.1 1.8 1.1 1.5 1.1 .6 1.1-.6 1.1-1.5 1.1-1.8 1.1-1.5 1.1-.6 1.1 .6 1.1 1.5 1.1 1.8 1.1 1.5 0 2.6-1.1-1.5-1.1-1.8-1.1-1.5-1.1-.6-1.1 .6-1.1 1.5-1.1 1.8-1.1 1.5-1.1 .6-1.1-.6-1.1-1.5-1.1-1.8-1.1-1.5-1.1-.6-1.1 .6-1.1 1.5-1.1 1.8-1 1.5-1.1 .6-1.1-.6-1.1-1.5-1.1-1.8-1.1-1.5-1.1-.6-1.1 .6-1.1 1.5-1.1 1.8-1.1 1.5-1.1 .6-1.1-.6-1.1-1.5-1.1-1.8-1.1-1.5-1.1-.6-1.1 .6-1.1 1.5-1.1 1.8-1.1 1.5-1.1 .6-1.1-.6-1.1-1.5-1.1-1.8-1.1-1.5-1.1-.6-1.1 .6-1 1.5-1.1 1.8-1.1 1.5-1.1 .6-1.1-.6-1.1-1.5-1.1-1.8-1.1-1.5-1.1-.6-1.1 .6-1.1 1.5-1.1 1.8-1.1 1.5-1.1 .6-1.1-.6-1.1-1.5-1.1-1.8-1.1-1.5-1.1-.6-1.1 .6-1.1 1.5-1.1 1.8-1.1 1.5-1.1 .6-1.1-.6-1.1-1.5-1.1-1.8-1.1-1.5-1.1-.6-1 .6-1.1 1.5-1.1 1.8-1.1 1.5-1.1 .6-1.1-.6-1.1-1.5-1.1-1.8-1.1-1.5-1.1-.6-1.1 .6-1.1 1.5-1.1 1.8-1.1 1.5-1.1 .6-1.1-.6-1.1-1.5-1.1-1.8-1.1-1.5-1.1-.6-1.1 .6-1.1 1.5-1.1 1.8-1.1 1.5-1.1 .6-1.1-.6-1.1-1.5-1.1-1.8-1-1.5-1.1-.6-1.1 .6-1.1 1.5-1.1 1.8-1.1 1.5-1.1 .6-1.1-.6-1.1-1.5-1.1-1.8-1.1-1.5-1.1-.6-1.1 .6-1.1 1.5-1.1 1.8-1.1 1.5-1.1 .6-1.1-.6-1.1-1.5-1.1-1.8-1.1-1.5-1.1-.6-1.1 .6-1.1 1.5-1.1 1.8-1.1 1.5-1.1 .6-1.1-.6-1.1-1.5-1-1.8-1.1-1.5-1.1-.6-1.1 .6-1.1 1.5-1.1 1.8-1.1 1.5-1.1 .6-1.1-.6-1.1-1.5-1.1-1.8-1.1-1.5-1.1-.6-1.1 .6-1.1 1.5-1.1 1.8-1.1 1.5-1.1 .6-1.1-.6-1.1-1.5-1.1-1.8-1.1-1.5-1.1-.6-1.1 .6-1.1 1.5-1.1 1.8-1.1 1.5-1.1 .6-1.1-.6-1-1.5-1.1-1.8-1.1-1.5-1.1-.6-1.1 .6-1.1 1.5-1.1 1.8-1.1 1.5-1.1 .6-1.1-.6-1.1-1.5-1.1-1.8-1.1-1.5-1.1-.6-1.1 .6-1.1 1.5-1.1 1.8-1.1 1.5-1.1 .6-1.1-.6-1.1-1.5-1.1-1.8-1.1-1.5-1.1-.6-1.1 .6-1.1 1.5-1.1 1.8-1.1 1.5-1 .6-1.1-.6-1.1-1.5-1.1-1.8-1.1-1.5-1.1-.6-1.1 .6-1.1 1.5-1.1 1.8-1.1 1.5Z" fill="#4a62b0" fill-opacity="0.6"/>
<path d="M53.3 432.7l1.1 1.2 1.1 1.2 1.1 1 1.1 .8 1.1 .4 1.1 .1 1.1-.4 1.1-.7 1.1-1 1-1.2 1.1-1.2 1.1-1.2 1.1-1 1.1-.8 1.1-.4 1.1-.1 1.1 .4 1.1 .7 1.1 1 1.1 1.2 1.1 1.2 1.1 1.2 1.1 1 1.1 .8 1.1 .4 1.1 .1 1.1-.4 1.1-.7 1.1-1 1.1-1.2 1.1-1.2 1.1-1.2 1.1-1 1.1-.8 1.1-.4 1.1-.1 1.1 .4 1 .7 1.1 1 1.1 1.2 1.1 1.2 1.1 1.2 1.1 1 1.1 .8 1.1 .4 1.1 .1 1.1-.4 1.1-.7 1.1-1 1.1-1.2 1.1-1.2 1.1-1.2 1.1-1 1.1-.8 1.1-.4 1.1-.1 1.1 .4 1.1 .7 1.1 1 1.1 1.2 1.1 1.2 1.1 1.2 1.1 1 1.1 .8 1.1 .4 1.1 .1 1-.4 1.1-.7 1.1-1 1.1-1.2 1.1-1.2 1.1-1.2 1.1-1 1.1-.8 1.1-.4 1.1-.1 1.1 .4 1.1 .7 1.1 1 1.1 1.2 1.1 1.2 1.1 1.2 1.1 1 1.1 .8 1.1 .4 1.1 .1 1.1-.4 1.1-.7 1.1-1 1.1-1.2 1.1-1.2 1.1-1.2 1.1-1 1.1-.8 1.1-.4 1-.1 1.1 .4 1.1 .7 1.1 1 1.1 1.2 1.1 1.2 1.1 1.2 1.1 1 1.1 .8 1.1 .4 1.1 .1 1.1-.4 1.1-.7 1.1-1 1.1-1.2 1.1-1.2 1.1-1.2 1.1-1 1.1-.8 1.1-.4 1.1-.1 1.1 .4 1.1 .7 1.1 1 1.1 1.2 1.1 1.2 1.1 1.2 1.1 1 1 .8 1.1 .4 1.1 .1 1.1-.4 1.1-.7 1.1-1 1.1-1.2 1.1-1.2 1.1-1.2 1.1-1 1.1-.8 1.1-.4 1.1-.1 1.1 .4 1.1 .7 1.1 1 1.1 1.2 1.1 1.2 1.1 1.2 1.1 1 1.1 .8 1.1 .4 1.1 .1 1.1-.4 1.1-.7 1.1-1 1.1-1.2 1.1-1.2 1.1-1.2 1-1 1.1-.8 1.1-.4 1.1-.1 1.1 .4 1.1 .7 1.1 1 1.1 1.2 1.1 1.2 1.1 1.2 1.1 1 1.1 .8 1.1 .4 1.1 .1 1.1-.4 1.1-.7 1.1-1 1.1-1.2 1.1-1.2 1.1-1.2 1.1-1 1.1-.8 1.1-.4 1.1-.1 1.1 .4 1.1 .7 1.1 1 1.1 1.2 1 1.2 1.1 1.2 1.1 1 1.1 .8 1.1 .4 1.1 .1 1.1-.4 1.1-.7 1.1-1 1.1-1.2 1.1-1.2 1.1-1.2 1.1-1 1.1-.8 1.1-.4 1.1-.1 1.1 .4 1.1 .7 0 5.2-1.1-.7-1.1-.4-1.1 .1-1.1 .4-1.1 .8-1.1 1-1.1 1.2-1.1 1.2-1.1 1.2-1.1 1-1.1 .7-1.1 .4-1.1-.1-1.1-.4-1.1-.8-1.1-1-1.1-1.2-1-1.2-1.1-1.2-1.1-1-1.1-.7-1.1-.4-1.1 .1-1.1 .4-1.1 .8-1.1 1-1.1 1.2-1.1 1.2-1.1 1.2-1.1 1-1.1 .7-1.1 .4-1.1-.1-1.1-.4-1.1-.8-1.1-1-1.1-1.2-1.1-1.2-1.1-1.2-1.1-1-1.1-.7-1.1-.4-1.1 .1-1.1 .4-1.1 .8-1 1-1.1 1.2-1.1 1.2-1.1 1.2-1.1 1-1.1 .7-1.1 .4-1.1-.1-1.1-.4-1.1-.8-1.1-1-1.1-1.2-1.1-1.2-1.1-1.2-1.1-1-1.1-.7-1.1-.4-1.1 .1-1.1 .4-1.1 .8-1.1 1-1.1 1.2-1.1 1.2-1.1 1.2-1.1 1-1.1 .7-1.1 .4-1.1-.1-1.1-.4-1-.8-1.1-1-1.1-1.2-1.1-1.2-1.1-1.2-1.1-1-1.1-.7-1.1-.4-1.1 .1-1.1 .4-1.1 .8-1.1 1-1.1 1.2-1.1 1.2-1.1 1.2-1.1 1-1.1 .7-1.1 .4-1.1-.1-1.1-.4-1.1-.8-1.1-1-1.1-1.2-1.1-1.2-1.1-1.2-1.1-1-1.1-.7-1.1-.4-1 .1-1.1 .4-1.1 .8-1.1 1-1.1 1.2-1.1 1.2-1.1 1.2-1.1 1-1.1 .7-1.1 .4-1.1-.1-1.1-.4-1.1-.8-1.1-1-1.1-1.2-1.1-1.2-1.1-1.2-1.1-1-1.1-.7-1.1-.4-1.1 .1-1.1 .4-1.1 .8-1.1 1-1.1 1.2-1.1 1.2-1.1 1.2-1.1 1-1.1 .7-1 .4-1.1-.1-1.1-.4-1.1-.8-1.1-1-1.1-1.2-1.1-1.2-1.1-1.2-1.1-1-1.1-.7-1.1-.4-1.1 .1-1.1 .4-1.1 .8-1.1 1-1.1 1.2-1.1 1.2-1.1 1.2-1.1 1-1.1 .7-1.1 .4-1.1-.1-1.1-.4-1.1-.8-1.1-1-1.1-1.2-1.1-1.2-1.1-1.2-1.1-1-1-.7-1.1-.4-1.1 .1-1.1 .4-1.1 .8-1.1 1-1.1 1.2-1.1 1.2-1.1 1.2-1.1 1-1.1 .7-1.1 .4-1.1-.1-1.1-.4-1.1-.8-1.1-1-1.1-1.2-1.1-1.2-1.1-1.2-1.1-1-1.1-.7-1.1-.4-1.1 .1-1.1 .4-1.1 .8-1.1 1-1.1 1.2-1.1 1.2-1 1.2-1.1 1-1.1 .7-1.1 .4-1.1-.1-1.1-.4-1.1-.8-1.1-1-1.1-1.2-1.1-1.2Z" fill="#8fd0f0" fill-opacity="0.7"/>
<path d="M53.3 432.4l1.1-1.2 1.1-.9 1.1-.4 1.1 0 1.1 .4 1.1 .8 1.1 1.2 1.1 1.4 1.1 1.6 1 1.5 1.1 1.3 1.1 1 1.1 .6 1.1 .2 1.1-.3 1.1-.8 1.1-1.2 1.1-1.5 1.1-1.6 1.1-1.6 1.1-1.5 1.1-1.2 1.1-.7 1.1-.3 1.1 .2 1.1 .7 1.1 1.2 1.1 1.5 1.1 1.7 1.1 1.7 1.1 1.6 1.1 1.4 1.1 .9 1.1 .4 1.1-.1 1.1-.6 1.1-1.1 1-1.6 1.1-1.7 1.1-1.9 1.1-1.7 1.1-1.5 1.1-1.1 1.1-.6 1.1 0 1.1 .5 1.1 1.1 1.1 1.5 1.1 1.8 1.1 1.9 1.1 1.9 1.1 1.7 1.1 1.3 1.1 .7 1.1 .2 1.1-.4 1.1-1 1.1-1.5 1.1-1.8 1.1-2.1 1.1-2 1.1-1.8 1.1-1.4 1.1-1 1.1-.3 1.1 .2 1 .9 1.1 1.5 1.1 1.8 1.1 2.1 1.1 2.2 1.1 1.9 1.1 1.7 1.1 1.1 1.1 .5 1.1-.1 1.1-.8 1.1-1.4 1.1-1.8 1.1-2.2 1.1-2.2 1.1-2.1 1.1-1.9 1.1-1.3 1.1-.7 1.1 0 1.1 .6 1.1 1.3 1.1 1.9 1.1 2.1 1.1 2.4 1.1 2.3 1.1 2 1.1 1.5 1.1 .9 1 .2 1.1-.5 1.1-1.2 1.1-1.8 1.1-2.2 1.1-2.4 1.1-2.4 1.1-2.2 1.1-1.7 1.1-1.2 1.1-.4 1.1 .4 1.1 1.1 1.1 1.7 1.1 2.2 1.1 2.5 1.1 2.5 1.1 2.4 1.1 1.9 1.1 1.3 1.1 .7 1.1-.2 1.1-.9 1.1-1.7 1.1-2.2 1.1-2.5 1.1-2.7 1.1-2.5 1-2.1 1.1-1.6 1.1-.8 1.1 0 1.1 .7 1.1 1.6 1.1 2.1 1.1 2.6 1.1 2.7 1.1 2.7 1.1 2.3 1.1 1.8 1.1 1.1 1.1 .2 1.1-.6 1.1-1.4 1.1-2.1 1.1-2.5 1.1-2.9 1.1-2.8 1.1-2.5 1.1-2 1.1-1.2 1.1-.5 1.1 .5 1.1 1.2 1.1 2 1.1 2.5 1.1 2.8 1 2.9 1.1 2.6 1.1 2.1 1.1 1.5 1.1 .6 1.1-.2 1.1-1 1.1-1.9 1.1-2.4 1.1-2.7 1.1-2.9 1.1-2.7 1.1-2.3 1.1-1.6 1.1-.9 1.1 0 1.1 .9 1.1 1.6 1.1 2.3 1.1 2.7 1.1 2.9 1.1 2.7 1.1 2.4 1.1 1.9 1.1 1 1.1 .2 1.1-.6 1.1-1.5 1-2.1 1.1-2.6 1.1-2.9 1.1-2.8 1.1-2.5 1.1-2 1.1-1.2 1.1-.5 1.1 .4 1.1 1.5 1.1 2.6 1.1 3.2 1.1 3.4 1.1 3.4 1.1 3.2 1.1 2.8 1.1 2 1.1 1.3 0 4-1.1-1.3-1.1-2-1.1-2.8-1.1-3.2-1.1-3.4-1.1-3.4-1.1-3.2-1.1-2.6-1.1-1.5-1.1-.4-1.1 .5-1.1 1.2-1.1 2-1.1 2.5-1.1 2.8-1.1 2.9-1.1 2.6-1 2.1-1.1 1.5-1.1 .6-1.1-.2-1.1-1-1.1-1.9-1.1-2.4-1.1-2.7-1.1-2.9-1.1-2.7-1.1-2.3-1.1-1.6-1.1-.9-1.1 0-1.1 .9-1.1 1.6-1.1 2.3-1.1 2.7-1.1 2.9-1.1 2.7-1.1 2.4-1.1 1.9-1.1 1-1.1 .2-1.1-.6-1.1-1.5-1.1-2.1-1.1-2.6-1-2.9-1.1-2.8-1.1-2.5-1.1-2-1.1-1.2-1.1-.5-1.1 .5-1.1 1.2-1.1 2-1.1 2.5-1.1 2.8-1.1 2.9-1.1 2.5-1.1 2.1-1.1 1.4-1.1 .6-1.1-.2-1.1-1.1-1.1-1.8-1.1-2.3-1.1-2.7-1.1-2.7-1.1-2.6-1.1-2.1-1.1-1.6-1.1-.7-1.1 0-1.1 .8-1.1 1.6-1 2.1-1.1 2.5-1.1 2.7-1.1 2.5-1.1 2.2-1.1 1.7-1.1 .9-1.1 .2-1.1-.7-1.1-1.3-1.1-1.9-1.1-2.4-1.1-2.5-1.1-2.5-1.1-2.2-1.1-1.7-1.1-1.1-1.1-.4-1.1 .4-1.1 1.2-1.1 1.7-1.1 2.2-1.1 2.4-1.1 2.4-1.1 2.2-1.1 1.8-1.1 1.2-1.1 .5-1-.2-1.1-.9-1.1-1.5-1.1-2-1.1-2.3-1.1-2.4-1.1-2.1-1.1-1.9-1.1-1.3-1.1-.6-1.1 0-1.1 .7-1.1 1.3-1.1 1.9-1.1 2.1-1.1 2.2-1.1 2.2-1.1 1.8-1.1 1.4-1.1 .8-1.1 .1-1.1-.5-1.1-1.1-1.1-1.7-1.1-1.9-1.1-2.2-1.1-2.1-1.1-1.8-1.1-1.5-1-.9-1.1-.2-1.1 .3-1.1 1-1.1 1.4-1.1 1.8-1.1 2-1.1 2.1-1.1 1.8-1.1 1.5-1.1 1-1.1 .4-1.1-.2-1.1-.7-1.1-1.3-1.1-1.7-1.1-1.9-1.1-1.9-1.1-1.8-1.1-1.5-1.1-1.1-1.1-.5-1.1 0-1.1 .6-1.1 1.1-1.1 1.5-1.1 1.7-1.1 1.9-1.1 1.7-1 1.6-1.1 1.1-1.1 .6-1.1 .1-1.1-.4-1.1-.9-1.1-1.4-1.1-1.6-1.1-1.7-1.1-1.7-1.1-1.5-1.1-1.2-1.1-.7-1.1-.2-1.1 .3-1.1 .7-1.1 1.2-1.1 1.5-1.1 1.6-1.1 1.6-1.1 1.5-1.1 1.2-1.1 .8-1.1 .3-1.1-.2-1.1-.6-1.1-1-1.1-1.3-1-1.5-1.1-1.6-1.1-1.4-1.1-1.2-1.1-.8-1.1-.4-1.1 0-1.1 .4-1.1 .9-1.1 1.2Z" fill="#4a62b0" fill-opacity="0.6"/>
<path d="M35.3 463.5l1.4-2.4 1.3-.6 1.4 2.4 1.4 2.8 1.4 2.3 1.3 2.1 1.4 1.2 1.4-2 1.3-5.1 1.4-5.2 1.4-2.3 1.3 1.8 1.4 1.6 1.4 .5 1.4 4 1.3 3 1.4-3.3 1.4-3.4 1.3 3.6 1.4 5.5 1.4-.1 1.4-3.7 1.3-3.1 1.4-2.5 1.4-2.1 1.3-.5 1.4 .6 1.4 .7 1.3 1.5 1.4 2.5 1.4 1.1 1.4-1.1 1.3-.2 1.4 1.9 1.4 1.5 1.3 .4 1.4 1.5 1.4 .2 1.4-4.2 1.3-5.6 1.4-2 1.4 1.4 1.3 2 1.4 .8 1.4 .2 1.3 .7 1.4 .3 1.4-.2 1.4 2.4 1.3 4.2 1.4-.2 1.4-3.6 1.3 .1 1.4 2.3 1.4-1.7 1.4-3.9 1.3-2.5 1.4-2 1.4 .1 1.3 3.1 1.4 1.7 1.4-.4 1.3 1.5 1.4 1.5 1.4-.4 1.4 1.2 1.3 1.4 1.4-1.3 1.4 1.3 1.3 3.3 1.4-4.7 1.4-9.1 1.4 .4 1.3 5.8 1.4-1.3 1.4-4.1 1.3 1.7 1.4 3.5 1.4 1.1 1.4 1.5 1.3 1.6 1.4-.2 1.4-1 1.3-.9 1.4 .5 1.4 3 1.3 .9 1.4-5.8 1.4-6.6 1.4-.6 1.3 1.5 1.4 .6 1.4 3.9 1.3 5.3 1.4-1.5 1.4-5.1 1.4 1 1.3 4.3 1.4 .6 1.4 .5 1.3 2.9 1.4-1.6 1.4-5.8 1.3-2.1 1.4-.6 1.4-3.7 1.4-.1 1.3 6.1 1.4 2.8 1.4-2.3 1.3-.7 1.4 .1 1.4 .2 1.4 4.4 1.3 3.8 1.4-3.3 1.4-2.3 1.3 3 1.4-1.9 1.4-7.1 1.3-1.6 1.4 2.1 1.4 0 1.4 1.5 1.3 2.2 1.4-2.7 1.4-.9 1.3 5.8 1.4 2.9 1.4-2.9 1.4 .3 1.3 2.7 1.4-1.5 1.4-2.3 1.3 .6 1.4-1.4 1.4-4.3 1.3-2.4 1.4 .4 1.4 1.9 1.4 3.3 1.3 1.4 1.4-1.8 1.4 .4 1.3 3.3 1.4 .7 1.4-1.1 1.4 2.3 1.3 1.5 1.4-4.7 1.4-3.8 1.3 2.7 1.4 .9 1.4-6.3 1.3-3.8 1.4 3.6 1.4 3.7 1.4 1.4 1.3 3.1 1.4 1 1.4-3.9 1.3-1.6 1.4 4.1 1.4 3.1 1.4-1.6 1.3-14.4 1.4 2.2 1.4 3.3 1.3 3.5 1.4 2.9 1.4 1.9 1.3 3.2 1.4 6.2 1.4 7.3 1.4 4.2 1.3 .2 1.4 .1 1.4-.9 1.3-7.3 1.4-16.1 1.4-18.8 1.4-16.5 1.3-5.4 1.4 4.2 1.4 5.3 1.3 4.9 1.4 4.9 1.4 4.8 1.3 4.6 1.4 4.6 1.4 4.5 1.4 3.5 0 15.2-1.4-3.5-1.4-4.5-1.4-4.6-1.3-4.7-1.4-4.8-1.4-4.8-1.3-5-1.4-5.3-1.4-4.1-1.3 5.3-1.4 16.6-1.4 18.8-1.4 16.1-1.3 7.3-1.4 .9-1.4-.2-1.3-.1-1.4-4.3-1.4-7.3-1.4-6.5-1.3-3.9-1.4-3.7-1.4-5.1-1.3-5-1.4-3.9-1.4-2.4-1.3 14.4-1.4 1.5-1.4-3.1-1.4-4-1.3 1.6-1.4 3.8-1.4-1-1.3-3-1.4-1.5-1.4-3.7-1.4-3.6-1.3 3.8-1.4 6.3-1.4-.8-1.3-2.8-1.4 3.9-1.4 4.6-1.3-1.5-1.4-2.3-1.4 1.1-1.4-.6-1.3-3.4-1.4-.4-1.4 1.8-1.3-1.4-1.4-3.3-1.4-1.9-1.4-.4-1.3 2.4-1.4 4.3-1.4 1.5-1.3-.7-1.4 2.3-1.4 1.6-1.3-2.8-1.4-.3-1.4 2.9-1.4-2.9-1.3-5.8-1.4 1-1.4 2.6-1.3-2.2-1.4-1.5-1.4 0-1.4-2.1-1.3 1.7-1.4 7-1.4 1.9-1.3-3-1.4 2.4-1.4 3.3-1.3-3.8-1.4-4.5-1.4-.2-1.4-.1-1.3 .7-1.4 2.3-1.4-2.8-1.3-6.1-1.4 .1-1.4 3.8-1.4 .5-1.3 2.1-1.4 5.8-1.4 1.6-1.3-2.9-1.4-.4-1.4-.6-1.3-4.4-1.4-1-1.4 5.2-1.4 1.5-1.3-5.4-1.4-3.9-1.4-.6-1.3-1.5-1.4 .6-1.4 6.6-1.4 5.8-1.3-.9-1.4-3-1.4-.5-1.3 .9-1.4 1-1.4 .2-1.3-1.6-1.4-1.5-1.4-1.1-1.4-3.5-1.3-1.7-1.4 4.1-1.4 1.3-1.3-5.8-1.4-.4-1.4 9.1-1.4 4.8-1.3-3.4-1.4-1.3-1.4 1.3-1.3-1.4-1.4-1.2-1.4 .4-1.4-1.5-1.3-1.4-1.4 .3-1.4-1.7-1.3-3.1-1.4-.1-1.4 2-1.3 2.5-1.4 3.9-1.4 1.8-1.4-2.4-1.3-.1-1.4 3.6-1.4 .2-1.3-4.2-1.4-2.4-1.4 .2-1.4-.3-1.3-.7-1.4-.2-1.4-.8-1.3-2-1.4-1.4-1.4 2-1.3 5.6-1.4 4.2-1.4-.2-1.4-1.5-1.3-.4-1.4-1.4-1.4-2-1.3 .3-1.4 1.1-1.4-1.2-1.4-2.5-1.3-1.5-1.4-.6-1.4-.6-1.3 .4-1.4 2.1-1.4 2.5-1.3 3.1-1.4 3.8-1.4 0-1.4-5.5-1.3-3.6-1.4 3.4-1.4 3.3-1.3-3-1.4-4-1.4-.4-1.4-1.7-1.3-1.7-1.4 2.2-1.4 5.3-1.3 5-1.4 2-1.4-1.2-1.3-2-1.4-2.4-1.4-2.8-1.4-2.4-1.3 .6-1.4 2.5Z" fill="#8fd0f0" fill-opacity="0.7"/>
<path d="M35.3 464.6l1.4-2.4 1.3-.7 1.4 2.4 1.4 2.8 1.4 2.4 1.3 2 1.4 1.2 1.4-.9 1.3-2 1.4-1.6 1.4 1 1.3 .9 1.4-.3 1.4 1 1.4-1 1.3-5.9 1.4-1.9 1.4 1.4 1.3-3.5 1.4-4.4 1.4 2.3 1.4 5.7 1.3 5.2 1.4 4.5 1.4 .7 1.3-3.1 1.4-1.1 1.4 1.7 1.3 .6 1.4-1.2 1.4-1.7 1.4-2.1 1.3-2.8 1.4-4.7 1.4-4.2 1.3 1.1 1.4 5.3 1.4 4.1 1.4 3.2 1.3 2.6 1.4-.9 1.4-1.7 1.3 2.5 1.4 2.5 1.4-.8 1.3-1.7 1.4-3.5 1.4-5.1 1.4-.6 1.3 .8 1.4-5 1.4-2.8 1.3 6.6 1.4 5.1 1.4-1.5 1.4 2.3 1.3 5.8 1.4-.2 1.4-1.8 1.3 1.9 1.4-1 1.4-5.3 1.3-1.4 1.4 2.4 1.4-1.4 1.4-6.3 1.3-5.3 1.4 .6 1.4 5.3 1.3 4.4 1.4 2.2 1.4 3.3 1.4 2 1.3-1.7 1.4-.3 1.4 1.4 1.3-1.4 1.4-1.3 1.4 1 1.4-2.8 1.3-6.3 1.4-3 1.4-1.6 1.3-.8 1.4 6 1.4 7.3 1.3-1.8 1.4-2.8 1.4 5.4 1.4 4.6 1.3-1.7 1.4-.6 1.4-.3 1.3-3.4 1.4-1.4 1.4 0 1.4-5.1 1.3-4.8 1.4 1.7 1.4 1.9 1.3-.7 1.4 1.9 1.4 3.6 1.3 2.8 1.4 4.3 1.4 2.9 1.4-3 1.3-3.3 1.4 .5 1.4-.6 1.3-1.7 1.4 .5 1.4-2.3 1.4-8.1 1.3-4.2 1.4 5.1 1.4 5.6 1.3-.9 1.4 .2 1.4 7.2 1.3 5.4 1.4-4.1 1.4-4.5 1.4 3.4 1.3 2.9 1.4-3 1.4-1.8 1.3-2 1.4-7.4 1.4-3.9 1.4 4.5 1.3 1.7 1.4-2.2 1.4 3.6 1.3 4.2 1.4-1 1.4 3.7 1.3 6.7 1.4-3.3 1.4-5.5 1.4 3.9 1.3 1.3 1.4-7.8 1.4-3.2 1.3 1.8 1.4-3.2 1.4-2.4 1.4 2.7 1.3-1.3 1.4-2.1 1.4 7.5 1.3 9.1 1.4 0 1.4-2.8 1.3-.4 1.4-.8 1.4-.2 1.4 1.1 1.3-2.2 1.4-4.4 1.4-2 1.3-2.1 1.4-3.1 1.4-.1 1.4 2.2 1.3-8.3 1.4 7.4 1.4 6.9 1.3 2.1 1.4 .2 1.4 .6 1.3 2.8 1.4 6.4 1.4 7.6 1.4 4.5 1.3 .2 1.4 .1 1.4-.9 1.3-7.7 1.4-17 1.4-19.7 1.4-17.5 1.3-5.6 1.4 4.3 1.4 5.6 1.3 5.2 1.4 5.2 1.4 5 1.3 4.9 1.4 4.8 1.4 4.8 1.4 3.6 0 19-1.4-3.6-1.4-4.8-1.4-4.8-1.3-4.9-1.4-5-1.4-5.1-1.3-5.3-1.4-5.6-1.4-4.3-1.3 5.6-1.4 17.5-1.4 19.8-1.4 16.9-1.3 7.7-1.4 .9-1.4-.1-1.3-.2-1.4-4.5-1.4-7.8-1.4-6.8-1.3-4.1-1.4-3.7-1.4-4.3-1.3-4.7-1.4-8-1.4-7.8-1.3 8.1-1.4-2.2-1.4 .1-1.4 3.2-1.3 2-1.4 2.1-1.4 4.3-1.3 2.2-1.4-1.1-1.4 .2-1.4 .8-1.3 .4-1.4 2.8-1.4 0-1.3-9.1-1.4-7.5-1.4 2.1-1.3 1.3-1.4-2.7-1.4 2.4-1.4 3.2-1.3-1.8-1.4 3.3-1.4 7.7-1.3-1.3-1.4-3.9-1.4 5.5-1.4 3.3-1.3-6.7-1.4-3.7-1.4 1-1.3-4.2-1.4-3.6-1.4 2.2-1.3-1.7-1.4-4.5-1.4 3.9-1.4 7.4-1.3 2-1.4 1.9-1.4 2.9-1.3-2.9-1.4-3.4-1.4 4.5-1.4 4.2-1.3-5.5-1.4-7.2-1.4-.1-1.3 .8-1.4-5.5-1.4-5.2-1.3 4.3-1.4 8-1.4 2.4-1.4-.5-1.3 1.6-1.4 .6-1.4-.4-1.3 3.3-1.4 3-1.4-2.9-1.4-4.4-1.3-2.7-1.4-3.6-1.4-2-1.3 .8-1.4-1.9-1.4-1.8-1.3 4.8-1.4 5.2-1.4 0-1.4 1.3-1.3 3.4-1.4 .3-1.4 .7-1.3 1.6-1.4-4.5-1.4-5.5-1.4 2.8-1.3 1.8-1.4-7.3-1.4-6-1.3 .9-1.4 1.5-1.4 3-1.3 6.3-1.4 2.8-1.4-1-1.4 1.3-1.3 1.4-1.4-1.4-1.4 .4-1.3 1.6-1.4-1.9-1.4-3.3-1.4-2.3-1.3-4.3-1.4-5.4-1.4-.5-1.3 5.3-1.4 6.2-1.4 1.5-1.4-2.4-1.3 1.3-1.4 5.3-1.4 1-1.3-1.9-1.4 1.9-1.4 .1-1.3-5.7-1.4-2.4-1.4 1.5-1.4-5.1-1.3-6.6-1.4 2.9-1.4 4.9-1.3-.8-1.4 .7-1.4 5-1.4 3.5-1.3 1.7-1.4 .9-1.4-2.6-1.3-2.4-1.4 1.6-1.4 1-1.3-2.7-1.4-3.2-1.4-4.1-1.4-5.3-1.3-1.1-1.4 4.3-1.4 4.6-1.3 2.8-1.4 2.1-1.4 1.8-1.4 1.1-1.3-.6-1.4-1.7-1.4 1.1-1.3 3.2-1.4-.7-1.4-4.6-1.3-5.2-1.4-5.6-1.4-2.3-1.4 4.3-1.3 3.5-1.4-1.3-1.4 1.9-1.3 5.8-1.4 1.1-1.4-1.1-1.4 .4-1.3-1-1.4-.9-1.4 1.5-1.3 2-1.4 .9-1.4-1.2-1.3-2-1.4-2.3-1.4-2.8-1.4-2.4-1.3 .6-1.4 2.4Z" fill="#4a62b0" fill-opacity="0.6"/>
<path d="M53.3 415.6l1.1-1.1 1.1-1.6 1.1-1.7 1.1-1.1 1.1-.2 1.1 .7 1.1 1.5 1.1 1.5 1.1 1 1 .1 1.1-.8 1.1-1.4 1.1-1.4 1.1-.9 1.1 0 1.1 1 1.1 1.6 1.1 1.8 1.1 1.1 1.1 .3 1.1-.8 1.1-1.4 1.1-1.5 1.1-.9 1.1-.1 1.1 .8 1.1 1.5 1.1 1.5 1.1 .9 1.1 0 1.1-1 1.1-1.6 1.1-1.7 1.1-1.2 1.1-.2 1.1 .7 1.1 1.4 1 1.4 1.1 .9 1.1 .1 1.1-.9 1.1-1.5 1.1-1.6 1.1-1 1.1 0 1.1 1 1.1 1.6 1.1 1.7 1.1 1.1 1.1 .3 1.1-.7 1.1-1.4 1.1-1.4 1.1-.9 1.1 0 1.1 .9 1.1 1.6 1.1 1.6 1.1 1 1.1 .1 1.1-.9 1.1-1.6 1.1-1.7 1.1-1.1 1.1-.2 1.1 .7 1 1.3 1.1 1.4 1.1 .9 1.1 0 1.1-1 1.1-1.6 1.1-1.6 1.1-1.1 1.1-.1 1.1 .9 1.1 1.5 1.1 1.6 1.1 1.1 1.1 .2 1.1-.7 1.1-1.4 1.1-1.4 1.1-.9 1.1 .1 1.1 1 1.1 1.6 1.1 1.7 1.1 1.1 1.1 .2 1.1-.9 1.1-1.4 1.1-1.6 1.1-1.1 1.1-.1 1 .7 1.1 1.4 1.1 1.4 1.1 .9 1.1 0 1.1-1.1 1.1-1.6 1.1-1.7 1.1-1.1 1.1-.2 1.1 .7 1.1 1.5 1.1 1.5 1.1 1 1.1 .1 1.1-.8 1.1-1.4 1.1-1.4 1.1-.9 1.1 0 1.1 1 1.1 1.6 1.1 1.8 1.1 1.1 1.1 .3 1.1-.8 1.1-1.4 1.1-1.5 1-.9 1.1-.1 1.1 .8 1.1 1.5 1.1 1.5 1.1 .9 1.1 0 1.1-1 1.1-1.6 1.1-1.7 1.1-1.2 1.1-.2 1.1 .7 1.1 1.4 1.1 1.4 1.1 .9 1.1 .1 1.1-.9 1.1-1.5 1.1-1.6 1.1-1 1.1 0 1.1 1 1.1 1.6 1.1 1.7 1.1 1.1 1.1 .3 1.1-.7 1.1-1.4 1-1.4 1.1-.9 1.1 0 1.1 .9 1.1 1.6 1.1 1.6 1.1 1 1.1 .1 1.1-.9 1.1-1.6 1.1-1.7 1.1-1.1 1.1-.2 1.1 .7 1.1 1.3 1.1 1.4 1.1 .9 1.1 0 1.1-1 1.1-1.6 1.1-1.6 1.1-1.1 1.1-.1 1.1 .9 1.1 1.5 1.1 1.6 1.1 1.1 1.1 .2 1-.7 1.1-1.4 1.1-1.4 1.1-.9 1.1 .1 1.1 1 1.1 1.6 1.1 1.7 1.1 1.1 1.1 .2 1.1-.9 1.1-1.4 1.1-1.6 1.1-1.1 1.1-.1 1.1 .7 1.1 1.4 1.1 1.4" fill="none" stroke="#3f6cff" stroke-width="1.25" stroke-linejoin="round" stroke-dasharray="3,2"/>
<path d="M53.3 415.4l1.1-1.5 1.1-1.8 1.1-1.5 1.1-.6 1.1 .6 1.1 1.5 1.1 1.8 1.1 1.5 1.1 .6 1-.6 1.1-1.5 1.1-1.8 1.1-1.5 1.1-.6 1.1 .6 1.1 1.5 1.1 1.8 1.1 1.5 1.1 .6 1.1-.6 1.1-1.5 1.1-1.8 1.1-1.5 1.1-.6 1.1 .6 1.1 1.5 1.1 1.8 1.1 1.5 1.1 .6 1.1-.6 1.1-1.5 1.1-1.8 1.1-1.5 1.1-.6 1.1 .6 1.1 1.5 1.1 1.8 1 1.5 1.1 .6 1.1-.6 1.1-1.5 1.1-1.8 1.1-1.5 1.1-.6 1.1 .6 1.1 1.5 1.1 1.8 1.1 1.5 1.1 .6 1.1-.6 1.1-1.5 1.1-1.8 1.1-1.5 1.1-.6 1.1 .6 1.1 1.5 1.1 1.8 1.1 1.5 1.1 .6 1.1-.6 1.1-1.5 1.1-1.8 1.1-1.5 1.1-.6 1.1 .6 1.1 1.5 1 1.8 1.1 1.5 1.1 .6 1.1-.6 1.1-1.5 1.1-1.8 1.1-1.5 1.1-.6 1.1 .6 1.1 1.5 1.1 1.8 1.1 1.5 1.1 .6 1.1-.6 1.1-1.5 1.1-1.8 1.1-1.5 1.1-.6 1.1 .6 1.1 1.5 1.1 1.8 1.1 1.5 1.1 .6 1.1-.6 1.1-1.5 1.1-1.8 1.1-1.5 1.1-.6 1.1 .6 1 1.5 1.1 1.8 1.1 1.5 1.1 .6 1.1-.6 1.1-1.5 1.1-1.8 1.1-1.5 1.1-.6 1.1 .6 1.1 1.5 1.1 1.8 1.1 1.5 1.1 .6 1.1-.6 1.1-1.5 1.1-1.8 1.1-1.5 1.1-.6 1.1 .6 1.1 1.5 1.1 1.8 1.1 1.5 1.1 .6 1.1-.6 1.1-1.5 1.1-1.8 1.1-1.5 1-.6 1.1 .6 1.1 1.5 1.1 1.8 1.1 1.5 1.1 .6 1.1-.6 1.1-1.5 1.1-1.8 1.1-1.5 1.1-.6 1.1 .6 1.1 1.5 1.1 1.8 1.1 1.5 1.1 .6 1.1-.6 1.1-1.5 1.1-1.8 1.1-1.5 1.1-.6 1.1 .6 1.1 1.5 1.1 1.8 1.1 1.5 1.1 .6 1.1-.6 1.1-1.5 1.1-1.8 1-1.5 1.1-.6 1.1 .6 1.1 1.5 1.1 1.8 1.1 1.5 1.1 .6 1.1-.6 1.1-1.5 1.1-1.8 1.1-1.5 1.1-.6 1.1 .6 1.1 1.5 1.1 1.8 1.1 1.5 1.1 .6 1.1-.6 1.1-1.5 1.1-1.8 1.1-1.5 1.1-.6 1.1 .6 1.1 1.5 1.1 1.8 1.1 1.5 1.1 .6 1.1-.6 1-1.5 1.1-1.8 1.1-1.5 1.1-.6 1.1 .6 1.1 1.5 1.1 1.8 1.1 1.5 1.1 .6 1.1-.6 1.1-1.5 1.1-1.8 1.1-1.5 1.1-.6 1.1 .6 1.1 1.5 1.1 1.8 1.1 1.5" fill="none" stroke="#101a8a" stroke-width="1.25" stroke-linejoin="round"/>
<path d="M53.3 435.3l1.1 1.2 1.1 1.2 1.1 1 1.1 .8 1.1 .4 1.1 .1 1.1-.4 1.1-.7 1.1-1 1-1.2 1.1-1.2 1.1-1.2 1.1-1 1.1-.8 1.1-.4 1.1-.1 1.1 .4 1.1 .7 1.1 1 1.1 1.2 1.1 1.2 1.1 1.2 1.1 1 1.1 .8 1.1 .4 1.1 .1 1.1-.4 1.1-.7 1.1-1 1.1-1.2 1.1-1.2 1.1-1.2 1.1-1 1.1-.8 1.1-.4 1.1-.1 1.1 .4 1 .7 1.1 1 1.1 1.2 1.1 1.2 1.1 1.2 1.1 1 1.1 .8 1.1 .4 1.1 .1 1.1-.4 1.1-.7 1.1-1 1.1-1.2 1.1-1.2 1.1-1.2 1.1-1 1.1-.8 1.1-.4 1.1-.1 1.1 .4 1.1 .7 1.1 1 1.1 1.2 1.1 1.2 1.1 1.2 1.1 1 1.1 .8 1.1 .4 1.1 .1 1-.4 1.1-.7 1.1-1 1.1-1.2 1.1-1.2 1.1-1.2 1.1-1 1.1-.8 1.1-.4 1.1-.1 1.1 .4 1.1 .7 1.1 1 1.1 1.2 1.1 1.2 1.1 1.2 1.1 1 1.1 .8 1.1 .4 1.1 .1 1.1-.4 1.1-.7 1.1-1 1.1-1.2 1.1-1.2 1.1-1.2 1.1-1 1.1-.8 1.1-.4 1-.1 1.1 .4 1.1 .7 1.1 1 1.1 1.2 1.1 1.2 1.1 1.2 1.1 1 1.1 .8 1.1 .4 1.1 .1 1.1-.4 1.1-.7 1.1-1 1.1-1.2 1.1-1.2 1.1-1.2 1.1-1 1.1-.8 1.1-.4 1.1-.1 1.1 .4 1.1 .7 1.1 1 1.1 1.2 1.1 1.2 1.1 1.2 1.1 1 1 .8 1.1 .4 1.1 .1 1.1-.4 1.1-.7 1.1-1 1.1-1.2 1.1-1.2 1.1-1.2 1.1-1 1.1-.8 1.1-.4 1.1-.1 1.1 .4 1.1 .7 1.1 1 1.1 1.2 1.1 1.2 1.1 1.2 1.1 1 1.1 .8 1.1 .4 1.1 .1 1.1-.4 1.1-.7 1.1-1 1.1-1.2 1.1-1.2 1.1-1.2 1-1 1.1-.8 1.1-.4 1.1-.1 1.1 .4 1.1 .7 1.1 1 1.1 1.2 1.1 1.2 1.1 1.2 1.1 1 1.1 .8 1.1 .4 1.1 .1 1.1-.4 1.1-.7 1.1-1 1.1-1.2 1.1-1.2 1.1-1.2 1.1-1 1.1-.8 1.1-.4 1.1-.1 1.1 .4 1.1 .7 1.1 1 1.1 1.2 1 1.2 1.1 1.2 1.1 1 1.1 .8 1.1 .4 1.1 .1 1.1-.4 1.1-.7 1.1-1 1.1-1.2 1.1-1.2 1.1-1.2 1.1-1 1.1-.8 1.1-.4 1.1-.1 1.1 .4 1.1 .7" fill="none" stroke="#3f6cff" stroke-width="1.25" stroke-linejoin="round" stroke-dasharray="3,2"/>
<path d="M53.3 434.4l1.1-1.2 1.1-.9 1.1-.4 1.1 0 1.1 .4 1.1 .8 1.1 1.2 1.1 1.4 1.1 1.6 1 1.5 1.1 1.3 1.1 1 1.1 .6 1.1 .2 1.1-.3 1.1-.8 1.1-1.2 1.1-1.5 1.1-1.6 1.1-1.6 1.1-1.5 1.1-1.2 1.1-.7 1.1-.3 1.1 .2 1.1 .7 1.1 1.2 1.1 1.5 1.1 1.7 1.1 1.7 1.1 1.6 1.1 1.4 1.1 .9 1.1 .4 1.1-.1 1.1-.6 1.1-1.1 1-1.6 1.1-1.7 1.1-1.9 1.1-1.7 1.1-1.5 1.1-1.1 1.1-.6 1.1 0 1.1 .5 1.1 1.1 1.1 1.5 1.1 1.8 1.1 1.9 1.1 1.9 1.1 1.7 1.1 1.3 1.1 .7 1.1 .2 1.1-.4 1.1-1 1.1-1.5 1.1-1.8 1.1-2.1 1.1-2 1.1-1.8 1.1-1.4 1.1-1 1.1-.3 1.1 .2 1 .9 1.1 1.5 1.1 1.8 1.1 2.1 1.1 2.2 1.1 1.9 1.1 1.7 1.1 1.1 1.1 .5 1.1-.1 1.1-.8 1.1-1.4 1.1-1.8 1.1-2.2 1.1-2.2 1.1-2.1 1.1-1.9 1.1-1.3 1.1-.7 1.1 0 1.1 .6 1.1 1.3 1.1 1.9 1.1 2.1 1.1 2.4 1.1 2.3 1.1 2 1.1 1.5 1.1 .9 1 .2 1.1-.5 1.1-1.2 1.1-1.8 1.1-2.2 1.1-2.4 1.1-2.4 1.1-2.2 1.1-1.7 1.1-1.2 1.1-.4 1.1 .4 1.1 1.1 1.1 1.7 1.1 2.2 1.1 2.5 1.1 2.5 1.1 2.4 1.1 1.9 1.1 1.3 1.1 .7 1.1-.2 1.1-.9 1.1-1.7 1.1-2.2 1.1-2.5 1.1-2.7 1.1-2.5 1-2.1 1.1-1.6 1.1-.8 1.1 0 1.1 .7 1.1 1.6 1.1 2.1 1.1 2.6 1.1 2.7 1.1 2.7 1.1 2.3 1.1 1.8 1.1 1.1 1.1 .2 1.1-.6 1.1-1.4 1.1-2.1 1.1-2.5 1.1-2.9 1.1-2.8 1.1-2.5 1.1-2 1.1-1.2 1.1-.5 1.1 .5 1.1 1.2 1.1 2 1.1 2.5 1.1 2.8 1 2.9 1.1 2.6 1.1 2.1 1.1 1.5 1.1 .6 1.1-.2 1.1-1 1.1-1.9 1.1-2.4 1.1-2.7 1.1-2.9 1.1-2.7 1.1-2.3 1.1-1.6 1.1-.9 1.1 0 1.1 .9 1.1 1.6 1.1 2.3 1.1 2.7 1.1 2.9 1.1 2.7 1.1 2.4 1.1 1.9 1.1 1 1.1 .2 1.1-.6 1.1-1.5 1-2.1 1.1-2.6 1.1-2.9 1.1-2.8 1.1-2.5 1.1-2 1.1-1.2 1.1-.5 1.1 .4 1.1 1.5 1.1 2.6 1.1 3.2 1.1 3.4 1.1 3.4 1.1 3.2 1.1 2.8 1.1 2 1.1 1.3" fill="none" stroke="#101a8a" stroke-width="1.25" stroke-linejoin="round"/>
<path d="M35.3 467.4l1.4-2.4 1.3-.7 1.4 2.4 1.4 2.9 1.4 2.3 1.3 2 1.4 1.2 1.4-1.9 1.3-5.1 1.4-5.2 1.4-2.3 1.3 1.7 1.4 1.7 1.4 .5 1.4 4 1.3 3 1.4-3.3 1.4-3.5 1.3 3.7 1.4 5.5 1.4-.1 1.4-3.7 1.3-3.2 1.4-2.5 1.4-2 1.3-.5 1.4 .6 1.4 .7 1.3 1.5 1.4 2.5 1.4 1.1 1.4-1.1 1.3-.2 1.4 1.9 1.4 1.4 1.3 .5 1.4 1.4 1.4 .2 1.4-4.2 1.3-5.5 1.4-2.1 1.4 1.5 1.3 1.9 1.4 .9 1.4 .2 1.3 .6 1.4 .4 1.4-.3 1.4 2.4 1.3 4.2 1.4-.1 1.4-3.7 1.3 .2 1.4 2.3 1.4-1.7 1.4-3.9 1.3-2.5 1.4-2 1.4 0 1.3 3.2 1.4 1.7 1.4-.4 1.3 1.5 1.4 1.5 1.4-.4 1.4 1.2 1.3 1.4 1.4-1.3 1.4 1.3 1.3 3.3 1.4-4.7 1.4-9.2 1.4 .4 1.3 5.8 1.4-1.3 1.4-4.1 1.3 1.7 1.4 3.5 1.4 1.2 1.4 1.4 1.3 1.6 1.4-.1 1.4-1 1.3-.9 1.4 .4 1.4 3 1.3 1 1.4-5.8 1.4-6.6 1.4-.7 1.3 1.6 1.4 .5 1.4 4 1.3 5.3 1.4-1.5 1.4-5.1 1.4 .9 1.3 4.4 1.4 .6 1.4 .5 1.3 2.9 1.4-1.6 1.4-5.8 1.3-2.1 1.4-.6 1.4-3.7 1.4-.2 1.3 6.1 1.4 2.9 1.4-2.3 1.3-.7 1.4 .1 1.4 .1 1.4 4.5 1.3 3.8 1.4-3.3 1.4-2.3 1.3 2.9 1.4-1.8 1.4-7.1 1.3-1.6 1.4 2.1 1.4 0 1.4 1.5 1.3 2.1 1.4-2.6 1.4-.9 1.3 5.7 1.4 3 1.4-2.9 1.4 .2 1.3 2.8 1.4-1.5 1.4-2.4 1.3 .7 1.4-1.4 1.4-4.4 1.3-2.3 1.4 .3 1.4 1.9 1.4 3.4 1.3 1.4 1.4-1.8 1.4 .3 1.3 3.4 1.4 .7 1.4-1.2 1.4 2.3 1.3 1.5 1.4-4.6 1.4-3.9 1.3 2.8 1.4 .8 1.4-6.2 1.3-3.9 1.4 3.6 1.4 3.7 1.4 1.5 1.3 3 1.4 1.1 1.4-3.9 1.3-1.6 1.4 4 1.4 3.1 1.4-1.5 1.3-14.4 1.4 2.3 1.4 3.6 1.3 4.3 1.4 3.9 1.4 2.9 1.3 3.5 1.4 6.3 1.4 7.3 1.4 4.3 1.3 .2 1.4 .1 1.4-.9 1.3-7.3 1.4-16.1 1.4-18.8 1.4-16.6 1.3-5.3 1.4 4.1 1.4 5.3 1.3 5 1.4 4.9 1.4 4.7 1.3 4.7 1.4 4.6 1.4 4.5 1.4 3.5" fill="none" stroke="#3f6cff" stroke-width="1.25" stroke-linejoin="round" stroke-dasharray="3,2"/>
<path d="M35.3 467.4l1.4-2.4 1.3-.7 1.4 2.4 1.4 2.9 1.4 2.3 1.3 2 1.4 1.2 1.4-.9 1.3-2 1.4-1.6 1.4 1 1.3 .9 1.4-.3 1.4 1.1 1.4-1.1 1.3-5.8 1.4-2 1.4 1.4 1.3-3.5 1.4-4.3 1.4 2.3 1.4 5.6 1.3 5.2 1.4 4.6 1.4 .7 1.3-3.2 1.4-1.1 1.4 1.7 1.3 .6 1.4-1.2 1.4-1.7 1.4-2.1 1.3-2.8 1.4-4.6 1.4-4.3 1.3 1.1 1.4 5.3 1.4 4.1 1.4 3.2 1.3 2.7 1.4-1 1.4-1.6 1.3 2.4 1.4 2.5 1.4-.8 1.3-1.7 1.4-3.5 1.4-5 1.4-.7 1.3 .8 1.4-4.9 1.4-2.9 1.3 6.6 1.4 5.1 1.4-1.5 1.4 2.4 1.3 5.7 1.4-.1 1.4-1.9 1.3 1.9 1.4-1 1.4-5.3 1.3-1.4 1.4 2.4 1.4-1.4 1.4-6.2 1.3-5.4 1.4 .6 1.4 5.3 1.3 4.4 1.4 2.2 1.4 3.3 1.4 2 1.3-1.6 1.4-.4 1.4 1.4 1.3-1.4 1.4-1.3 1.4 1 1.4-2.8 1.3-6.3 1.4-3 1.4-1.5 1.3-.9 1.4 6 1.4 7.3 1.3-1.8 1.4-2.8 1.4 5.5 1.4 4.5 1.3-1.6 1.4-.7 1.4-.3 1.3-3.4 1.4-1.4 1.4 0 1.4-5.1 1.3-4.8 1.4 1.8 1.4 1.8 1.3-.7 1.4 2 1.4 3.6 1.3 2.7 1.4 4.3 1.4 3 1.4-3 1.3-3.4 1.4 .5 1.4-.6 1.3-1.7 1.4 .6 1.4-2.4 1.4-8.1 1.3-4.2 1.4 5.1 1.4 5.6 1.3-.8 1.4 .1 1.4 7.2 1.3 5.5 1.4-4.2 1.4-4.5 1.4 3.4 1.3 2.9 1.4-2.9 1.4-1.9 1.3-2 1.4-7.4 1.4-3.9 1.4 4.5 1.3 1.7 1.4-2.2 1.4 3.6 1.3 4.2 1.4-1 1.4 3.7 1.3 6.7 1.4-3.3 1.4-5.5 1.4 3.9 1.3 1.3 1.4-7.7 1.4-3.3 1.3 1.8 1.4-3.2 1.4-2.4 1.4 2.7 1.3-1.3 1.4-2.1 1.4 7.5 1.3 9.1 1.4 0 1.4-2.8 1.3-.4 1.4-.8 1.4-.2 1.4 1.1 1.3-2.2 1.4-4.3 1.4-2.1 1.3-2 1.4-3.2 1.4-.1 1.4 2.2 1.3-8.2 1.4 7.6 1.4 7.4 1.3 3.5 1.4 2.2 1.4 2.2 1.3 3.4 1.4 6.6 1.4 7.7 1.4 4.5 1.3 .2 1.4 .1 1.4-.9 1.3-7.7 1.4-16.9 1.4-19.8 1.4-17.5 1.3-5.6 1.4 4.3 1.4 5.6 1.3 5.2 1.4 5.2 1.4 5 1.3 4.9 1.4 4.8 1.4 4.8 1.4 3.6" fill="none" stroke="#101a8a" stroke-width="1.25" stroke-linejoin="round"/>
<path d="M35.4 440.9V512.6H298.5" fill="none" stroke="#666" stroke-width="0.75"/>
<path d="M35.4 443.1h2" stroke="#555" stroke-width="0.7"/>
<text x="31.5" y="446.5" font-size="9.7" text-anchor="end">20</text>
<path d="M35.4 472.8h2" stroke="#555" stroke-width="0.7"/>
<text x="31.5" y="476.2" font-size="9.7" text-anchor="end">0</text>
<path d="M35.4 502.5h2" stroke="#555" stroke-width="0.7"/>
<text x="31.5" y="505.9" font-size="9.7" text-anchor="end">−20</text>
<path d="M35.3 512.6v-2.2" stroke="#555" stroke-width="0.7"/>
<path d="M79.16 512.6v-2.2" stroke="#555" stroke-width="0.7"/>
<path d="M123.02 512.6v-2.2" stroke="#555" stroke-width="0.7"/>
<path d="M166.88 512.6v-2.2" stroke="#555" stroke-width="0.7"/>
<path d="M210.74 512.6v-2.2" stroke="#555" stroke-width="0.7"/>
<path d="M254.6 512.6v-2.2" stroke="#555" stroke-width="0.7"/>
<path d="M298.46 512.6v-2.2" stroke="#555" stroke-width="0.7"/>
<text transform="translate(8.6,477.5) rotate(-90)" font-size="9.7" text-anchor="middle">Voltage (μV)</text>
<ellipse cx="67.3" cy="497.7" rx="4.15" ry="5.6" fill="#000"/>
<ellipse cx="73.4" cy="497.7" rx="4.15" ry="5.6" fill="#000"/>
<ellipse cx="79.5" cy="497.7" rx="4.15" ry="5.6" fill="#000"/>
<circle cx="60.7" cy="497.7" r="5.8" fill="#f9b300"/>
<text x="60.7" y="500.7" font-size="8.4" text-anchor="middle" fill="#111" font-weight="bold">1</text>
<rect x="92.9" y="494.45" width="14" height="6.5" fill="#8fd0f0" fill-opacity="0.945"/>
<path d="M92.9,497.7 h14" stroke="#3f6cff" stroke-width="1.3" stroke-dasharray="5.8,2.4"/>
<ellipse cx="136.9" cy="497.7" rx="4.15" ry="5.6" fill="#000"/>
<ellipse cx="143.5" cy="497.7" rx="4.15" ry="5.6" fill="#000"/>
<ellipse cx="155.7" cy="497.7" rx="4.15" ry="5.6" fill="#000"/>
<circle cx="149.6" cy="497.7" r="5.8" fill="#f9b300"/>
<text x="149.6" y="500.7" font-size="8.4" text-anchor="middle" fill="#111" font-weight="bold">3</text>
<rect x="171.3" y="494.45" width="14" height="6.5" fill="#4a62b0" fill-opacity="0.81"/>
<path d="M171.3,497.7 h14" stroke="#101a8a" stroke-width="1.3"/>
<text x="167" y="534.3" font-size="9.7" text-anchor="middle" fill="#22a822">hEOG</text>
<path d="M35.3 539.9V634.3M57.23 539.9V634.3M79.16 539.9V634.3M101.09 539.9V634.3M123.02 539.9V634.3M144.95 539.9V634.3M166.88 539.9V634.3M188.81 539.9V634.3M210.74 539.9V634.3M232.67 539.9V634.3M254.6 539.9V634.3" stroke="#3a3a3a" stroke-width="0.75" stroke-dasharray="2.1,2.1"/>
<path d="M46.27 570.2V634.3M68.19 539.9V634.3M90.12 539.9V634.3M112.05 539.9V634.3M133.99 539.9V634.3M155.91 539.9V634.3M177.84 539.9V634.3M199.77 539.9V634.3M221.7 539.9V634.3M243.63 539.9V634.3M265.56 539.9V634.3" stroke="#444" stroke-width="0.75"/>
<text x="36.4" y="539.9" font-size="9.7">2 Hz</text>
<text x="36.4" y="557.1" font-size="9.7">1 Hz</text>
<path d="M53.3 542.1l1.1 .9 1.1 .5 1.1 0 1.1-.6 1.1-1 1.1-1.1 1.1-.7 1.1-.1 1.1 .4 1 .9 1.1 .9 1.1 .6 1.1 .1 1.1-.6 1.1-.9 1.1-.9 1.1-.6 1.1 0 1.1 .6 1.1 1 1.1 1 1.1 .7 1.1 .2 1.1-.4 1.1-.9 1.1-.8 1.1-.6 1.1 0 1.1 .6 1.1 1 1.1 1 1.1 .7 1.1 0 1.1-.5 1.1-.9 1.1-1 1.1-.7 1-.1 1.1 .5 1.1 .8 1.1 .9 1.1 .5 1.1 0 1.1-.6 1.1-1 1.1-1.1 1.1-.7 1.1-.1 1.1 .4 1.1 .9 1.1 .9 1.1 .6 1.1 .1 1.1-.6 1.1-.9 1.1-.9 1.1-.6 1.1 0 1.1 .6 1.1 1 1.1 1 1.1 .7 1.1 .2 1.1-.4 1.1-.9 1.1-.8 1-.6 1.1 0 1.1 .6 1.1 1 1.1 1 1.1 .7 1.1 0 1.1-.5 1.1-.9 1.1-1 1.1-.7 1.1-.1 1.1 .5 1.1 .8 1.1 .9 1.1 .5 1.1 0 1.1-.6 1.1-1 1.1-1.1 1.1-.7 1.1-.1 1.1 .4 1.1 .9 1.1 .9 1.1 .6 1.1 .1 1.1-.6 1.1-.9 1-.9 1.1-.6 1.1 0 1.1 .6 1.1 1 1.1 1 1.1 .7 1.1 .2 1.1-.4 1.1-.9 1.1-.8 1.1-.6 1.1 0 1.1 .6 1.1 1 1.1 1 1.1 .7 1.1 0 1.1-.5 1.1-.9 1.1-1 1.1-.7 1.1-.1 1.1 .5 1.1 .8 1.1 .9 1.1 .5 1.1 0 1-.6 1.1-1 1.1-1.1 1.1-.7 1.1-.1 1.1 .4 1.1 .9 1.1 .9 1.1 .6 1.1 .1 1.1-.6 1.1-.9 1.1-.9 1.1-.6 1.1 0 1.1 .6 1.1 1 1.1 1 1.1 .7 1.1 .2 1.1-.4 1.1-.9 1.1-.8 1.1-.6 1.1 0 1.1 .6 1.1 1 1.1 1 1.1 .7 1 0 1.1-.5 1.1-.9 1.1-1 1.1-.7 1.1-.1 1.1 .5 1.1 .8 1.1 .9 1.1 .5 1.1 0 1.1-.6 1.1-1 1.1-1.1 1.1-.7 1.1-.1 1.1 .4 1.1 .9 1.1 .9 1.1 .6 1.1 .1 1.1-.6 1.1-.9 1.1-.9 1.1-.6 1.1 0 1.1 .6 1.1 1 1 1 1.1 .7 1.1 .2 1.1-.4 1.1-.9 1.1-.8 1.1-.6 1.1 0 1.1 .6 1.1 1 1.1 1 1.1 .7 1.1 0 1.1-.5 1.1-.9 1.1-1 1.1-.7 1.1-.1 0 2.8-1.1 .1-1.1 .7-1.1 1-1.1 .9-1.1 .5-1.1 0-1.1-.7-1.1-1-1.1-1-1.1-.6-1.1 0-1.1 .6-1.1 .8-1.1 .9-1.1 .4-1.1-.2-1.1-.7-1-1-1.1-1-1.1-.6-1.1 0-1.1 .6-1.1 .9-1.1 .9-1.1 .6-1.1-.1-1.1-.6-1.1-.9-1.1-.9-1.1-.4-1.1 .1-1.1 .7-1.1 1.1-1.1 1-1.1 .6-1.1 0-1.1-.5-1.1-.9-1.1-.8-1.1-.5-1.1 .1-1.1 .7-1.1 1-1.1 .9-1.1 .5-1 0-1.1-.7-1.1-1-1.1-1-1.1-.6-1.1 0-1.1 .6-1.1 .8-1.1 .9-1.1 .4-1.1-.2-1.1-.7-1.1-1-1.1-1-1.1-.6-1.1 0-1.1 .6-1.1 .9-1.1 .9-1.1 .6-1.1-.1-1.1-.6-1.1-.9-1.1-.9-1.1-.4-1.1 .1-1.1 .7-1.1 1.1-1.1 1-1 .6-1.1 0-1.1-.5-1.1-.9-1.1-.8-1.1-.5-1.1 .1-1.1 .7-1.1 1-1.1 .9-1.1 .5-1.1 0-1.1-.7-1.1-1-1.1-1-1.1-.6-1.1 0-1.1 .6-1.1 .8-1.1 .9-1.1 .4-1.1-.2-1.1-.7-1.1-1-1.1-1-1.1-.6-1.1 0-1.1 .6-1 .9-1.1 .9-1.1 .6-1.1-.1-1.1-.6-1.1-.9-1.1-.9-1.1-.4-1.1 .1-1.1 .7-1.1 1.1-1.1 1-1.1 .6-1.1 0-1.1-.5-1.1-.9-1.1-.8-1.1-.5-1.1 .1-1.1 .7-1.1 1-1.1 .9-1.1 .5-1.1 0-1.1-.7-1.1-1-1.1-1-1.1-.6-1.1 0-1 .6-1.1 .8-1.1 .9-1.1 .4-1.1-.2-1.1-.7-1.1-1-1.1-1-1.1-.6-1.1 0-1.1 .6-1.1 .9-1.1 .9-1.1 .6-1.1-.1-1.1-.6-1.1-.9-1.1-.9-1.1-.4-1.1 .1-1.1 .7-1.1 1.1-1.1 1-1.1 .6-1.1 0-1.1-.5-1.1-.9-1.1-.8-1.1-.5-1 .1-1.1 .7-1.1 1-1.1 .9-1.1 .5-1.1 0-1.1-.7-1.1-1-1.1-1-1.1-.6-1.1 0-1.1 .6-1.1 .8-1.1 .9-1.1 .4-1.1-.2-1.1-.7-1.1-1-1.1-1-1.1-.6-1.1 0-1.1 .6-1.1 .9-1.1 .9-1.1 .6-1.1-.1-1.1-.6-1.1-.9-1-.9-1.1-.4-1.1 .1-1.1 .7-1.1 1.1-1.1 1-1.1 .6-1.1 0-1.1-.5-1.1-.9Z" fill="#9ee25a" fill-opacity="0.7"/>
<path d="M53.3 541l1.1-.4 1.1 0 1.1 .5 1.1 .8 1.1 .8 1.1 .5 1.1 .1 1.1-.3 1.1-.6 1-.7 1.1-.5 1.1 0 1.1 .4 1.1 .7 1.1 .7 1.1 .5 1.1 0 1.1-.4 1.1-.8 1.1-.8 1.1-.5 1.1-.1 1.1 .3 1.1 .6 1.1 .6 1.1 .4 1.1 0 1.1-.5 1.1-.7 1.1-.8 1.1-.5 1.1 0 1.1 .3 1.1 .7 1.1 .8 1.1 .5 1.1 0 1-.3 1.1-.7 1.1-.6 1.1-.4 1.1 0 1.1 .5 1.1 .8 1.1 .8 1.1 .5 1.1 .1 1.1-.3 1.1-.6 1.1-.7 1.1-.5 1.1 0 1.1 .4 1.1 .7 1.1 .7 1.1 .5 1.1 0 1.1-.4 1.1-.8 1.1-.8 1.1-.5 1.1-.1 1.1 .3 1.1 .6 1.1 .6 1.1 .4 1 0 1.1-.5 1.1-.7 1.1-.8 1.1-.5 1.1 0 1.1 .3 1.1 .7 1.1 .8 1.1 .5 1.1 0 1.1-.3 1.1-.7 1.1-.6 1.1-.4 1.1 0 1.1 .5 1.1 .8 1.1 .8 1.1 .5 1.1 .1 1.1-.3 1.1-.6 1.1-.7 1.1-.5 1.1 0 1.1 .4 1.1 .7 1.1 .7 1 .5 1.1 0 1.1-.4 1.1-.8 1.1-.8 1.1-.5 1.1-.1 1.1 .3 1.1 .6 1.1 .6 1.1 .4 1.1 0 1.1-.5 1.1-.7 1.1-.8 1.1-.5 1.1 0 1.1 .3 1.1 .7 1.1 .8 1.1 .5 1.1 0 1.1-.3 1.1-.7 1.1-.6 1.1-.4 1.1 0 1.1 .5 1 .8 1.1 .8 1.1 .5 1.1 .1 1.1-.3 1.1-.6 1.1-.7 1.1-.5 1.1 0 1.1 .4 1.1 .7 1.1 .7 1.1 .5 1.1 0 1.1-.4 1.1-.8 1.1-.8 1.1-.5 1.1-.1 1.1 .3 1.1 .6 1.1 .6 1.1 .4 1.1 0 1.1-.5 1.1-.7 1.1-.8 1.1-.5 1.1 0 1 .3 1.1 .7 1.1 .8 1.1 .5 1.1 0 1.1-.3 1.1-.7 1.1-.6 1.1-.4 1.1 0 1.1 .5 1.1 .8 1.1 .8 1.1 .5 1.1 .1 1.1-.3 1.1-.6 1.1-.7 1.1-.5 1.1 0 1.1 .4 1.1 .7 1.1 .7 1.1 .5 1.1 0 1.1-.4 1.1-.8 1.1-.8 1-.5 1.1-.1 1.1 .3 1.1 .6 1.1 .6 1.1 .4 1.1 0 1.1-.5 1.1-.7 1.1-.8 1.1-.5 1.1 0 1.1 .3 1.1 .7 1.1 .8 1.1 .5 1.1 0 1.1-.3 0 1.8-1.1 .3-1.1 0-1.1-.5-1.1-.8-1.1-.7-1.1-.3-1.1 0-1.1 .5-1.1 .8-1.1 .7-1.1 .5-1.1 0-1.1-.4-1.1-.6-1.1-.6-1.1-.3-1.1 .1-1 .5-1.1 .8-1.1 .8-1.1 .4-1.1 0-1.1-.5-1.1-.7-1.1-.7-1.1-.4-1.1 0-1.1 .5-1.1 .7-1.1 .6-1.1 .3-1.1-.1-1.1-.5-1.1-.8-1.1-.8-1.1-.5-1.1 0-1.1 .4-1.1 .6-1.1 .7-1.1 .3-1.1 0-1.1-.5-1.1-.8-1.1-.7-1-.3-1.1 0-1.1 .5-1.1 .8-1.1 .7-1.1 .5-1.1 0-1.1-.4-1.1-.6-1.1-.6-1.1-.3-1.1 .1-1.1 .5-1.1 .8-1.1 .8-1.1 .4-1.1 0-1.1-.5-1.1-.7-1.1-.7-1.1-.4-1.1 0-1.1 .5-1.1 .7-1.1 .6-1.1 .3-1.1-.1-1.1-.5-1.1-.8-1-.8-1.1-.5-1.1 0-1.1 .4-1.1 .6-1.1 .7-1.1 .3-1.1 0-1.1-.5-1.1-.8-1.1-.7-1.1-.3-1.1 0-1.1 .5-1.1 .8-1.1 .7-1.1 .5-1.1 0-1.1-.4-1.1-.6-1.1-.6-1.1-.3-1.1 .1-1.1 .5-1.1 .8-1.1 .8-1.1 .4-1.1 0-1-.5-1.1-.7-1.1-.7-1.1-.4-1.1 0-1.1 .5-1.1 .7-1.1 .6-1.1 .3-1.1-.1-1.1-.5-1.1-.8-1.1-.8-1.1-.5-1.1 0-1.1 .4-1.1 .6-1.1 .7-1.1 .3-1.1 0-1.1-.5-1.1-.8-1.1-.7-1.1-.3-1.1 0-1.1 .5-1.1 .8-1.1 .7-1.1 .5-1 0-1.1-.4-1.1-.6-1.1-.6-1.1-.3-1.1 .1-1.1 .5-1.1 .8-1.1 .8-1.1 .4-1.1 0-1.1-.5-1.1-.7-1.1-.7-1.1-.4-1.1 0-1.1 .5-1.1 .7-1.1 .6-1.1 .3-1.1-.1-1.1-.5-1.1-.8-1.1-.8-1.1-.5-1.1 0-1.1 .4-1.1 .6-1.1 .7-1 .3-1.1 0-1.1-.5-1.1-.8-1.1-.7-1.1-.3-1.1 0-1.1 .5-1.1 .8-1.1 .7-1.1 .5-1.1 0-1.1-.4-1.1-.6-1.1-.6-1.1-.3-1.1 .1-1.1 .5-1.1 .8-1.1 .8-1.1 .4-1.1 0-1.1-.5-1.1-.7-1.1-.7-1.1-.4-1.1 0-1.1 .5-1 .7-1.1 .6-1.1 .3-1.1-.1-1.1-.5-1.1-.8-1.1-.8-1.1-.5-1.1 0-1.1 .4Z" fill="#2f9a2f" fill-opacity="0.6"/>
<path d="M53.3 558.8l1.1-.9 1.1-.3 1.1 .3 1.1 .9 1.1 1.3 1.1 1.8 1.1 1.9 1.1 2 1.1 1.8 1 1.5 1.1 1 1.1 .5 1.1-.1 1.1-.8 1.1-1.2 1.1-1.6 1.1-1.9 1.1-2 1.1-1.9 1.1-1.6 1.1-1.1 1.1-.7 1.1-.1 1.1 .6 1.1 1.1 1.1 1.5 1.1 1.8 1.1 2 1.1 1.9 1.1 1.7 1.1 1.3 1.1 .9 1.1 .2 1.1-.4 1.1-.9 1.1-1.4 1.1-1.8 1-1.9 1.1-2 1.1-1.7 1.1-1.5 1.1-1 1.1-.4 1.1 .2 1.1 .8 1.1 1.2 1.1 1.7 1.1 1.9 1.1 2 1.1 1.8 1.1 1.6 1.1 1.1 1.1 .6 1.1 0 1.1-.6 1.1-1.1 1.1-1.6 1.1-1.8 1.1-2 1.1-1.9 1.1-1.7 1.1-1.2 1.1-.8 1.1-.2 1.1 .4 1.1 1 1 1.5 1.1 1.7 1.1 2 1.1 1.9 1.1 1.8 1.1 1.4 1.1 .9 1.1 .4 1.1-.2 1.1-.9 1.1-1.3 1.1-1.7 1.1-1.9 1.1-2 1.1-1.8 1.1-1.5 1.1-1.1 1.1-.6 1.1 .1 1.1 .7 1.1 1.1 1.1 1.6 1.1 1.9 1.1 2 1.1 1.9 1.1 1.6 1.1 1.2 1.1 .8 1.1 .1 1-.5 1.1-1 1.1-1.5 1.1-1.8 1.1-2 1.1-1.9 1.1-1.8 1.1-1.3 1.1-.9 1.1-.3 1.1 .3 1.1 .9 1.1 1.3 1.1 1.8 1.1 1.9 1.1 2 1.1 1.8 1.1 1.5 1.1 1 1.1 .5 1.1-.1 1.1-.8 1.1-1.2 1.1-1.6 1.1-1.9 1.1-2 1.1-1.9 1.1-1.6 1-1.1 1.1-.7 1.1-.1 1.1 .6 1.1 1.1 1.1 1.5 1.1 1.8 1.1 2 1.1 1.9 1.1 1.7 1.1 1.3 1.1 .9 1.1 .2 1.1-.4 1.1-.9 1.1-1.4 1.1-1.8 1.1-1.9 1.1-2 1.1-1.7 1.1-1.5 1.1-1 1.1-.4 1.1 .2 1.1 .8 1.1 1.2 1.1 1.7 1.1 1.9 1.1 2 1 1.8 1.1 1.6 1.1 1.1 1.1 .6 1.1 0 1.1-.6 1.1-1.1 1.1-1.6 1.1-1.8 1.1-2 1.1-1.9 1.1-1.7 1.1-1.2 1.1-.8 1.1-.2 1.1 .4 1.1 1 1.1 1.5 1.1 1.7 1.1 2 1.1 1.9 1.1 1.8 1.1 1.4 1.1 .9 1.1 .4 1.1-.2 1.1-.9 1.1-1.3 1-1.7 1.1-1.9 1.1-2 1.1-1.8 1.1-1.5 1.1-1.1 1.1-.6 1.1 .1 1.1 .7 1.1 1.1 1.1 1.6 1.1 1.9 1.1 2 1.1 1.9 1.1 1.6 1.1 1.2 1.1 .8 1.1 .1 0 4.8-1.1-.1-1.1-.8-1.1-1.2-1.1-1.6-1.1-1.9-1.1-2-1.1-1.9-1.1-1.6-1.1-1.1-1.1-.7-1.1-.1-1.1 .6-1.1 1.1-1.1 1.5-1.1 1.8-1.1 2-1.1 1.9-1 1.7-1.1 1.3-1.1 .9-1.1 .2-1.1-.4-1.1-.9-1.1-1.4-1.1-1.8-1.1-1.9-1.1-2-1.1-1.7-1.1-1.5-1.1-1-1.1-.4-1.1 .2-1.1 .8-1.1 1.2-1.1 1.7-1.1 1.9-1.1 2-1.1 1.8-1.1 1.6-1.1 1.1-1.1 .6-1.1 0-1.1-.6-1.1-1.1-1.1-1.6-1-1.8-1.1-2-1.1-1.9-1.1-1.7-1.1-1.2-1.1-.8-1.1-.2-1.1 .4-1.1 1-1.1 1.5-1.1 1.7-1.1 2-1.1 1.9-1.1 1.8-1.1 1.4-1.1 .9-1.1 .4-1.1-.2-1.1-.9-1.1-1.3-1.1-1.7-1.1-1.9-1.1-2-1.1-1.8-1.1-1.5-1.1-1.1-1.1-.6-1.1 .1-1.1 .7-1 1.1-1.1 1.6-1.1 1.9-1.1 2-1.1 1.9-1.1 1.6-1.1 1.2-1.1 .8-1.1 .1-1.1-.5-1.1-1-1.1-1.5-1.1-1.8-1.1-2-1.1-1.9-1.1-1.8-1.1-1.3-1.1-.9-1.1-.3-1.1 .3-1.1 .9-1.1 1.3-1.1 1.8-1.1 1.9-1.1 2-1.1 1.8-1.1 1.5-1.1 1-1 .5-1.1-.1-1.1-.8-1.1-1.2-1.1-1.6-1.1-1.9-1.1-2-1.1-1.9-1.1-1.6-1.1-1.1-1.1-.7-1.1-.1-1.1 .6-1.1 1.1-1.1 1.5-1.1 1.8-1.1 2-1.1 1.9-1.1 1.7-1.1 1.3-1.1 .9-1.1 .2-1.1-.4-1.1-.9-1.1-1.4-1.1-1.8-1.1-1.9-1.1-2-1.1-1.7-1-1.5-1.1-1-1.1-.4-1.1 .2-1.1 .8-1.1 1.2-1.1 1.7-1.1 1.9-1.1 2-1.1 1.8-1.1 1.6-1.1 1.1-1.1 .6-1.1 0-1.1-.6-1.1-1.1-1.1-1.6-1.1-1.8-1.1-2-1.1-1.9-1.1-1.7-1.1-1.2-1.1-.8-1.1-.2-1.1 .4-1.1 1-1.1 1.5-1.1 1.7-1.1 2-1 1.9-1.1 1.8-1.1 1.4-1.1 .9-1.1 .4-1.1-.2-1.1-.9-1.1-1.3-1.1-1.7-1.1-1.9-1.1-2-1.1-1.8-1.1-1.5-1.1-1.1-1.1-.6-1.1 .1-1.1 .7-1.1 1.1-1.1 1.6-1.1 1.9-1.1 2-1.1 1.9-1.1 1.6-1.1 1.2-1.1 .8-1.1 .1-1.1-.5-1.1-1-1-1.5-1.1-1.8-1.1-2-1.1-1.9-1.1-1.8-1.1-1.3-1.1-.9-1.1-.3-1.1 .3-1.1 .9Z" fill="#9ee25a" fill-opacity="0.7"/>
<path d="M53.3 574.6l1.1 .8 1.1-.2 1.1-1.2 1.1-2.2 1.1-2.9 1.1-3.3 1.1-4.2 1.1-4.6 1.1-3.9 1-2.8 1.1-1.6 1.1-.1 1.1 1.3 1.1 2.6 1.1 3.7 1.1 4.5 1.1 4.4 1.1 3.3 1.1 2.9 1.1 2.2 1.1 1.4 1.1 .4 1.1-.6 1.1-1.6 1.1-2.4 1.1-3 1.1-3.3 1.1-4.6 1.1-4.2 1.1-3.5 1.1-2.3 1.1-.9 1.1 .4 1.1 1.8 1.1 3 1.1 4 1.1 4.5 1 3.7 1.1 3.1 1.1 2.6 1.1 1.9 1.1 1 1.1-.1 1.1-1 1.1-1.8 1.1-2.6 1.1-3.1 1.1-3.7 1.1-4.4 1.1-3.9 1.1-2.9 1.1-1.8 1.1-.4 1.1 1 1.1 2.3 1.1 3.3 1.1 4.1 1.1 4.5 1.1 3.1 1.1 2.8 1.1 2.3 1.1 1.4 1.1 .6 1.1-.4 1.1-1.3 1.1-2.1 1-2.8 1.1-3 1.1-4.1 1.1-4.2 1.1-3.4 1.1-2.4 1.1-1.2 1.1 .1 1.1 1.5 1.1 2.7 1.1 3.6 1.1 4.2 1.1 3.8 1.1 2.9 1.1 2.6 1.1 1.9 1.1 1 1.1 .2 1.1-.8 1.1-1.6 1.1-2.3 1.1-2.7 1.1-3.3 1.1-4.2 1.1-3.8 1.1-3 1.1-1.9 1.1-.7 1.1 .7 1 1.9 1.1 3 1.1 3.8 1.1 4.3 1.1 3.1 1.1 2.7 1.1 2.2 1.1 1.6 1.1 .7 1.1-.2 1.1-1.1 1.1-1.8 1.1-2.5 1.1-2.8 1.1-3.6 1.1-4.1 1.1-3.4 1.1-2.5 1.1-1.4 1.1-.1 1.1 1.2 1.1 2.3 1.1 3.3 1.1 3.9 1.1 3.8 1.1 2.8 1.1 2.4 1.1 1.9 1 1.2 1.1 .3 1.1-.5 1.1-1.4 1.1-2 1.1-2.5 1.1-2.8 1.1-4 1.1-3.7 1.1-3 1.1-2.1 1.1-.8 1.1 .4 1.1 1.6 1.1 2.6 1.1 3.5 1.1 4 1.1 3.2 1.1 2.6 1.1 2.1 1.1 1.6 1.1 .8 1.1 0 1.1-.9 1.1-1.5 1.1-2.2 1.1-2.5 1.1-3.2 1.1-3.9 1-3.4 1.1-2.6 1.1-1.5 1.1-.4 1.1 .9 1.1 2 1.1 2.9 1.1 3.7 1.1 3.8 1.1 2.6 1.1 2.4 1.1 1.8 1.1 1.2 1.1 .5 1.1-.3 1.1-1.1 1.1-1.8 1.1-2.2 1.1-2.6 1.1-3.5 1.1-3.7 1.1-3 1.1-2.1 1.1-1 1.1 .1 1.1 1.3 1.1 2.3 1.1 3.2 1 3.8 1.1 3.4 1.1 2.7 1.1 2.6 1.1 2.5 1.1 2 1.1 1.4 1.1 .5 1.1-.8 1.1-2.2 1.1-3.1 1.1-3.9 1.1-5 1.1-4.3 1.1-3.3 1.1-2.1 1.1-.7 1.1 .5 0 10.2-1.1-.3-1.1 .5-1.1 1.5-1.1 2.4-1.1 3.1-1.1 3.7-1.1 4.8-1.1 4.4-1.1 3.1-1.1 1.5-1.1-.1-1.1-1.5-1.1-2.5-1.1-3.3-1.1-3.7-1.1-4-1.1-3.3-1-2.5-1.1-2.1-1.1-1.5-1.1-.9-1.1-.1-1.1 .7-1.1 1.4-1.1 2-1.1 2.4-1.1 2.9-1.1 3.8-1.1 3.4-1.1 2.7-1.1 1.6-1.1 .5-1.1-.7-1.1-1.8-1.1-2.9-1.1-3.5-1.1-3.9-1.1-2.7-1.1-2.4-1.1-2-1.1-1.3-1.1-.6-1.1 .3-1.1 1-1.1 1.7-1 2.3-1.1 2.6-1.1 3.5-1.1 3.8-1.1 3.2-1.1 2.4-1.1 1.2-1.1 0-1.1-1.2-1.1-2.3-1.1-3.2-1.1-3.9-1.1-3.6-1.1-2.6-1.1-2.4-1.1-1.8-1.1-1.1-1.1-.2-1.1 .5-1.1 1.4-1.1 2-1.1 2.6-1.1 2.8-1.1 4.1-1.1 3.7-1.1 3-1.1 1.9-1.1 .8-1.1-.5-1-1.7-1.1-2.8-1.1-3.6-1.1-4-1.1-3.2-1.1-2.7-1.1-2.2-1.1-1.6-1.1-.8-1.1 0-1.1 1-1.1 1.7-1.1 2.3-1.1 2.8-1.1 3.5-1.1 4.1-1.1 3.5-1.1 2.7-1.1 1.6-1.1 .2-1.1-1-1.1-2.2-1.1-3.2-1.1-4-1.1-4-1.1-3-1.1-2.6-1.1-2.1-1-1.3-1.1-.5-1.1 .5-1.1 1.3-1.1 2.1-1.1 2.6-1.1 2.9-1.1 4.2-1.1 4-1.1 3.3-1.1 2.3-1.1 1.1-1.1-.3-1.1-1.5-1.1-2.7-1.1-3.7-1.1-4.2-1.1-3.7-1.1-2.9-1.1-2.5-1.1-1.9-1.1-1-1.1-.2-1.1 .9-1.1 1.7-1.1 2.4-1.1 2.9-1.1 3.4-1.1 4.4-1 3.9-1.1 3-1.1 1.8-1.1 .6-1.1-.8-1.1-2.1-1.1-3.2-1.1-4-1.1-4.5-1.1-3.2-1.1-2.9-1.1-2.4-1.1-1.6-1.1-.7-1.1 .3-1.1 1.2-1.1 2.1-1.1 2.7-1.1 3.2-1.1 4.1-1.1 4.3-1.1 3.6-1.1 2.7-1.1 1.4-1.1 0-1.1-1.4-1.1-2.6-1.1-3.7-1.1-4.3-1-4.2-1.1-3.2-1.1-2.8-1.1-2.1-1.1-1.3-1.1-.3-1.1 .7-1.1 1.6-1.1 2.4-1.1 3.1-1.1 3.3-1.1 4.7-1.1 4.2-1.1 3.3-1.1 2.2-1.1 .9-1.1-.5-1.1-2-1.1-3.1-1.1-4.1-1.1-4.6-1.1-3.7-1.1-3.2-1.1-2.7-1.1-1.9-1.1-.9-1.1 .1-1.1 1.1-1 2-1.1 2.8-1.1 3.3-1.1 4.1-1.1 4.6-1.1 4-1.1 3-1.1 1.7-1.1 .3-1.1-1.1Z" fill="#2f9a2f" fill-opacity="0.6"/>
<path d="M35.3 602.2l1.4-2.1 1.3-1.6 1.4-.6 1.4 .5 1.4 1.4 1.3 2.1 1.4 2.1 1.4 1.7 1.3 .8 1.4-.4 1.4-1.5 1.3-2.4 1.4-2.8 1.4-2.9 1.4-1.6 1.3 .3 1.4 1 1.4 .6 1.3 .7 1.4 2.3 1.4 4.4 1.4 3.4 1.3-1.1 1.4-3.5 1.4-.7 1.3 1.2 1.4-2.3 1.4-6 1.3-3.6 1.4 1.1 1.4 2.1 1.4 .1 1.3-.6 1.4 .5 1.4 1.8 1.3 3.1 1.4 3.6 1.4 2.1 1.4 .3 1.3-.1 1.4-.6 1.4-2.4 1.3-3.4 1.4-2.3 1.4-1.4 1.3-1.4 1.4-.6 1.4 .5 1.4-.1 1.3-.6 1.4 1.8 1.4 4.8 1.3 3.4 1.4 .3 1.4 .4 1.4 1.9 1.3 .7 1.4-2.5 1.4-3.7 1.3-3 1.4-1.9 1.4-.7 1.3 .2 1.4-.6 1.4-1.2 1.4-.2 1.3 1.2 1.4 2.2 1.4 3.7 1.3 5.1 1.4 2.8 1.4-2.1 1.4-3.2 1.3-.4 1.4 .6 1.4-2.1 1.3-3.4 1.4-1.4 1.4-.5 1.4-1.9 1.3-2.3 1.4 .1 1.4 2.7 1.3 3.8 1.4 3.1 1.4 1.6 1.3 .6 1.4 1.4 1.4 1.4 1.4-1 1.3-2.8 1.4-1.4 1.4-.4 1.3-2.9 1.4-4.5 1.4-.9 1.4 2.5 1.3 .5 1.4-2.6 1.4-.3 1.3 4.9 1.4 6.5 1.4 3.1 1.3-1.1 1.4-2.6 1.4-.8 1.4 1.4 1.3 .3 1.4-2.7 1.4-3.4 1.3-1.5 1.4-1.4 1.4-3.4 1.4-2 1.3 2.9 1.4 4.8 1.4 2.2 1.3 .3 1.4 1.5 1.4 2.3 1.3 1.1 1.4 .1 1.4 .3 1.4-.6 1.3-2.4 1.4-3.3 1.4-3 1.3-1.9 1.4-.3 1.4 .4 1.4-1 1.3-.8 1.4 2.6 1.4 5.5 1.3 3.2 1.4-.2 1.4-.3 1.3 1.3 1.4 .8 1.4-.6 1.4-.9 1.3-2 1.4-4 1.4-3.9 1.3-.9 1.4 .7 1.4 .1 1.4-.1 1.3 1.2 1.4 2.3 1.4 3 1.3 3.1 1.4 1.6 1.4-.2 1.3-.3 1.4 .7 1.4-.6 1.4-2.7 1.3-2.6 1.4-1.6 1.4-2.7 1.3-3.1 1.4 .5 1.4 6.6 1.4 3.7 1.3 .5 1.4-.4 1.4-1.3 1.3-5.6 1.4-1.4 1.4-1.7 1.3-2.6 1.4-3.1 1.4-3.3 1.4-3.1 1.3-2 1.4 .9 1.4 2.1 1.3 2.5 1.4 3.7 1.4 4.4 1.4 4.4 1.3 4.5 1.4 4.4 1.4 4.5 1.3 4.4 1.4 2.3 1.4-4.2 1.3-8.1 1.4-8.5 1.4-8.5 1.4-6.5 0 14.7-1.4 6.5-1.4 8.4-1.4 8.6-1.3 8.1-1.4 4.2-1.4-2.4-1.3-4.3-1.4-4.5-1.4-4.4-1.3-4.5-1.4-4.4-1.4-4.4-1.4-3.7-1.3-2.5-1.4-2.1-1.4-.9-1.3 2-1.4 3.1-1.4 3.3-1.4 3.1-1.3 2.6-1.4 1.7-1.4 1.4-1.3-3-1.4 1.2-1.4 .5-1.3-.5-1.4-3.7-1.4-6.6-1.4-.5-1.3 3-1.4 2.7-1.4 1.6-1.3 2.6-1.4 2.8-1.4 .5-1.4-.6-1.3 .2-1.4 .3-1.4-1.7-1.3-3.1-1.4-2.9-1.4-2.4-1.3-1.1-1.4 .1-1.4-.2-1.4-.7-1.3 1-1.4 3.8-1.4 4.1-1.3 2-1.4 .9-1.4 .5-1.4-.8-1.3-1.3-1.4 .3-1.4 .3-1.3-3.3-1.4-5.4-1.4-2.7-1.3 .9-1.4 .9-1.4-.3-1.4 .2-1.3 2-1.4 2.9-1.4 3.3-1.3 2.4-1.4 .7-1.4-.3-1.4-.2-1.3-1-1.4-2.3-1.4-1.6-1.3-.3-1.4-2.1-1.4-4.9-1.3-2.8-1.4 2-1.4 3.4-1.4 1.4-1.3 1.4-1.4 3.4-1.4 2.8-1.3-.4-1.4-1.3-1.4 .8-1.4 2.5-1.3 1.2-1.4-3.2-1.4-6.5-1.3-4.9-1.4 .4-1.4 2.6-1.3-.6-1.4-2.5-1.4 1-1.4 4.4-1.3 3-1.4 .4-1.4 1.3-1.3 2.8-1.4 1-1.4-1.4-1.4-1.3-1.3-.7-1.4-1.5-1.4-3.2-1.3-3.7-1.4-2.8-1.4 0-1.3 2.2-1.4 2-1.4 .4-1.4 1.5-1.3 3.3-1.4 2.1-1.4-.6-1.3 .4-1.4 3.3-1.4 2-1.4-2.8-1.3-5.1-1.4-3.7-1.4-2.1-1.3-1.3-1.4 .3-1.4 1.2-1.4 .5-1.3-.1-1.4 .6-1.4 1.9-1.3 3.1-1.4 3.7-1.4 2.4-1.3-.6-1.4-1.9-1.4-.4-1.4-.4-1.3-3.4-1.4-4.7-1.4-1.9-1.3 .7-1.4 .1-1.4-.6-1.4 .6-1.3 1.4-1.4 1.4-1.4 2.3-1.3 3.4-1.4 2.5-1.4 .6-1.3 .1-1.4-.4-1.4-2.1-1.4-3.6-1.3-3.1-1.4-1.8-1.4-.4-1.3 .6-1.4-.2-1.4-2.1-1.4-1.1-1.3 3.7-1.4 5.9-1.4 2.3-1.3-1.2-1.4 .7-1.4 3.5-1.3 1.1-1.4-3.3-1.4-4.5-1.4-2.3-1.3-.7-1.4-.6-1.4-1-1.3-.3-1.4 1.6-1.4 2.9-1.4 2.9-1.3 2.3-1.4 1.6-1.4 .3-1.3-.7-1.4-1.7-1.4-2.2-1.3-2-1.4-1.5-1.4-.5-1.4 .7-1.3 1.6-1.4 2.1Z" fill="#9ee25a" fill-opacity="0.7"/>
<path d="M35.3 600.5l1.4-.8 1.3-.8 1.4-2 1.4-.6 1.4 .7 1.3 1.8 1.4 2.5 1.4 2.5 1.3 1.9 1.4 1 1.4-2.5 1.3-2.9 1.4-1.3 1.4 3.7 1.4 5.5 1.3-3.5 1.4-7.2 1.4 1.3 1.3 1.4 1.4-7.9 1.4-10.5 1.4-2 1.3 3.6 1.4 2 1.4 3.7 1.3 8.7 1.4 5.8 1.4-.6 1.3 1.8 1.4 6.2 1.4 2.3 1.4-4.9 1.3-4.8 1.4-1.5 1.4-3.4 1.3-7.1 1.4-4.4 1.4-2.2 1.4-2.9 1.3-.4 1.4 5.4 1.4 7.6 1.3 5.8 1.4 3 1.4 3.6 1.3 .7 1.4-1.1 1.4 1.9 1.4 1.9 1.3-4.7 1.4-8.2 1.4-5 1.3-1.1 1.4-4.5 1.4-6.2 1.4 .5 1.3 6.9 1.4 5.3 1.4 2.1 1.3 3.1 1.4 5.3 1.4 4.5 1.3 2 1.4-.2 1.4-3.3 1.4-4.8 1.3-1.7 1.4 .5 1.4-5.5 1.3-10.3 1.4-5.5 1.4 4.7 1.4 5.7 1.3-1.5 1.4-.9 1.4 10 1.3 11.5 1.4 1.8 1.4-6.9 1.4-2 1.3 5.6 1.4 3.1 1.4-4.5 1.3-6.6 1.4-6.7 1.4-5.5 1.3-2.7 1.4 1 1.4 1.2 1.4-.2 1.3 2.6 1.4 7.2 1.4 5.3 1.3 1.6 1.4 3 1.4 4.1 1.4-1 1.3-5.7 1.4-2.4 1.4 1.7 1.3-2.4 1.4-8.5 1.4-6.1 1.3-1.8 1.4-.3 1.4 1.6 1.4 4.9 1.3 4.8 1.4 2.8 1.4 3 1.3 6.1 1.4 2 1.4-3.3 1.4-1.4 1.3 1.9 1.4-1.7 1.4-5.3 1.3-5 1.4-3.1 1.4-5.5 1.3-4.1 1.4 3.9 1.4 6.2 1.4 .7 1.3 .6 1.4 6.9 1.4 7.6 1.3-.3 1.4-3.6 1.4 1.8 1.4 3.4 1.3-3.2 1.4-6.9 1.4-3.6 1.3-1.3 1.4-3.1 1.4-5.2 1.3-2.7 1.4 2.2 1.4 6 1.4 6.3 1.3 3.4 1.4-.8 1.4 1.6 1.3 5.4 1.4 3.9 1.4-2.6 1.4-6.9 1.3-3.9 1.4 2.2 1.4 .4 1.3-5.7 1.4-9.7 1.4-4.6 1.3 4.5 1.4 7.4 1.4 3.8 1.4 1.7 1.3 2 1.4 2.8 1.4 1.9 1.3 1.1 1.4 .3 1.4 1.4 1.4 6.1 1.3-2 1.4-5.2 1.4-7.7 1.3-7.5 1.4-6.2 1.4-5.1 1.3-4.3 1.4-3.8 1.4-3.1 1.4-2.2 1.3-3.3 1.4-2.9 1.4-2.3 1.3 1.4 1.4 7.9 1.4 10.6 1.4 11 1.3 10.9 1.4 7.4 1.4 6.7 1.3 6.9 1.4 5 1.4-2.3 1.3-6.5 1.4-6.6 1.4-6.2 1.4-6.3 0 21.7-1.4 5.4-1.4 8.8-1.4 8.7-1.3 7.8-1.4 2.7-1.4-5.8-1.3-8.5-1.4-9.1-1.4-9.7-1.3-8.2-1.4-8.7-1.4-9-1.4-7.4-1.3-1.9-1.4 .8-1.4 .7-1.3 .7-1.4 4-1.4 5.5-1.4 5.5-1.3 4.9-1.4 4.2-1.4 3-1.3 1.8-1.4 1.5-1.4 3.8-1.3 4-1.4-4.5-1.4-.4-1.4-.2-1.3-2.2-1.4-3.8-1.4-5.3-1.3-2.8-1.4 1-1.4-1.7-1.4-6.2-1.3-4.2-1.4 3.9-1.4 7.9-1.3 3.4-1.4-2.6-1.4 .5-1.3 6.2-1.4 8.4-1.4 3.2-1.4-4.5-1.3-6.8-1.4-3.9-1.4-1.9-1.3-1.4-1.4-3.9-1.4-4.2-1.4-1.5-1.3 2.5-1.4 3.9-1.4 .9-1.3-1.3-1.4 4.3-1.4 9.5-1.3 5.1-1.4-2.4-1.4-1.8-1.4 2.6-1.3-1.7-1.4-10.1-1.4-7.4-1.3 2-1.4 1.4-1.4-5-1.4-3.7-1.3 3.3-1.4 3.8-1.4 .6-1.3 3.1-1.4 8.1-1.4 3.9-1.3-.4-1.4 1.8-1.4 2.8-1.4-3.6-1.3-8.3-1.4-5.7-1.4-.6-1.3-2.3-1.4-3.3-1.4-.9-1.4 .1-1.3 .4-1.4 4-1.4 5.8-1.3 3.4-1.4 .8-1.4 4.3-1.3 6.6-1.4 1-1.4-5.2-1.4-5-1.3-4.1-1.4-5.7-1.4-4.6-1.3-.5-1.4 1.4-1.4-1-1.4-1.8-1.3 .9-1.4 3-1.4 5-1.3 9.4-1.4 6.7-1.4-1.7-1.3-5.1-1.4 1.4-1.4 5.2-1.4-4-1.3-14.3-1.4-7.4-1.4 3.2-1.3 3.1-1.4-4.9-1.4-5.1-1.4 4.1-1.3 8.2-1.4 2.8-1.4 .7-1.3 4.1-1.4 6.7-1.4 4.3-1.4 .1-1.3-3.2-1.4-6.5-1.4-7.8-1.3-3.2-1.4 .4-1.4-3.2-1.3-5.7-1.4-.4-1.4 5.3-1.4 2.6-1.3-1.3-1.4 3.6-1.4 10.9-1.3 6.9-1.4-.6-1.4-1.4-1.4 .4-1.3-2.3-1.4-5.9-1.4-5.8-1.3-3-1.4-5.3-1.4-3.8-1.3 1-1.4 2.6-1.4 .8-1.4 2.2-1.3 4.4-1.4 4.8-1.4 4-1.3 6.6-1.4 5.8-1.4-2.5-1.4-7.4-1.3-3.7-1.4-2.1-1.4-5.6-1.3-6.1-1.4-1.8-1.4-.9-1.3-3.4-1.4 1-1.4 8.7-1.4 5.5-1.3-2.7-1.4 1.3-1.4 9.4-1.3 4.9-1.4-5.2-1.4-4.4-1.4-.3-1.3 .5-1.4 .1-1.4 1.6-1.3 .4-1.4-.9-1.4-1.8-1.3-2.3-1.4-2.1-1.4-1.6-1.4-.7-1.3 2.4-1.4 3.3Z" fill="#2f9a2f" fill-opacity="0.6"/>
<path d="M53.3 543.5l1.1 .9 1.1 .5 1.1 0 1.1-.6 1.1-1 1.1-1.1 1.1-.7 1.1-.1 1.1 .4 1 .9 1.1 .9 1.1 .6 1.1 .1 1.1-.6 1.1-.9 1.1-.9 1.1-.6 1.1 0 1.1 .6 1.1 1 1.1 1 1.1 .7 1.1 .2 1.1-.4 1.1-.9 1.1-.8 1.1-.6 1.1 0 1.1 .6 1.1 1 1.1 1 1.1 .7 1.1 0 1.1-.5 1.1-.9 1.1-1 1.1-.7 1-.1 1.1 .5 1.1 .8 1.1 .9 1.1 .5 1.1 0 1.1-.6 1.1-1 1.1-1.1 1.1-.7 1.1-.1 1.1 .4 1.1 .9 1.1 .9 1.1 .6 1.1 .1 1.1-.6 1.1-.9 1.1-.9 1.1-.6 1.1 0 1.1 .6 1.1 1 1.1 1 1.1 .7 1.1 .2 1.1-.4 1.1-.9 1.1-.8 1-.6 1.1 0 1.1 .6 1.1 1 1.1 1 1.1 .7 1.1 0 1.1-.5 1.1-.9 1.1-1 1.1-.7 1.1-.1 1.1 .5 1.1 .8 1.1 .9 1.1 .5 1.1 0 1.1-.6 1.1-1 1.1-1.1 1.1-.7 1.1-.1 1.1 .4 1.1 .9 1.1 .9 1.1 .6 1.1 .1 1.1-.6 1.1-.9 1-.9 1.1-.6 1.1 0 1.1 .6 1.1 1 1.1 1 1.1 .7 1.1 .2 1.1-.4 1.1-.9 1.1-.8 1.1-.6 1.1 0 1.1 .6 1.1 1 1.1 1 1.1 .7 1.1 0 1.1-.5 1.1-.9 1.1-1 1.1-.7 1.1-.1 1.1 .5 1.1 .8 1.1 .9 1.1 .5 1.1 0 1-.6 1.1-1 1.1-1.1 1.1-.7 1.1-.1 1.1 .4 1.1 .9 1.1 .9 1.1 .6 1.1 .1 1.1-.6 1.1-.9 1.1-.9 1.1-.6 1.1 0 1.1 .6 1.1 1 1.1 1 1.1 .7 1.1 .2 1.1-.4 1.1-.9 1.1-.8 1.1-.6 1.1 0 1.1 .6 1.1 1 1.1 1 1.1 .7 1 0 1.1-.5 1.1-.9 1.1-1 1.1-.7 1.1-.1 1.1 .5 1.1 .8 1.1 .9 1.1 .5 1.1 0 1.1-.6 1.1-1 1.1-1.1 1.1-.7 1.1-.1 1.1 .4 1.1 .9 1.1 .9 1.1 .6 1.1 .1 1.1-.6 1.1-.9 1.1-.9 1.1-.6 1.1 0 1.1 .6 1.1 1 1 1 1.1 .7 1.1 .2 1.1-.4 1.1-.9 1.1-.8 1.1-.6 1.1 0 1.1 .6 1.1 1 1.1 1 1.1 .7 1.1 0 1.1-.5 1.1-.9 1.1-1 1.1-.7 1.1-.1" fill="none" stroke="#5cc82a" stroke-width="1.25" stroke-linejoin="round" stroke-dasharray="3,2"/>
<path d="M53.3 541.9l1.1-.4 1.1 0 1.1 .5 1.1 .8 1.1 .8 1.1 .5 1.1 .1 1.1-.3 1.1-.6 1-.7 1.1-.5 1.1 0 1.1 .4 1.1 .7 1.1 .7 1.1 .5 1.1 0 1.1-.4 1.1-.8 1.1-.8 1.1-.5 1.1-.1 1.1 .3 1.1 .6 1.1 .6 1.1 .4 1.1 0 1.1-.5 1.1-.7 1.1-.8 1.1-.5 1.1 0 1.1 .3 1.1 .7 1.1 .8 1.1 .5 1.1 0 1-.3 1.1-.7 1.1-.6 1.1-.4 1.1 0 1.1 .5 1.1 .8 1.1 .8 1.1 .5 1.1 .1 1.1-.3 1.1-.6 1.1-.7 1.1-.5 1.1 0 1.1 .4 1.1 .7 1.1 .7 1.1 .5 1.1 0 1.1-.4 1.1-.8 1.1-.8 1.1-.5 1.1-.1 1.1 .3 1.1 .6 1.1 .6 1.1 .4 1 0 1.1-.5 1.1-.7 1.1-.8 1.1-.5 1.1 0 1.1 .3 1.1 .7 1.1 .8 1.1 .5 1.1 0 1.1-.3 1.1-.7 1.1-.6 1.1-.4 1.1 0 1.1 .5 1.1 .8 1.1 .8 1.1 .5 1.1 .1 1.1-.3 1.1-.6 1.1-.7 1.1-.5 1.1 0 1.1 .4 1.1 .7 1.1 .7 1 .5 1.1 0 1.1-.4 1.1-.8 1.1-.8 1.1-.5 1.1-.1 1.1 .3 1.1 .6 1.1 .6 1.1 .4 1.1 0 1.1-.5 1.1-.7 1.1-.8 1.1-.5 1.1 0 1.1 .3 1.1 .7 1.1 .8 1.1 .5 1.1 0 1.1-.3 1.1-.7 1.1-.6 1.1-.4 1.1 0 1.1 .5 1 .8 1.1 .8 1.1 .5 1.1 .1 1.1-.3 1.1-.6 1.1-.7 1.1-.5 1.1 0 1.1 .4 1.1 .7 1.1 .7 1.1 .5 1.1 0 1.1-.4 1.1-.8 1.1-.8 1.1-.5 1.1-.1 1.1 .3 1.1 .6 1.1 .6 1.1 .4 1.1 0 1.1-.5 1.1-.7 1.1-.8 1.1-.5 1.1 0 1 .3 1.1 .7 1.1 .8 1.1 .5 1.1 0 1.1-.3 1.1-.7 1.1-.6 1.1-.4 1.1 0 1.1 .5 1.1 .8 1.1 .8 1.1 .5 1.1 .1 1.1-.3 1.1-.6 1.1-.7 1.1-.5 1.1 0 1.1 .4 1.1 .7 1.1 .7 1.1 .5 1.1 0 1.1-.4 1.1-.8 1.1-.8 1-.5 1.1-.1 1.1 .3 1.1 .6 1.1 .6 1.1 .4 1.1 0 1.1-.5 1.1-.7 1.1-.8 1.1-.5 1.1 0 1.1 .3 1.1 .7 1.1 .8 1.1 .5 1.1 0 1.1-.3" fill="none" stroke="#005a00" stroke-width="1.25" stroke-linejoin="round"/>
<path d="M53.3 561.2l1.1-.9 1.1-.3 1.1 .3 1.1 .9 1.1 1.3 1.1 1.8 1.1 1.9 1.1 2 1.1 1.8 1 1.5 1.1 1 1.1 .5 1.1-.1 1.1-.8 1.1-1.2 1.1-1.6 1.1-1.9 1.1-2 1.1-1.9 1.1-1.6 1.1-1.1 1.1-.7 1.1-.1 1.1 .6 1.1 1.1 1.1 1.5 1.1 1.8 1.1 2 1.1 1.9 1.1 1.7 1.1 1.3 1.1 .9 1.1 .2 1.1-.4 1.1-.9 1.1-1.4 1.1-1.8 1-1.9 1.1-2 1.1-1.7 1.1-1.5 1.1-1 1.1-.4 1.1 .2 1.1 .8 1.1 1.2 1.1 1.7 1.1 1.9 1.1 2 1.1 1.8 1.1 1.6 1.1 1.1 1.1 .6 1.1 0 1.1-.6 1.1-1.1 1.1-1.6 1.1-1.8 1.1-2 1.1-1.9 1.1-1.7 1.1-1.2 1.1-.8 1.1-.2 1.1 .4 1.1 1 1 1.5 1.1 1.7 1.1 2 1.1 1.9 1.1 1.8 1.1 1.4 1.1 .9 1.1 .4 1.1-.2 1.1-.9 1.1-1.3 1.1-1.7 1.1-1.9 1.1-2 1.1-1.8 1.1-1.5 1.1-1.1 1.1-.6 1.1 .1 1.1 .7 1.1 1.1 1.1 1.6 1.1 1.9 1.1 2 1.1 1.9 1.1 1.6 1.1 1.2 1.1 .8 1.1 .1 1-.5 1.1-1 1.1-1.5 1.1-1.8 1.1-2 1.1-1.9 1.1-1.8 1.1-1.3 1.1-.9 1.1-.3 1.1 .3 1.1 .9 1.1 1.3 1.1 1.8 1.1 1.9 1.1 2 1.1 1.8 1.1 1.5 1.1 1 1.1 .5 1.1-.1 1.1-.8 1.1-1.2 1.1-1.6 1.1-1.9 1.1-2 1.1-1.9 1.1-1.6 1-1.1 1.1-.7 1.1-.1 1.1 .6 1.1 1.1 1.1 1.5 1.1 1.8 1.1 2 1.1 1.9 1.1 1.7 1.1 1.3 1.1 .9 1.1 .2 1.1-.4 1.1-.9 1.1-1.4 1.1-1.8 1.1-1.9 1.1-2 1.1-1.7 1.1-1.5 1.1-1 1.1-.4 1.1 .2 1.1 .8 1.1 1.2 1.1 1.7 1.1 1.9 1.1 2 1 1.8 1.1 1.6 1.1 1.1 1.1 .6 1.1 0 1.1-.6 1.1-1.1 1.1-1.6 1.1-1.8 1.1-2 1.1-1.9 1.1-1.7 1.1-1.2 1.1-.8 1.1-.2 1.1 .4 1.1 1 1.1 1.5 1.1 1.7 1.1 2 1.1 1.9 1.1 1.8 1.1 1.4 1.1 .9 1.1 .4 1.1-.2 1.1-.9 1.1-1.3 1-1.7 1.1-1.9 1.1-2 1.1-1.8 1.1-1.5 1.1-1.1 1.1-.6 1.1 .1 1.1 .7 1.1 1.1 1.1 1.6 1.1 1.9 1.1 2 1.1 1.9 1.1 1.6 1.1 1.2 1.1 .8 1.1 .1" fill="none" stroke="#5cc82a" stroke-width="1.25" stroke-linejoin="round" stroke-dasharray="3,2"/>
<path d="M53.3 579.6l1.1 1 1.1-.2 1.1-1.5 1.1-2.6 1.1-3.5 1.1-3.9 1.1-4.2 1.1-3.9 1.1-3.3 1-2.5 1.1-1.3 1.1-.1 1.1 1.1 1.1 2.3 1.1 3.2 1.1 3.8 1.1 4 1.1 4 1.1 3.5 1.1 2.7 1.1 1.6 1.1 .5 1.1-.7 1.1-1.9 1.1-2.9 1.1-3.6 1.1-4 1.1-4 1.1-3.6 1.1-2.9 1.1-2 1.1-.8 1.1 .4 1.1 1.5 1.1 2.6 1.1 3.4 1.1 3.8 1 4 1.1 3.7 1.1 3.1 1.1 2.3 1.1 1.1 1.1 0 1.1-1.2 1.1-2.3 1.1-3.1 1.1-3.7 1.1-3.9 1.1-3.7 1.1-3.3 1.1-2.5 1.1-1.5 1.1-.4 1.1 .9 1.1 1.9 1.1 2.9 1.1 3.5 1.1 3.8 1.1 3.8 1.1 3.4 1.1 2.7 1.1 1.8 1.1 .7 1.1-.5 1.1-1.6 1.1-2.5 1-3.3 1.1-3.7 1.1-3.8 1.1-3.6 1.1-2.9 1.1-2 1.1-1 1.1 .1 1.1 1.2 1.1 2.3 1.1 3.1 1.1 3.5 1.1 3.8 1.1 3.6 1.1 3.1 1.1 2.3 1.1 1.3 1.1 .2 1.1-.9 1.1-2 1.1-2.8 1.1-3.4 1.1-3.7 1.1-3.6 1.1-3.2 1.1-2.5 1.1-1.6 1.1-.6 1.1 .6 1 1.6 1.1 2.6 1.1 3.2 1.1 3.6 1.1 3.6 1.1 3.3 1.1 2.7 1.1 1.9 1.1 .8 1.1-.2 1.1-1.3 1.1-2.3 1.1-2.9 1.1-3.5 1.1-3.6 1.1-3.4 1.1-2.8 1.1-2.2 1.1-1.1 1.1-.1 1.1 1 1.1 1.9 1.1 2.8 1.1 3.3 1.1 3.5 1.1 3.4 1.1 3 1.1 2.4 1 1.4 1.1 .4 1.1-.6 1.1-1.7 1.1-2.5 1.1-3.1 1.1-3.4 1.1-3.5 1.1-3.1 1.1-2.5 1.1-1.7 1.1-.7 1.1 .3 1.1 1.3 1.1 2.3 1.1 2.9 1.1 3.3 1.1 3.4 1.1 3.2 1.1 2.7 1.1 1.9 1.1 1 1.1 0 1.1-1 1.1-2 1.1-2.6 1.1-3.2 1.1-3.4 1.1-3.2 1-2.8 1.1-2.2 1.1-1.3 1.1-.3 1.1 .8 1.1 1.6 1.1 2.5 1.1 3 1.1 3.3 1.1 3.2 1.1 3 1.1 2.3 1.1 1.5 1.1 .6 1.1-.4 1.1-1.4 1.1-2.2 1.1-2.8 1.1-3.2 1.1-3.2 1.1-3 1.1-2.5 1.1-1.8 1.1-.9 1.1 .2 1.1 1 1.1 2 1.1 2.6 1 3.1 1.1 3.4 1.1 3.3 1.1 3.2 1.1 2.9 1.1 2.3 1.1 1.4 1.1 .3 1.1-1.2 1.1-2.6 1.1-3.7 1.1-4.4 1.1-4.3 1.1-3.8 1.1-2.8 1.1-1.8 1.1-.6 1.1 .4" fill="none" stroke="#005a00" stroke-width="1.25" stroke-linejoin="round"/>
<path d="M35.3 605.2l1.4-2.1 1.3-1.5 1.4-.7 1.4 .5 1.4 1.4 1.3 2.1 1.4 2.1 1.4 1.7 1.3 .8 1.4-.4 1.4-1.5 1.3-2.4 1.4-2.8 1.4-2.9 1.4-1.6 1.3 .3 1.4 1 1.4 .6 1.3 .7 1.4 2.3 1.4 4.5 1.4 3.3 1.3-1.1 1.4-3.5 1.4-.7 1.3 1.2 1.4-2.3 1.4-5.9 1.3-3.7 1.4 1.1 1.4 2.1 1.4 .1 1.3-.5 1.4 .4 1.4 1.8 1.3 3.1 1.4 3.6 1.4 2.1 1.4 .3 1.3 0 1.4-.6 1.4-2.5 1.3-3.4 1.4-2.3 1.4-1.4 1.3-1.4 1.4-.6 1.4 .6 1.4-.1 1.3-.7 1.4 1.9 1.4 4.7 1.3 3.4 1.4 .4 1.4 .3 1.4 2 1.3 .6 1.4-2.5 1.4-3.7 1.3-3 1.4-1.9 1.4-.6 1.3 .1 1.4-.5 1.4-1.2 1.4-.3 1.3 1.3 1.4 2.1 1.4 3.7 1.3 5.1 1.4 2.8 1.4-2 1.4-3.3 1.3-.4 1.4 .6 1.4-2.1 1.3-3.4 1.4-1.4 1.4-.5 1.4-1.9 1.3-2.3 1.4 .1 1.4 2.7 1.3 3.8 1.4 3.2 1.4 1.5 1.3 .6 1.4 1.4 1.4 1.4 1.4-1 1.3-2.8 1.4-1.3 1.4-.5 1.3-2.9 1.4-4.5 1.4-.9 1.4 2.5 1.3 .5 1.4-2.6 1.4-.3 1.3 4.9 1.4 6.5 1.4 3.1 1.3-1.1 1.4-2.6 1.4-.7 1.4 1.3 1.3 .4 1.4-2.8 1.4-3.4 1.3-1.5 1.4-1.4 1.4-3.3 1.4-2.1 1.3 2.9 1.4 4.8 1.4 2.2 1.3 .3 1.4 1.5 1.4 2.4 1.3 1 1.4 .2 1.4 .3 1.4-.7 1.3-2.4 1.4-3.3 1.4-3 1.3-1.9 1.4-.2 1.4 .3 1.4-.9 1.3-.9 1.4 2.7 1.4 5.4 1.3 3.3 1.4-.3 1.4-.3 1.3 1.3 1.4 .8 1.4-.6 1.4-.9 1.3-2 1.4-4 1.4-3.8 1.3-1 1.4 .7 1.4 .1 1.4 0 1.3 1.1 1.4 2.3 1.4 3 1.3 3.1 1.4 1.6 1.4-.2 1.3-.3 1.4 .7 1.4-.6 1.4-2.7 1.3-2.6 1.4-1.6 1.4-2.7 1.3-3.1 1.4 .5 1.4 6.7 1.4 3.6 1.3 .5 1.4-.4 1.4-1.2 1.3-1.4 1.4-1.4 1.4-1.6 1.3-2.6 1.4-3.2 1.4-3.2 1.4-3.2 1.3-1.9 1.4 .8 1.4 2.1 1.3 2.6 1.4 3.6 1.4 4.4 1.4 4.5 1.3 4.4 1.4 4.5 1.4 4.4 1.3 4.4 1.4 2.4 1.4-4.2 1.3-8.2 1.4-8.5 1.4-8.4 1.4-6.5" fill="none" stroke="#5cc82a" stroke-width="1.25" stroke-linejoin="round" stroke-dasharray="3,2"/>
<path d="M35.3 606.3l1.4-2.1 1.3-1.6 1.4-.6 1.4 .5 1.4 1.4 1.3 2.1 1.4 2.1 1.4 1.7 1.3 .8 1.4-.4 1.4-1.2 1.3-1.8 1.4-.4 1.4 4 1.4 5.4 1.3-4.2 1.4-8.4 1.4 0 1.3 2.1 1.4-6.7 1.4-9.6 1.4-1.5 1.3 3.5 1.4 1.4 1.4 2.8 1.3 7.4 1.4 5.7 1.4 .8 1.3 2.7 1.4 6.8 1.4 2.4 1.4-5.4 1.3-5.7 1.4-2.7 1.4-4.1 1.3-5.8 1.4-3.2 1.4-1.6 1.4-2.7 1.3-.7 1.4 4.6 1.4 6.4 1.3 4.5 1.4 4.4 1.4 4.7 1.3 1.5 1.4-.7 1.4 1.6 1.4 1.3 1.3-5.8 1.4-9.6 1.4-4.3 1.3 .1 1.4-3.5 1.4-5.8 1.4 .4 1.3 6.4 1.4 4.2 1.4 .9 1.3 3.1 1.4 6.5 1.4 5.6 1.3 2.6 1.4-.2 1.4-3.8 1.4-5.8 1.3-2.9 1.4-.1 1.4-4.1 1.3-9.3 1.4-4.7 1.4 4.8 1.4 5.4 1.3-2.4 1.4-2 1.4 8.7 1.3 12.9 1.4 2.9 1.4-6 1.4-1.8 1.3 5.4 1.4 2.4 1.4-5.6 1.3-8 1.4-5.9 1.4-4.2 1.3-1.8 1.4 1.4 1.4 1.1 1.4-.8 1.3 1.6 1.4 5.8 1.4 5.6 1.3 2.8 1.4 4 1.4 4.7 1.4-1.1 1.3-6.1 1.4-3.3 1.4 .4 1.3-2.9 1.4-7.1 1.4-5.1 1.3-1.1 1.4-.2 1.4 1.2 1.4 4.2 1.3 3.5 1.4 1.7 1.4 4.3 1.3 7.3 1.4 2.7 1.4-3 1.4-1.6 1.3 1.1 1.4-2.7 1.4-6.8 1.3-4 1.4-1.8 1.4-4.7 1.3-3.7 1.4 3.8 1.4 5.6 1.4-.3 1.3-.8 1.4 7.2 1.4 8.8 1.3 .8 1.4-3.1 1.4 1.8 1.4 2.9 1.3-4.2 1.4-8.2 1.4-3.9 1.3 0 1.4-2 1.4-4.6 1.3-2.6 1.4 1.9 1.4 5 1.4 5.1 1.3 2.5 1.4 .5 1.4 2.8 1.3 6 1.4 4.2 1.4-2.8 1.4-7.7 1.3-5.1 1.4 .9 1.4 1.5 1.3-4.5 1.4-8.9 1.4-4.2 1.3 4.3 1.4 6.9 1.4 2.7 1.4 .3 1.3 2.5 1.4 4 1.4 2.9 1.3 1.6 1.4 .3 1.4 .9 1.4 5.3 1.3-3.1 1.4-4.5 1.4-4.6 1.3-4.6 1.4-4.6 1.4-4.6 1.3-4.7 1.4-4.6 1.4-4.3 1.4-3.1 1.3-2 1.4-1.8 1.4-1.6 1.3 1.7 1.4 7.6 1.4 9.8 1.4 9.9 1.3 9.6 1.4 8.5 1.4 7.9 1.3 7.7 1.4 5.4 1.4-2.5 1.3-7.2 1.4-7.6 1.4-7.5 1.4-5.8" fill="none" stroke="#005a00" stroke-width="1.25" stroke-linejoin="round"/>
<path d="M35.4 578.2V657.3H298.5" fill="none" stroke="#666" stroke-width="0.75"/>
<path d="M35.4 580.4h2" stroke="#555" stroke-width="0.7"/>
<text x="31.5" y="583.8" font-size="9.7" text-anchor="end">10</text>
<path d="M35.4 602h2" stroke="#555" stroke-width="0.7"/>
<text x="31.5" y="605.4" font-size="9.7" text-anchor="end">0</text>
<path d="M35.4 623.6h2" stroke="#555" stroke-width="0.7"/>
<text x="31.5" y="627" font-size="9.7" text-anchor="end">−10</text>
<path d="M35.4 645.2h2" stroke="#555" stroke-width="0.7"/>
<text x="31.5" y="648.6" font-size="9.7" text-anchor="end">−20</text>
<path d="M35.3 657.3v-2.2" stroke="#555" stroke-width="0.7"/>
<text x="35.3" y="668.1" font-size="9.7" text-anchor="middle">0</text>
<path d="M79.16 657.3v-2.2" stroke="#555" stroke-width="0.7"/>
<text x="79.16" y="668.1" font-size="9.7" text-anchor="middle">2</text>
<path d="M123.02 657.3v-2.2" stroke="#555" stroke-width="0.7"/>
<text x="123.02" y="668.1" font-size="9.7" text-anchor="middle">4</text>
<path d="M166.88 657.3v-2.2" stroke="#555" stroke-width="0.7"/>
<text x="166.88" y="668.1" font-size="9.7" text-anchor="middle">6</text>
<path d="M210.74 657.3v-2.2" stroke="#555" stroke-width="0.7"/>
<text x="210.74" y="668.1" font-size="9.7" text-anchor="middle">8</text>
<path d="M254.6 657.3v-2.2" stroke="#555" stroke-width="0.7"/>
<text x="254.6" y="668.1" font-size="9.7" text-anchor="middle">10</text>
<path d="M298.46 657.3v-2.2" stroke="#555" stroke-width="0.7"/>
<text x="298.46" y="668.1" font-size="9.7" text-anchor="middle">12</text>
<text transform="translate(8.6,616.5) rotate(-90)" font-size="9.7" text-anchor="middle">Voltage (μV)</text>
<ellipse cx="67.3" cy="646.2" rx="4.15" ry="5.6" fill="#000"/>
<ellipse cx="73.4" cy="646.2" rx="4.15" ry="5.6" fill="#000"/>
<ellipse cx="79.5" cy="646.2" rx="4.15" ry="5.6" fill="#000"/>
<circle cx="60.7" cy="646.2" r="5.8" fill="#f9b300"/>
<text x="60.7" y="649.2" font-size="8.4" text-anchor="middle" fill="#111" font-weight="bold">1</text>
<rect x="92.9" y="642.95" width="14" height="6.5" fill="#9ee25a" fill-opacity="0.945"/>
<path d="M92.9,646.2 h14" stroke="#5cc82a" stroke-width="1.3" stroke-dasharray="5.8,2.4"/>
<ellipse cx="136.9" cy="646.2" rx="4.15" ry="5.6" fill="#000"/>
<ellipse cx="143.5" cy="646.2" rx="4.15" ry="5.6" fill="#000"/>
<ellipse cx="155.7" cy="646.2" rx="4.15" ry="5.6" fill="#000"/>
<circle cx="149.6" cy="646.2" r="5.8" fill="#f9b300"/>
<text x="149.6" y="649.2" font-size="8.4" text-anchor="middle" fill="#111" font-weight="bold">3</text>
<rect x="171.3" y="642.95" width="14" height="6.5" fill="#2f9a2f" fill-opacity="0.81"/>
<path d="M171.3,646.2 h14" stroke="#005a00" stroke-width="1.3"/>
<text x="166.88" y="682.6" font-size="9.7" text-anchor="middle">Time (s)</text>
<text x="313.2" y="8" font-size="14.2" font-weight="bold">c</text>
<text x="427" y="9.3" font-size="9.5" text-anchor="middle">Response spectrum</text>
<g clip-path="url(#cc106)">
<path d="M347.1 102.3l3.8 2 3.8-5.4 3.8-65.7 3.8 67.9 3.8 2.5 3.8 1.3 3.8-.1 3.8-1.2 3.8 .5 3.8 .4 3.8-.2 3.8-.3 3.8 .6 3.8-.6 3.8-19.7 3.8 19.7 3.8 .3 3.8-.5 3.8 .4 3.8-.7 3.8 1.2 3.8-.5 3.8 .1 3.8 .2 3.8-.4 3.8 .6 3.8-1.9 3.8 .9 3.8 1.1 3.8-.5 3.8 .3 3.8 .3 3.8-1.2 3.8 .7 3.8 .4 3.8-.8 3.8 .7 3.8-2 3.8-31.5 3.8 32.6 3.8 .9 3.8-.2 0 1.1-3.8 .2-3.8-.6-3.8-18.3-3.8 17.7-3.8 1.2-3.8-.4-3.8 .4-3.8-.2-3.8-.4-3.8 .7-3.8-.2-3.8-.2-3.8 .3-3.8-.6-3.8-.5-3.8 1-3.8-.3-3.8 .2-3.8-.1-3.8 0-3.8 .3-3.8-.7-3.8 .4-3.8-.3-3.8 .3-3.8-.1-3.8-11.1-3.8 11.1-3.8 .3-3.8-.3-3.8 .1-3.8 .1-3.8-.2-3.8-.3-3.8 .7-3.8 .1-3.8-.8-3.8-1.4-3.8-38.2-3.8 37-3.8 3-3.8-1.1Z" fill="#ff9a9a" fill-opacity="0.55"/>
<path d="M347.1 102.5l3.8 1.2 3.8-3.1 3.8-50.1 3.8 51.8 3.8 2.5 3.8-.7 3.8 .8 3.8-1.1 3.8 0 3.8 1.3 3.8-.8 3.8 .6 3.8-.2 3.8-.3 3.8-16.7 3.8 16.7 3.8-.7 3.8 1 3.8 .1 3.8-.7 3.8-.4 3.8 0 3.8 .1 3.8 1.2 3.8-1.3 3.8 .4 3.8-2.1 3.8 2.5 3.8 .3 3.8-.9 3.8 .2 3.8-.2 3.8 .9 3.8 .1 3.8-.9 3.8 1.1 3.8-1.4 3.8-.4 3.8-25.9 3.8 26.8 3.8 .4 3.8 .3 0 .9-3.8-.2-3.8-.2-3.8-16.5-3.8 15.9-3.8 .3-3.8 .8-3.8-.7-3.8 .6-3.8-.1-3.8-.5-3.8 .1-3.8-.1-3.8 .5-3.8-.2-3.8-1.5-3.8 1.3-3.8-.2-3.8 .8-3.8-.8-3.8 0-3.8 0-3.8 .2-3.8 .4-3.8 0-3.8-.6-3.8 .4-3.8-10.3-3.8 10.3-3.8 .2-3.8 .1-3.8-.4-3.8 .5-3.8-.8-3.8 0-3.8 .7-3.8-.5-3.8 .4-3.8-1.5-3.8-31.8-3.8 30.8-3.8 1.9-3.8-.8Z" fill="#c83c3c" fill-opacity="0.6"/>
<path d="M347.1 103.6l3.8 .9 3.8-2.5 3.8-41.1 3.8 42.5 3.8 2 3.8-.5 3.8 .6 3.8-.9 3.8 0 3.8 1.1 3.8-.7 3.8 .6 3.8-.2 3.8-.3 3.8-13.7 3.8 13.7 3.8-.5 3.8 .8 3.8 .1 3.8-.6 3.8-.4 3.8 .1 3.8 0 3.8 1 3.8-1.1 3.8 .4 3.8-1.7 3.8 2 3.8 .2 3.8-.7 3.8 .2 3.8-.2 3.8 .7 3.8 .1 3.8-.7 3.8 .9 3.8-1.2 3.8-.3 3.8-21.2 3.8 21.9 3.8 .4 3.8 .2" fill="none" stroke="#8c0000" stroke-width="1.5" stroke-linejoin="round"/>
<path d="M347.1 103.6l3.8 1.5 3.8-4.2 3.8-51.4 3.8 53.1 3.8 2 3.8 1 3.8-.1 3.8-1 3.8 .4 3.8 .3 3.8-.1 3.8-.2 3.8 .5 3.8-.5 3.8-15.4 3.8 15.4 3.8 .2 3.8-.4 3.8 .3 3.8-.5 3.8 .9 3.8-.4 3.8 .1 3.8 .2 3.8-.3 3.8 .4 3.8-1.5 3.8 .7 3.8 .9 3.8-.4 3.8 .2 3.8 .3 3.8-1 3.8 .6 3.8 .3 3.8-.6 3.8 .5 3.8-1.5 3.8-24.7 3.8 25.5 3.8 .7 3.8-.1" fill="none" stroke="#ff2a2a" stroke-width="1.5" stroke-linejoin="round" stroke-dasharray="3,2"/>
</g>
<path d="M346.5,29.6 V106.6 H507" fill="none" stroke="#555" stroke-width="0.7"/>
<path d="M358.5,106.6 v-2" stroke="#555" stroke-width="0.7"/>
<text x="358.5" y="118.2" font-size="9.5" text-anchor="middle">1</text>
<path d="M404.1,106.6 v-2" stroke="#555" stroke-width="0.7"/>
<text x="404.1" y="118.2" font-size="9.5" text-anchor="middle">2</text>
<path d="M449.7,106.6 v-2" stroke="#555" stroke-width="0.7"/>
<text x="449.7" y="118.2" font-size="9.5" text-anchor="middle">3</text>
<path d="M495.3,106.6 v-2" stroke="#555" stroke-width="0.7"/>
<text x="495.3" y="118.2" font-size="9.5" text-anchor="middle">4</text>
<path d="M346.5,106.6 h2" stroke="#555" stroke-width="0.7"/>
<text x="342.5" y="110" font-size="9.5" text-anchor="end">0</text>
<path d="M346.5,68.55 h2" stroke="#555" stroke-width="0.7"/>
<text x="342.5" y="71.95" font-size="9.5" text-anchor="end">1</text>
<path d="M346.5,30.5 h2" stroke="#555" stroke-width="0.7"/>
<text x="342.5" y="33.9" font-size="9.5" text-anchor="end">2</text>
<text transform="translate(328.3,67.5) rotate(-90)" font-size="9.5" text-anchor="middle">Power (μV<tspan font-size="6.5" dy="-3.5">2</tspan><tspan dy="3.5">)</tspan></text>
<text x="422.9" y="25.6" font-size="9.5" text-anchor="middle" fill="#ff1a1a">EEG</text>
<text x="359" y="32.6" font-size="11.5" text-anchor="middle" fill="#7a0000" font-weight="bold" letter-spacing="1.0">**</text>
<text x="359" y="38.2" font-size="11.5" text-anchor="middle" fill="#ff3030" font-weight="bold" letter-spacing="1.0">**</text>
<text x="404.6" y="81.2" font-size="11.5" text-anchor="middle" fill="#7a0000" font-weight="bold" letter-spacing="1.0">**</text>
<text x="404.6" y="86.4" font-size="11.5" text-anchor="middle" fill="#ff3030" font-weight="bold" letter-spacing="1.0">**</text>
<text x="495.8" y="71.4" font-size="11.5" text-anchor="middle" fill="#7a0000" font-weight="bold" letter-spacing="1.0">**</text>
<text x="495.8" y="76.6" font-size="11.5" text-anchor="middle" fill="#ff3030" font-weight="bold" letter-spacing="1.0">**</text>
<rect x="442.4" y="24.7" width="63.2" height="34.8" fill="#fff" stroke="#555" stroke-width="0.7"/>
<ellipse cx="460.9" cy="34.3" rx="4.15" ry="5.6" fill="#000"/>
<ellipse cx="467" cy="34.3" rx="4.15" ry="5.6" fill="#000"/>
<ellipse cx="473.1" cy="34.3" rx="4.15" ry="5.6" fill="#000"/>
<circle cx="454.3" cy="34.3" r="5.8" fill="#f9b300"/>
<text x="454.3" y="37.3" font-size="8.4" text-anchor="middle" fill="#111" font-weight="bold">1</text>
<ellipse cx="452.7" cy="49.3" rx="4.15" ry="5.6" fill="#000"/>
<ellipse cx="459.3" cy="49.3" rx="4.15" ry="5.6" fill="#000"/>
<ellipse cx="471.5" cy="49.3" rx="4.15" ry="5.6" fill="#000"/>
<circle cx="465.4" cy="49.3" r="5.8" fill="#f9b300"/>
<text x="465.4" y="52.3" font-size="8.4" text-anchor="middle" fill="#111" font-weight="bold">3</text>
<rect x="486.6" y="31.05" width="14" height="6.5" fill="#ff9a9a" fill-opacity="0.7425000000000002"/>
<path d="M486.6,34.3 h14" stroke="#ff2a2a" stroke-width="1.3" stroke-dasharray="5.8,2.4"/>
<rect x="486.6" y="46.05" width="14" height="6.5" fill="#c83c3c" fill-opacity="0.81"/>
<path d="M486.6,49.3 h14" stroke="#8c0000" stroke-width="1.3"/>
<g clip-path="url(#cc208)">
<path d="M347.1 205.1l3.8-3 3.8-3.6 3.8-69.9 3.8 72.8 3.8 5.3 3.8 .4 3.8 .3 3.8-.7 3.8 .2 3.8 .4 3.8-.3 3.8-.3 3.8 .6 3.8-.5 3.8-11.6 3.8 12 3.8 .1 3.8-.6 3.8 .5 3.8-.1 3.8-.1 3.8 .1 3.8 .4 3.8-.2 3.8-.2 3.8-.2 3.8 0 3.8 .2 3.8 .2 3.8-.4 3.8 .4 3.8-.4 3.8 .2 3.8-.1 3.8 .2 3.8 .1 3.8 .1 3.8-.4 3.8-.5 3.8 1 3.8-.2 3.8-.5 0 1.1-3.8 .3-3.8 .1-3.8-.5-3.8 .2-3.8 .2-3.8 0-3.8-.1-3.8 0-3.8 0-3.8-.1-3.8 .2-3.8-.2-3.8 .2-3.8-.1-3.8-.1-3.8 0-3.8 .1-3.8 .1-3.8 .1-3.8-.2-3.8-.1-3.8 .1-3.8 0-3.8-.2-3.8 .3-3.8-.1-3.8-6.2-3.8 6-3.8 .3-3.8-.3-3.8 .1-3.8 .2-3.8-.2-3.8-.1-3.8 .3-3.8-.1-3.8-.2-3.8-2.8-3.8-38-3.8 36.5-3.8 1.9-3.8 1.5Z" fill="#8fd0f0" fill-opacity="0.7"/>
<path d="M347.1 203.9l3.8-4.1 3.8-.7 3.8-55.3 3.8 58 3.8 4.8 3.8 .2 3.8 0 3.8 .6 3.8-.4 3.8 0 3.8 .4 3.8-.3 3.8 .1 3.8 0 3.8-8 3.8 7.9 3.8 .3 3.8-.2 3.8-.5 3.8 .4 3.8 .2 3.8 .1 3.8-.4 3.8-.1 3.8 .2 3.8-.3 3.8-.6 3.8 .6 3.8 .2 3.8 0 3.8 .1 3.8 .3 3.8-.5 3.8-.2 3.8 .2 3.8 .2 3.8 .3 3.8-.1 3.8-1.7 3.8 1.3 3.8 .5 3.8-.7 0 1-3.8 .5-3.8-.4-3.8-.9-3.8 1.2-3.8 0-3.8-.1-3.8-.2-3.8-.1-3.8 .1-3.8 .3-3.8-.1-3.8-.1-3.8 0-3.8-.2-3.8-.3-3.8 .3-3.8 .3-3.8-.2-3.8 .1-3.8 .2-3.8 0-3.8-.1-3.8-.3-3.8 .3-3.8 .1-3.8-.1-3.8-5.3-3.8 5.3-3.8 0-3.8-.1-3.8 .3-3.8-.4-3.8 .1-3.8 .3-3.8-.5-3.8 0-3.8-.1-3.8-3.2-3.8-38.6-3.8 36.8-3.8 .5-3.8 2.7Z" fill="#4a62b0" fill-opacity="0.6"/>
<path d="M347.1 205.1l3.8-3.4 3.8-.6 3.8-46.1 3.8 48.4 3.8 4 3.8 .1 3.8 0 3.8 .5 3.8-.3 3.8 0 3.8 .3 3.8-.2 3.8 .1 3.8 0 3.8-6.7 3.8 6.6 3.8 .2 3.8-.2 3.8-.4 3.8 .4 3.8 .2 3.8 0 3.8-.3 3.8-.1 3.8 .2 3.8-.3 3.8-.5 3.8 .5 3.8 .2 3.8 0 3.8 .1 3.8 .2 3.8-.4 3.8-.1 3.8 .1 3.8 .2 3.8 .2 3.8 0 3.8-1.5 3.8 1.1 3.8 .5 3.8-.7" fill="none" stroke="#101a8a" stroke-width="1.5" stroke-linejoin="round"/>
<path d="M347.1 206l3.8-2.6 3.8-3.1 3.8-60.8 3.8 63.3 3.8 4.6 3.8 .4 3.8 .2 3.8-.6 3.8 .2 3.8 .3 3.8-.3 3.8-.2 3.8 .5 3.8-.4 3.8-10.1 3.8 10.4 3.8 .2 3.8-.6 3.8 .4 3.8 0 3.8-.2 3.8 .2 3.8 .3 3.8-.2 3.8-.1 3.8-.2 3.8 0 3.8 .2 3.8 .1 3.8-.4 3.8 .5 3.8-.4 3.8 .1 3.8 0 3.8 .1 3.8 .1 3.8 .1 3.8-.4 3.8-.4 3.8 .9 3.8-.2 3.8-.5" fill="none" stroke="#3f6cff" stroke-width="1.5" stroke-linejoin="round" stroke-dasharray="3,2"/>
</g>
<path d="M346.5,132.4 V208.6 H507" fill="none" stroke="#555" stroke-width="0.7"/>
<path d="M358.5,208.6 v-2" stroke="#555" stroke-width="0.7"/>
<text x="358.5" y="220.2" font-size="9.5" text-anchor="middle">1</text>
<path d="M404.1,208.6 v-2" stroke="#555" stroke-width="0.7"/>
<text x="404.1" y="220.2" font-size="9.5" text-anchor="middle">2</text>
<path d="M449.7,208.6 v-2" stroke="#555" stroke-width="0.7"/>
<text x="449.7" y="220.2" font-size="9.5" text-anchor="middle">3</text>
<path d="M495.3,208.6 v-2" stroke="#555" stroke-width="0.7"/>
<text x="495.3" y="220.2" font-size="9.5" text-anchor="middle">4</text>
<path d="M346.5,208.6 h2" stroke="#555" stroke-width="0.7"/>
<text x="342.5" y="212" font-size="9.5" text-anchor="end">0</text>
<path d="M346.5,174.05 h2" stroke="#555" stroke-width="0.7"/>
<text x="342.5" y="177.45" font-size="9.5" text-anchor="end">20</text>
<path d="M346.5,139.5 h2" stroke="#555" stroke-width="0.7"/>
<text x="342.5" y="142.9" font-size="9.5" text-anchor="end">40</text>
<text transform="translate(322.3,170.3) rotate(-90)" font-size="9.5" text-anchor="middle">Power (μV<tspan font-size="6.5" dy="-3.5">2</tspan><tspan dy="3.5">)</tspan></text>
<text x="424" y="137.8" font-size="9.5" text-anchor="middle" fill="#3030ff">vEOG</text>
<text x="359" y="132.7" font-size="11.5" text-anchor="middle" fill="#14147a" font-weight="bold" letter-spacing="1.0">**</text>
<text x="359" y="138.1" font-size="11.5" text-anchor="middle" fill="#3a5cff" font-weight="bold" letter-spacing="1.0">**</text>
<text x="404.6" y="193.6" font-size="11.5" text-anchor="middle" fill="#14147a" font-weight="bold" letter-spacing="1.0">**</text>
<text x="404.6" y="198.7" font-size="11.5" text-anchor="middle" fill="#3a5cff" font-weight="bold" letter-spacing="1.0">**</text>
<text x="495.8" y="201.4" font-size="11.5" text-anchor="middle" fill="#14147a" font-weight="bold" letter-spacing="1.0">**</text>
<text x="495.8" y="207.2" font-size="11.5" text-anchor="middle" fill="#3a5cff" font-weight="bold" letter-spacing="1.0">*</text>
<rect x="441.4" y="145.5" width="63.3" height="34.6" fill="#fff" stroke="#555" stroke-width="0.7"/>
<ellipse cx="457.3" cy="155.2" rx="4.15" ry="5.6" fill="#000"/>
<ellipse cx="463.4" cy="155.2" rx="4.15" ry="5.6" fill="#000"/>
<ellipse cx="469.5" cy="155.2" rx="4.15" ry="5.6" fill="#000"/>
<circle cx="450.7" cy="155.2" r="5.8" fill="#f9b300"/>
<text x="450.7" y="158.2" font-size="8.4" text-anchor="middle" fill="#111" font-weight="bold">1</text>
<ellipse cx="449.1" cy="170.2" rx="4.15" ry="5.6" fill="#000"/>
<ellipse cx="455.7" cy="170.2" rx="4.15" ry="5.6" fill="#000"/>
<ellipse cx="467.9" cy="170.2" rx="4.15" ry="5.6" fill="#000"/>
<circle cx="461.8" cy="170.2" r="5.8" fill="#f9b300"/>
<text x="461.8" y="173.2" font-size="8.4" text-anchor="middle" fill="#111" font-weight="bold">3</text>
<rect x="483.3" y="151.95" width="14" height="6.5" fill="#8fd0f0" fill-opacity="0.945"/>
<path d="M483.3,155.2 h14" stroke="#3f6cff" stroke-width="1.3" stroke-dasharray="5.8,2.4"/>
<rect x="483.3" y="166.95" width="14" height="6.5" fill="#4a62b0" fill-opacity="0.81"/>
<path d="M483.3,170.2 h14" stroke="#101a8a" stroke-width="1.3"/>
<g clip-path="url(#cc314)">
<path d="M347.1 309l3.8-1.1 3.8-5.1 3.8-61.4 3.8 47.6 3.8 16 3.8 2.5 3.8 4 3.8 .4 3.8 .6 3.8 .1 3.8 .1 3.8 .2 3.8 .2 3.8 0 3.8-.7 3.8 .9 3.8 0 3.8 .1 3.8-.3 3.8 0 3.8 .1 3.8 0 3.8 0 3.8 0 3.8-.1 3.8 .1 3.8-.3 3.8 .3 3.8 0 3.8-.1 3.8 .1 3.8 .1 3.8 .1 3.8-.1 3.8-.1 3.8 0 3.8 0 3.8 0 3.8 0 3.8 .1 3.8 0 3.8 0 0 1.1-3.8 0-3.8 .1-3.8-.1-3.8 0-3.8-.1-3.8 0-3.8 .1-3.8 0-3.8 .1-3.8 0-3.8-.2-3.8 0-3.8 0-3.8 0-3.8-.3-3.8 .4-3.8-.2-3.8 .1-3.8 .1-3.8 0-3.8 0-3.8-.1-3.8 0-3.8 .2-3.8-.1-3.8 0-3.8-.8-3.8 .7-3.8 0-3.8-.2-3.8-.2-3.8 0-3.8-.1-3.8-.5-3.8-.3-3.8 1-3.8-.4-3.8-2.3-3.8-7.3-3.8 9.2-3.8-4.2-3.8 1.2Z" fill="#9ee25a" fill-opacity="0.7"/>
<path d="M347.1 296.5l3.8-.7 3.8 .1 3.8-39.5 3.8 39.3 3.8 11 3.8 1.9 3.8 2.2 3.8 .7 3.8 .5 3.8 .4 3.8 .2 3.8 .1 3.8 0 3.8 0 3.8-2.1 3.8 2.4 3.8 .1 3.8 .1 3.8-.1 3.8-.1 3.8-.1 3.8 .3 3.8-.1 3.8-.1 3.8-.1 3.8 .3 3.8-.7 3.8 .7 3.8-.1 3.8 0 3.8-.1 3.8 .2 3.8-.3 3.8 .1 3.8 0 3.8-.1 3.8 .2 3.8 0 3.8-.2 3.8 .1 3.8 0 3.8-.1 0 1.4-3.8 0-3.8 0-3.8-.1-3.8 .3-3.8-.1-3.8-.1-3.8 .1-3.8-.1-3.8 0-3.8 .2-3.8-.1-3.8 0-3.8 .1-3.8 0-3.8-.7-3.8 .7-3.8-.2-3.8 0-3.8 .1-3.8 .1-3.8-.2-3.8 .1-3.8 .1-3.8 0-3.8 0-3.8-.2-3.8-2.3-3.8 2.1-3.8 0-3.8 0-3.8-.1-3.8-.1-3.8-.3-3.8-.5-3.8-.6-3.8 .8-3.8-.5-3.8-3.5-3.8-13.5-3.8 15.2-3.8-7.7-3.8 .7Z" fill="#2f9a2f" fill-opacity="0.6"/>
<path d="M347.1 303.6l3.8-.7 3.8 3.1 3.8-33.8 3.8 29.9 3.8 7.9 3.8 1.2 3.8 .9 3.8 .6 3.8 .5 3.8 .3 3.8 .1 3.8 .1 3.8 0 3.8 0 3.8-2.1 3.8 2.4 3.8 .1 3.8 0 3.8 0 3.8-.1 3.8-.1 3.8 .3 3.8-.2 3.8-.1 3.8 0 3.8 .2 3.8-.7 3.8 .7 3.8 0 3.8 0 3.8-.1 3.8 .2 3.8-.3 3.8 .1 3.8 0 3.8-.1 3.8 .1 3.8 .1 3.8-.3 3.8 .1 3.8 0 3.8 0" fill="none" stroke="#005a00" stroke-width="1.5" stroke-linejoin="round"/>
<path d="M347.1 309.8l3.8-1.2 3.8 1.2 3.8-26.1 3.8 20.7 3.8 6.6 3.8 1 3.8 .7 3.8 .2 3.8 .5 3.8 .1 3.8 0 3.8 .2 3.8 .3 3.8-.1 3.8-.7 3.8 .8 3.8 0 3.8 .1 3.8-.2 3.8 0 3.8 .1 3.8 0 3.8 0 3.8 0 3.8-.1 3.8 .1 3.8-.4 3.8 .4 3.8 0 3.8-.1 3.8 .1 3.8 .1 3.8 .1 3.8-.2 3.8 0 3.8-.1 3.8 .1 3.8 0 3.8 0 3.8 .1 3.8-.1 3.8 0" fill="none" stroke="#5cc82a" stroke-width="1.5" stroke-linejoin="round" stroke-dasharray="3,2"/>
</g>
<path d="M346.5,237.4 V314.4 H507" fill="none" stroke="#555" stroke-width="0.7"/>
<path d="M358.5,314.4 v-2" stroke="#555" stroke-width="0.7"/>
<text x="358.5" y="326" font-size="9.5" text-anchor="middle">1</text>
<path d="M404.1,314.4 v-2" stroke="#555" stroke-width="0.7"/>
<text x="404.1" y="326" font-size="9.5" text-anchor="middle">2</text>
<path d="M449.7,314.4 v-2" stroke="#555" stroke-width="0.7"/>
<text x="449.7" y="326" font-size="9.5" text-anchor="middle">3</text>
<path d="M495.3,314.4 v-2" stroke="#555" stroke-width="0.7"/>
<text x="495.3" y="326" font-size="9.5" text-anchor="middle">4</text>
<path d="M346.5,314.4 h2" stroke="#555" stroke-width="0.7"/>
<text x="342.5" y="317.8" font-size="9.5" text-anchor="end">0</text>
<path d="M346.5,276 h2" stroke="#555" stroke-width="0.7"/>
<text x="342.5" y="279.4" font-size="9.5" text-anchor="end">10</text>
<path d="M346.5,237.6 h2" stroke="#555" stroke-width="0.7"/>
<text x="342.5" y="241" font-size="9.5" text-anchor="end">20</text>
<text transform="translate(322.3,276) rotate(-90)" font-size="9.5" text-anchor="middle">Power (μV<tspan font-size="6.5" dy="-3.5">2</tspan><tspan dy="3.5">)</tspan></text>
<text x="422.7" y="242.8" font-size="9.5" text-anchor="middle" fill="#22a822">hEOG</text>
<text x="359" y="238.4" font-size="11.5" text-anchor="middle" fill="#0a5a0a" font-weight="bold" letter-spacing="1.0">*</text>
<text x="359" y="243.5" font-size="11.5" text-anchor="middle" fill="#3cb43c" font-weight="bold" letter-spacing="1.0">**</text>
<text x="404.6" y="312.2" font-size="11.5" text-anchor="middle" fill="#2a8a2a" font-weight="bold" letter-spacing="1.0">*</text>
<rect x="441.4" y="250.5" width="63.3" height="33.5" fill="#fff" stroke="#555" stroke-width="0.7"/>
<ellipse cx="458.9" cy="259.9" rx="4.15" ry="5.6" fill="#000"/>
<ellipse cx="465" cy="259.9" rx="4.15" ry="5.6" fill="#000"/>
<ellipse cx="471.1" cy="259.9" rx="4.15" ry="5.6" fill="#000"/>
<circle cx="452.3" cy="259.9" r="5.8" fill="#f9b300"/>
<text x="452.3" y="262.9" font-size="8.4" text-anchor="middle" fill="#111" font-weight="bold">1</text>
<ellipse cx="450.7" cy="274.9" rx="4.15" ry="5.6" fill="#000"/>
<ellipse cx="457.3" cy="274.9" rx="4.15" ry="5.6" fill="#000"/>
<ellipse cx="469.5" cy="274.9" rx="4.15" ry="5.6" fill="#000"/>
<circle cx="463.4" cy="274.9" r="5.8" fill="#f9b300"/>
<text x="463.4" y="277.9" font-size="8.4" text-anchor="middle" fill="#111" font-weight="bold">3</text>
<rect x="484.9" y="256.65" width="14" height="6.5" fill="#9ee25a" fill-opacity="0.945"/>
<path d="M484.9,259.9 h14" stroke="#5cc82a" stroke-width="1.3" stroke-dasharray="5.8,2.4"/>
<rect x="484.9" y="271.65" width="14" height="6.5" fill="#2f9a2f" fill-opacity="0.81"/>
<path d="M484.9,274.9 h14" stroke="#005a00" stroke-width="1.3"/>
<text x="426.5" y="339.8" font-size="9.7" text-anchor="middle">Frequency (Hz)</text>
<text x="332.4" y="364" font-size="14.2" font-weight="bold">d</text>
<text x="416.8" y="365.8" font-size="9.7" text-anchor="middle">Response phase</text>
<path d="M366.7 428.6l38.5-.7 0-1.3-.1-1.2-.1-1.3-.2-1.3-.2-1.2-.2-1.3-.3-1.2-.3-1.2-.4-1.3-.4-1.2-.4-1.2-.5-1.2-.5-1.1-.5-1.2-.6-1.1-.6-1.1-.6-1.1-.7-1.1-.7-1-.7-1-.8-1-.8-1-.8-.9-.9-.9Z" fill="#ffb4b4" fill-opacity="1"/>
<path d="M366.7 428.6l8.7 38.8 1.5-.4 1.6-.5 1.5-.6 1.5-.6 1.5-.7 1.5-.7 1.4-.8 1.4-.9 1.3-.9 1.4-1 1.2-1 1.3-1.1 1.1-1.2 1.2-1.2 1.1-1.2 1-1.3 1-1.4 .9-1.3 .9-1.5 .8-1.4 .7-1.5 .7-1.5 .6-1.6 .6-1.5Z" fill="#d6636a" fill-opacity="1"/>
<path d="M366.7,428.6 L400.42,413.95" stroke="#ff2a2a" stroke-width="1.25" stroke-dasharray="3.4,2.6"/>
<path d="M366.7,428.6 L391.45,459.09" stroke="#8a0000" stroke-width="1.0"/>
<ellipse cx="366.7" cy="428.6" rx="38.5" ry="39.8" fill="none" stroke="#222" stroke-width="0.8"/>
<text x="343.1" y="381.8" font-size="9.7" fill="#ff3a3a">1-Hz EEG<tspan fill="#000" font-size="11.5" font-weight="bold" dy="-0.8" letter-spacing="0.9">**</tspan></text>
<path d="M464.7 429.4l-30.7 24 .5 .6 .5 .7 .5 .7 .6 .6 .6 .7 .5 .6 .6 .6 .6 .6 .7 .6 .6 .6 .6 .5 .7 .6 .7 .5 .6 .5 .7 .5 .7 .5 .7 .4 .8 .5 .7 .4 .7 .4 .8 .4 .7 .4 .8 .4 .8 .3Z" fill="#e7a9a9" fill-opacity="1"/>
<path d="M464.7 429.4l-18.7 34.8 .3 .1 .2 .2 .2 .1 .2 .1 .2 .1 .3 .1 .2 .2 .2 .1 .2 .1 .3 .1 .2 .1 .2 .1 .3 .1 .2 .1 .2 .1 .3 .1 .2 .1 .2 .1 .3 .1 .2 .1 .2 .1 .3 .1 .2 .1 .2 .1Z" fill="#c85050" fill-opacity="1"/>
<path d="M464.7,429.4 L443.66,455.32" stroke="#ff3a3a" stroke-width="1.25" stroke-dasharray="3.4,2.6"/>
<path d="M464.7,429.4 L447.46,464.99" stroke="#8a0000" stroke-width="1.0"/>
<ellipse cx="464.7" cy="429.4" rx="38.5" ry="39.8" fill="none" stroke="#222" stroke-width="0.8"/>
<text x="438.8" y="381.6" font-size="9.7" fill="#ff3a3a">2-Hz EEG</text>
<path d="M366.7 535l30.2-24.7-1.5-1.9-1.7-1.7-1.7-1.7-1.9-1.6-1.9-1.4-2-1.3-2.1-1.2-2.2-1.1-2.2-.9-2.3-.7-2.3-.6-2.4-.5-2.3-.3-2.4-.2-2.4 0-2.4 .2-2.4 .3-2.3 .4-2.4 .6-2.2 .8-2.3 .9-2.1 1-2.1 1.2-2.1 1.3Z" fill="#b4dcf0" fill-opacity="1"/>
<path d="M366.7 535l1.5 39.8 1.7-.1 1.7-.2 1.6-.3 1.7-.3 1.6-.4 1.6-.5 1.6-.5 1.5-.7 1.6-.6 1.5-.8 1.5-.8 1.4-.9 1.4-1 1.3-1 1.3-1 1.3-1.2 1.2-1.2 1.2-1.2 1.1-1.3 1.1-1.3 1-1.4 .9-1.4 .9-1.5 .8-1.5Z" fill="#6b80b8" fill-opacity="1"/>
<path d="M366.7,535 L369.39,495.3" stroke="#3f6cff" stroke-width="1.25" stroke-dasharray="3.4,2.6"/>
<path d="M366.7,535 L386.3,569.26" stroke="#101a8a" stroke-width="1.0"/>
<ellipse cx="366.7" cy="535" rx="38.5" ry="39.8" fill="none" stroke="#222" stroke-width="0.8"/>
<text x="341.7" y="488.7" font-size="9.7" fill="#2828e6">1-Hz vEOG<tspan fill="#000" font-size="11.5" font-weight="bold" dy="-0.8" letter-spacing="0.9">**</tspan></text>
<path d="M464.7 536l-28.2-27.1-1.7 2-1.6 2.2-1.4 2.3-1.3 2.3-1.1 2.5-1 2.5-.8 2.6-.6 2.7-.4 2.6-.3 2.7-.1 2.8 .1 2.7 .3 2.7 .4 2.7 .6 2.6 .8 2.6 1 2.5 1.2 2.5 1.2 2.3 1.5 2.3 1.6 2.2 1.7 2 1.9 1.9 2 1.8Z" fill="#b4dcf0" fill-opacity="1"/>
<path d="M464.7 536l-34.9-16.8-.8 1.9-.7 1.9-.6 1.9-.5 2-.4 2-.3 2.1-.2 2-.1 2.1 0 2 .1 2.1 .2 2 .3 2.1 .5 2 .5 1.9 .6 2 .7 1.9 .8 1.9 .9 1.8 1 1.8 1 1.8 1.2 1.6 1.2 1.6 1.4 1.6 1.4 1.4Z" fill="#78a8d6" fill-opacity="1"/>
<path d="M464.7,536 L430.24,539.74" stroke="#3f6cff" stroke-width="1.25" stroke-dasharray="3.4,2.6"/>
<path d="M464.7,536 L428,548.03" stroke="#101a8a" stroke-width="1.0"/>
<ellipse cx="464.7" cy="536" rx="38.5" ry="39.8" fill="none" stroke="#222" stroke-width="0.8"/>
<text x="436.6" y="488.2" font-size="9.7" fill="#2828e6">2-Hz vEOG</text>
<path d="M366.7 644.1l9.4 38.6 1.9-.5 1.8-.7 1.8-.7 1.7-.8 1.7-.9 1.7-1 1.6-1.1 1.6-1.1 1.5-1.2 1.4-1.3 1.4-1.4 1.3-1.4 1.2-1.6 1.2-1.5 1-1.7 1.1-1.6 .9-1.8 .8-1.7 .8-1.9 .6-1.8 .6-1.9 .5-1.9 .4-2 .3-1.9Z" fill="#a4e26a" fill-opacity="1"/>
<path d="M366.7 644.1l-16.9-35.8-2.2 1.3-2.2 1.3-2.1 1.6-1.9 1.6-1.9 1.8-1.7 1.9-1.6 2.1-1.5 2.1-1.4 2.2-1.2 2.3-1 2.4-.9 2.5-.7 2.5-.6 2.6-.4 2.6-.2 2.6-.1 2.6 .1 2.6 .3 2.7 .4 2.5 .6 2.6 .7 2.5 1 2.5 1 2.3Z" fill="#5fbb5f" fill-opacity="1"/>
<path d="M366.7,644.1 L392.55,666.12" stroke="#14a014" stroke-width="1.25" stroke-dasharray="3.4,2.6"/>
<path d="M366.7,644.1 L335.32,621.04" stroke="#004a00" stroke-width="1.0"/>
<ellipse cx="366.7" cy="644.1" rx="38.5" ry="39.8" fill="none" stroke="#222" stroke-width="0.8"/>
<text x="338.3" y="598.4" font-size="9.7" fill="#2ca02c">1-Hz hEOG<tspan fill="#000" font-size="11.5" font-weight="bold" dy="-0.8" letter-spacing="0.9">**</tspan></text>
<path d="M464.7 644.5l-28.6 26.6 1.9 2.1 2.1 1.9 2.2 1.8 2.4 1.6 2.4 1.4 2.5 1.2 2.6 1 2.7 .9 2.7 .6 2.8 .4 2.8 .3 2.7 0 2.8-.2 2.8-.4 2.7-.6 2.7-.8 2.6-1.1 2.5-1.2 2.5-1.4 2.3-1.5 2.3-1.8 2-1.9 2-2 1.8-2.2Z" fill="#a4e26a" fill-opacity="1"/>
<path d="M464.7 644.5l16-36.2-3.7-1.5-3.8-1.1-3.9-.7-3.9-.3-4 .1-3.9 .6-3.8 1-3.7 1.3-3.6 1.8-3.3 2.1-3.2 2.4-2.9 2.8-2.6 3.1-2.2 3.3-2 3.6-1.5 3.7-1.2 3.9-.8 4-.4 4-.1 4.1 .5 4.1 .8 4 1.1 3.9 1.6 3.7Z" fill="#5fbb5f" fill-opacity="1"/>
<path d="M464.7,644.5 L468.99,684.05" stroke="#14a014" stroke-width="1.25" stroke-dasharray="3.4,2.6"/>
<path d="M464.7,644.5 L434.4,619.94" stroke="#004a00" stroke-width="1.0"/>
<ellipse cx="464.7" cy="644.5" rx="38.5" ry="39.8" fill="none" stroke="#222" stroke-width="0.8"/>
<text x="433.9" y="598.4" font-size="9.7" fill="#2ca02c">2-Hz hEOG<tspan fill="#000" font-size="11.5" font-weight="bold" dy="-0.8" letter-spacing="0.9">**</tspan></text>
</svg></body></html>
